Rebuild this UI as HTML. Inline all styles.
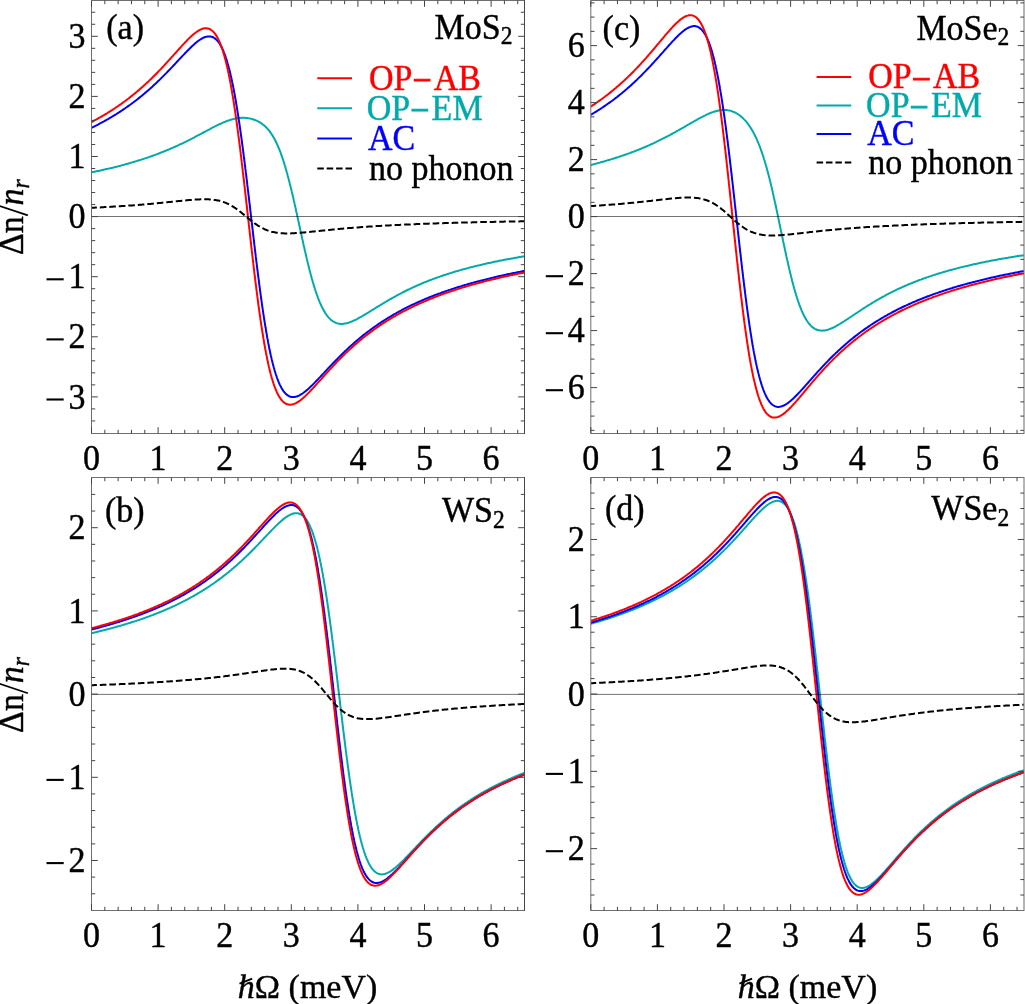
<!DOCTYPE html>
<html><head><meta charset="utf-8"><style>
html,body{margin:0;padding:0;background:#fff;overflow:hidden;}
svg{display:block;will-change:transform;}
text{stroke:#000;stroke-width:0.4px;}
</style></head><body>
<svg width="1025" height="1004" viewBox="0 0 1025 1004" font-family='"Liberation Serif", serif' font-size="34"><rect width="1025" height="1004" fill="#fff"/><clipPath id="clipa"><rect x="91.5" y="0.5" width="433.0" height="433.0"/></clipPath>
<g clip-path="url(#clipa)" fill="none" stroke-width="2.0" stroke-linejoin="round">
<path d="M91.5,172.3 92.5,172.1 93.5,171.9 94.5,171.7 95.5,171.5 96.5,171.3 97.5,171.1 98.5,170.9 99.5,170.7 100.5,170.4 101.5,170.2 102.5,170.0 103.5,169.8 104.5,169.6 105.5,169.3 106.5,169.1 107.5,168.9 108.5,168.6 109.5,168.4 110.5,168.2 111.5,167.9 112.5,167.7 113.5,167.4 114.5,167.2 115.5,166.9 116.5,166.7 117.5,166.4 118.5,166.2 119.5,165.9 120.5,165.7 121.5,165.4 122.5,165.1 123.5,164.9 124.5,164.6 125.5,164.3 126.5,164.0 127.5,163.8 128.5,163.5 129.5,163.2 130.5,162.9 131.5,162.6 132.5,162.3 133.5,162.0 134.5,161.7 135.5,161.4 136.5,161.1 137.5,160.8 138.5,160.5 139.5,160.2 140.5,159.9 141.5,159.6 142.5,159.2 143.5,158.9 144.5,158.6 145.5,158.2 146.5,157.9 147.5,157.6 148.5,157.2 149.5,156.9 150.5,156.5 151.5,156.2 152.5,155.8 153.5,155.5 154.5,155.1 155.5,154.7 156.5,154.4 157.5,154.0 158.5,153.6 159.5,153.2 160.5,152.8 161.5,152.4 162.5,152.0 163.5,151.6 164.5,151.2 165.5,150.8 166.5,150.4 167.5,150.0 168.5,149.6 169.5,149.2 170.5,148.7 171.5,148.3 172.5,147.9 173.5,147.4 174.5,147.0 175.5,146.5 176.5,146.1 177.5,145.6 178.5,145.2 179.5,144.7 180.5,144.2 181.5,143.8 182.5,143.3 183.5,142.8 184.5,142.3 185.5,141.8 186.5,141.3 187.5,140.8 188.5,140.3 189.5,139.8 190.5,139.3 191.5,138.8 192.5,138.3 193.5,137.8 194.5,137.3 195.5,136.7 196.5,136.2 197.5,135.7 198.5,135.2 199.5,134.6 200.5,134.1 201.5,133.6 202.5,133.0 203.5,132.5 204.5,132.0 205.5,131.4 206.5,130.9 207.5,130.3 208.5,129.8 209.5,129.3 210.5,128.8 211.5,128.2 212.5,127.7 213.5,127.2 214.5,126.7 215.5,126.2 216.5,125.7 217.5,125.2 218.5,124.7 219.5,124.2 220.5,123.8 221.5,123.3 222.5,122.9 223.5,122.4 224.5,122.0 225.5,121.6 226.5,121.2 227.5,120.8 228.5,120.5 229.5,120.2 230.5,119.8 231.5,119.5 232.5,119.3 233.5,119.0 234.5,118.8 235.5,118.6 236.5,118.4 237.5,118.2 238.5,118.1 239.5,118.0 240.5,117.9 241.5,117.8 242.5,117.8 243.5,117.8 244.5,117.8 245.5,117.9 246.5,118.0 247.5,118.1 248.5,118.3 249.5,118.4 250.5,118.6 251.5,118.9 252.5,119.2 253.5,119.5 254.5,119.8 255.5,120.2 256.5,120.6 257.5,121.1 258.5,121.6 259.5,122.2 260.5,122.8 261.5,123.4 262.5,124.2 263.5,124.9 264.5,125.8 265.5,126.7 266.5,127.7 267.5,128.8 268.5,129.9 269.5,131.2 270.5,132.6 271.5,134.0 272.0,134.8 272.5,135.6 273.0,136.4 273.5,137.2 274.0,138.1 274.5,139.0 275.0,140.0 275.5,141.0 276.0,142.0 276.5,143.0 277.0,144.1 277.5,145.2 278.0,146.3 278.5,147.5 279.0,148.7 279.5,149.9 280.0,151.2 280.5,152.5 281.0,153.9 281.5,155.3 282.0,156.7 282.5,158.2 282.8,159.2 283.2,160.2 283.5,161.2 283.8,162.2 284.2,163.3 284.5,164.4 284.8,165.5 285.2,166.6 285.5,167.7 285.8,168.8 286.2,170.0 286.5,171.2 286.8,172.3 287.2,173.5 287.5,174.8 287.8,176.0 288.2,177.2 288.5,178.5 288.8,179.8 289.2,181.1 289.5,182.4 289.8,183.7 290.2,185.0 290.5,186.4 290.8,187.7 291.2,189.1 291.5,190.5 291.8,191.9 292.2,193.3 292.5,194.7 292.8,196.1 293.2,197.5 293.5,199.0 293.8,200.4 294.2,201.9 294.5,203.4 294.8,204.8 295.2,206.3 295.5,207.8 295.8,208.9 296.0,210.1 296.2,211.2 296.5,212.3 296.8,213.5 297.0,214.6 297.2,215.7 297.5,216.9 297.8,218.0 298.0,219.2 298.2,220.3 298.5,221.5 298.8,222.6 299.0,223.8 299.2,224.9 299.5,226.1 299.8,227.2 300.0,228.4 300.2,229.5 300.5,230.7 300.8,231.8 301.0,233.0 301.2,234.1 301.5,235.2 301.8,236.4 302.0,237.5 302.2,238.7 302.5,239.8 302.8,240.9 303.0,242.1 303.2,243.2 303.5,244.3 303.8,245.8 304.2,247.3 304.5,248.8 304.8,250.2 305.2,251.7 305.5,253.1 305.8,254.6 306.2,256.0 306.5,257.4 306.8,258.9 307.2,260.3 307.5,261.6 307.8,263.0 308.2,264.4 308.5,265.7 308.8,267.1 309.2,268.4 309.5,269.7 309.8,271.0 310.2,272.3 310.5,273.6 310.8,274.8 311.2,276.0 311.5,277.3 311.8,278.5 312.2,279.7 312.5,280.8 312.8,282.0 313.2,283.1 313.5,284.3 313.8,285.4 314.2,286.5 314.5,287.5 314.8,288.6 315.2,289.6 315.5,290.7 316.0,292.2 316.5,293.6 317.0,295.1 317.5,296.4 318.0,297.8 318.5,299.1 319.0,300.4 319.5,301.6 320.0,302.8 320.5,303.9 321.0,305.0 321.5,306.1 322.0,307.1 322.5,308.1 323.0,309.1 323.5,310.0 324.0,310.9 324.5,311.7 325.0,312.6 325.5,313.3 326.5,314.8 327.5,316.1 328.5,317.3 329.5,318.4 330.5,319.4 331.5,320.3 332.5,321.0 333.5,321.7 334.5,322.2 335.5,322.7 336.5,323.1 337.5,323.4 338.5,323.6 339.5,323.8 340.5,323.9 341.5,323.9 342.5,323.9 343.5,323.8 344.5,323.6 345.5,323.5 346.5,323.2 347.5,323.0 348.5,322.7 349.5,322.4 350.5,322.0 351.5,321.6 352.5,321.2 353.5,320.7 354.5,320.3 355.5,319.8 356.5,319.3 357.5,318.8 358.5,318.2 359.5,317.7 360.5,317.1 361.5,316.6 362.5,316.0 363.5,315.4 364.5,314.8 365.5,314.2 366.5,313.6 367.5,313.0 368.5,312.4 369.5,311.8 370.5,311.1 371.5,310.5 372.5,309.9 373.5,309.3 374.5,308.7 375.5,308.0 376.5,307.4 377.5,306.8 378.5,306.2 379.5,305.6 380.5,305.0 381.5,304.4 382.5,303.8 383.5,303.1 384.5,302.6 385.5,302.0 386.5,301.4 387.5,300.8 388.5,300.2 389.5,299.6 390.5,299.0 391.5,298.5 392.5,297.9 393.5,297.4 394.5,296.8 395.5,296.3 396.5,295.7 397.5,295.2 398.5,294.6 399.5,294.1 400.5,293.6 401.5,293.1 402.5,292.5 403.5,292.0 404.5,291.5 405.5,291.0 406.5,290.5 407.5,290.0 408.5,289.5 409.5,289.1 410.5,288.6 411.5,288.1 412.5,287.7 413.5,287.2 414.5,286.7 415.5,286.3 416.5,285.8 417.5,285.4 418.5,285.0 419.5,284.5 420.5,284.1 421.5,283.7 422.5,283.2 423.5,282.8 424.5,282.4 425.5,282.0 426.5,281.6 427.5,281.2 428.5,280.8 429.5,280.4 430.5,280.0 431.5,279.6 432.5,279.3 433.5,278.9 434.5,278.5 435.5,278.2 436.5,277.8 437.5,277.4 438.5,277.1 439.5,276.7 440.5,276.4 441.5,276.0 442.5,275.7 443.5,275.3 444.5,275.0 445.5,274.7 446.5,274.4 447.5,274.0 448.5,273.7 449.5,273.4 450.5,273.1 451.5,272.8 452.5,272.5 453.5,272.1 454.5,271.8 455.5,271.5 456.5,271.2 457.5,271.0 458.5,270.7 459.5,270.4 460.5,270.1 461.5,269.8 462.5,269.5 463.5,269.2 464.5,269.0 465.5,268.7 466.5,268.4 467.5,268.2 468.5,267.9 469.5,267.6 470.5,267.4 471.5,267.1 472.5,266.9 473.5,266.6 474.5,266.4 475.5,266.1 476.5,265.9 477.5,265.6 478.5,265.4 479.5,265.2 480.5,264.9 481.5,264.7 482.5,264.5 483.5,264.2 484.5,264.0 485.5,263.8 486.5,263.5 487.5,263.3 488.5,263.1 489.5,262.9 490.5,262.7 491.5,262.5 492.5,262.2 493.5,262.0 494.5,261.8 495.5,261.6 496.5,261.4 497.5,261.2 498.5,261.0 499.5,260.8 500.5,260.6 501.5,260.4 502.5,260.2 503.5,260.0 504.5,259.8 505.5,259.6 506.5,259.5 507.5,259.3 508.5,259.1 509.5,258.9 510.5,258.7 511.5,258.5 512.5,258.4 513.5,258.2 514.5,258.0 515.5,257.8 516.5,257.7 517.5,257.5 518.5,257.3 519.5,257.1 520.5,257.0 521.5,256.8 522.5,256.6 523.5,256.5 524.5,256.3" stroke="#00aaaa"/>
<path d="M91.5,127.8 92.5,127.3 93.5,126.8 94.5,126.3 95.5,125.8 96.5,125.3 97.5,124.8 98.5,124.3 99.5,123.7 100.5,123.2 101.5,122.7 102.5,122.1 103.5,121.6 104.5,121.0 105.5,120.5 106.5,119.9 107.5,119.3 108.5,118.8 109.5,118.2 110.5,117.6 111.5,117.0 112.5,116.4 113.5,115.8 114.5,115.2 115.5,114.6 116.5,114.0 117.5,113.3 118.5,112.7 119.5,112.1 120.5,111.4 121.5,110.7 122.5,110.1 123.5,109.4 124.5,108.7 125.5,108.0 126.5,107.3 127.5,106.6 128.5,105.9 129.5,105.2 130.5,104.5 131.5,103.8 132.5,103.0 133.5,102.3 134.5,101.5 135.5,100.7 136.5,100.0 137.5,99.2 138.5,98.4 139.5,97.6 140.5,96.8 141.5,96.0 142.5,95.2 143.5,94.3 144.5,93.5 145.5,92.6 146.5,91.8 147.5,90.9 148.5,90.0 149.5,89.2 150.5,88.3 151.5,87.4 152.5,86.5 153.5,85.5 154.5,84.6 155.5,83.7 156.5,82.7 157.5,81.8 158.5,80.8 159.5,79.9 160.5,78.9 161.5,77.9 162.5,76.9 163.5,75.9 164.5,74.9 165.5,73.9 166.5,72.9 167.5,71.8 168.5,70.8 169.5,69.7 170.5,68.7 171.5,67.6 172.5,66.6 173.5,65.5 174.5,64.5 175.5,63.4 176.5,62.3 177.5,61.3 178.5,60.2 179.5,59.1 180.5,58.0 181.5,57.0 182.5,55.9 183.5,54.9 184.5,53.8 185.5,52.8 186.5,51.7 187.5,50.7 188.5,49.7 189.5,48.7 190.5,47.7 191.5,46.7 192.5,45.8 193.5,44.9 194.5,44.0 195.5,43.1 196.5,42.3 197.5,41.5 198.5,40.7 199.5,40.0 200.5,39.4 201.5,38.8 202.5,38.2 203.5,37.7 204.5,37.3 205.5,36.9 206.5,36.7 207.5,36.5 208.5,36.4 209.5,36.4 210.5,36.5 211.5,36.7 212.5,37.0 213.5,37.5 214.5,38.1 215.5,38.9 216.5,39.8 217.5,40.9 218.5,42.1 219.5,43.5 220.0,44.3 220.5,45.2 221.0,46.1 221.5,47.0 222.0,48.0 222.5,49.1 223.0,50.2 223.5,51.3 224.0,52.6 224.5,53.8 225.0,55.2 225.5,56.6 225.8,57.6 226.2,58.6 226.5,59.6 226.8,60.7 227.2,61.8 227.5,62.9 227.8,64.0 228.2,65.2 228.5,66.4 228.8,67.7 229.2,68.9 229.5,70.2 229.8,71.6 230.2,73.0 230.5,74.4 230.8,75.8 231.2,77.2 231.5,78.7 231.8,79.9 232.0,81.1 232.2,82.2 232.5,83.4 232.8,84.6 233.0,85.9 233.2,87.1 233.5,88.4 233.8,89.7 234.0,91.0 234.2,92.3 234.5,93.7 234.8,95.1 235.0,96.4 235.2,97.8 235.5,99.3 235.8,100.7 236.0,102.2 236.2,103.6 236.5,105.1 236.7,106.3 236.9,107.6 237.1,108.8 237.3,110.0 237.5,111.3 237.7,112.6 237.9,113.8 238.1,115.1 238.3,116.4 238.5,117.7 238.7,119.0 238.9,120.4 239.1,121.7 239.3,123.1 239.5,124.4 239.7,125.8 239.9,127.2 240.1,128.6 240.3,130.0 240.5,131.4 240.7,132.8 240.9,134.3 241.1,135.7 241.3,137.2 241.5,138.6 241.7,140.1 241.9,141.6 242.1,143.1 242.3,144.6 242.5,146.1 242.7,147.4 242.8,148.6 243.0,149.9 243.2,151.2 243.3,152.5 243.5,153.8 243.7,155.1 243.8,156.4 244.0,157.7 244.2,159.0 244.3,160.3 244.5,161.7 244.7,163.0 244.8,164.3 245.0,165.7 245.2,167.0 245.3,168.4 245.5,169.7 245.7,171.1 245.8,172.4 246.0,173.8 246.2,175.2 246.3,176.5 246.5,177.9 246.7,179.3 246.8,180.7 247.0,182.1 247.2,183.5 247.3,184.9 247.5,186.3 247.7,187.7 247.8,189.1 248.0,190.5 248.2,191.9 248.3,193.3 248.5,194.7 248.7,196.1 248.8,197.5 249.0,198.9 249.2,200.4 249.3,201.8 249.5,203.2 249.7,204.6 249.8,206.0 250.0,207.5 250.2,208.9 250.3,210.3 250.5,211.7 250.7,213.2 250.8,214.6 251.0,216.0 251.2,217.5 251.3,218.9 251.5,220.3 251.7,221.7 251.8,223.2 252.0,224.6 252.2,226.0 252.3,227.5 252.5,228.9 252.7,230.3 252.8,231.7 253.0,233.1 253.2,234.6 253.3,236.0 253.5,237.4 253.7,238.8 253.8,240.2 254.0,241.6 254.2,243.0 254.3,244.4 254.5,245.8 254.7,247.2 254.8,248.6 255.0,250.0 255.2,251.4 255.3,252.8 255.5,254.2 255.7,255.6 255.8,256.9 256.0,258.3 256.2,259.7 256.3,261.1 256.5,262.4 256.7,263.8 256.8,265.1 257.0,266.5 257.2,267.8 257.3,269.2 257.5,270.5 257.7,271.8 257.8,273.1 258.0,274.5 258.2,275.8 258.3,277.1 258.5,278.4 258.7,279.7 258.8,281.0 259.0,282.3 259.2,283.6 259.3,284.8 259.5,286.1 259.7,287.6 259.9,289.1 260.1,290.6 260.3,292.1 260.5,293.6 260.7,295.1 260.9,296.5 261.1,298.0 261.3,299.4 261.5,300.9 261.7,302.3 261.9,303.7 262.1,305.1 262.3,306.5 262.5,307.9 262.7,309.3 262.9,310.6 263.1,312.0 263.3,313.3 263.5,314.6 263.7,316.0 263.9,317.3 264.1,318.6 264.3,319.8 264.5,321.1 264.7,322.4 264.9,323.6 265.1,324.9 265.3,326.1 265.5,327.3 265.8,328.8 266.0,330.3 266.2,331.8 266.5,333.2 266.8,334.7 267.0,336.1 267.2,337.5 267.5,338.9 267.8,340.2 268.0,341.6 268.2,342.9 268.5,344.2 268.8,345.5 269.0,346.7 269.2,348.0 269.5,349.2 269.8,350.4 270.0,351.6 270.2,352.8 270.5,353.9 270.8,355.5 271.2,356.9 271.5,358.4 271.8,359.8 272.2,361.2 272.5,362.5 272.8,363.8 273.2,365.1 273.5,366.4 273.8,367.6 274.2,368.8 274.5,370.0 274.8,371.1 275.2,372.2 275.5,373.3 275.8,374.3 276.2,375.4 276.5,376.3 277.0,377.8 277.5,379.1 278.0,380.4 278.5,381.7 279.0,382.9 279.5,384.0 280.0,385.1 280.5,386.1 281.0,387.0 281.5,388.0 282.0,388.8 282.5,389.6 283.5,391.1 284.5,392.4 285.5,393.5 286.5,394.4 287.5,395.2 288.5,395.8 289.5,396.3 290.5,396.7 291.5,396.9 292.5,397.0 293.5,397.0 294.5,397.0 295.5,396.8 296.5,396.5 297.5,396.2 298.5,395.8 299.5,395.3 300.5,394.7 301.5,394.1 302.5,393.5 303.5,392.8 304.5,392.0 305.5,391.2 306.5,390.4 307.5,389.6 308.5,388.7 309.5,387.7 310.5,386.8 311.5,385.8 312.5,384.9 313.5,383.9 314.5,382.9 315.5,381.8 316.5,380.8 317.5,379.8 318.5,378.7 319.5,377.6 320.5,376.6 321.5,375.5 322.5,374.4 323.5,373.4 324.5,372.3 325.5,371.2 326.5,370.2 327.5,369.1 328.5,368.0 329.5,367.0 330.5,365.9 331.5,364.9 332.5,363.8 333.5,362.8 334.5,361.7 335.5,360.7 336.5,359.7 337.5,358.7 338.5,357.6 339.5,356.6 340.5,355.7 341.5,354.7 342.5,353.7 343.5,352.7 344.5,351.8 345.5,350.8 346.5,349.9 347.5,348.9 348.5,348.0 349.5,347.1 350.5,346.2 351.5,345.3 352.5,344.4 353.5,343.5 354.5,342.6 355.5,341.7 356.5,340.9 357.5,340.0 358.5,339.2 359.5,338.4 360.5,337.5 361.5,336.7 362.5,335.9 363.5,335.1 364.5,334.3 365.5,333.5 366.5,332.8 367.5,332.0 368.5,331.2 369.5,330.5 370.5,329.7 371.5,329.0 372.5,328.3 373.5,327.6 374.5,326.9 375.5,326.2 376.5,325.5 377.5,324.8 378.5,324.1 379.5,323.4 380.5,322.8 381.5,322.1 382.5,321.4 383.5,320.8 384.5,320.2 385.5,319.5 386.5,318.9 387.5,318.3 388.5,317.7 389.5,317.1 390.5,316.5 391.5,315.9 392.5,315.3 393.5,314.7 394.5,314.1 395.5,313.6 396.5,313.0 397.5,312.4 398.5,311.9 399.5,311.3 400.5,310.8 401.5,310.3 402.5,309.7 403.5,309.2 404.5,308.7 405.5,308.2 406.5,307.7 407.5,307.2 408.5,306.7 409.5,306.2 410.5,305.7 411.5,305.2 412.5,304.7 413.5,304.3 414.5,303.8 415.5,303.3 416.5,302.9 417.5,302.4 418.5,302.0 419.5,301.5 420.5,301.1 421.5,300.6 422.5,300.2 423.5,299.8 424.5,299.3 425.5,298.9 426.5,298.5 427.5,298.1 428.5,297.7 429.5,297.3 430.5,296.9 431.5,296.5 432.5,296.1 433.5,295.7 434.5,295.3 435.5,294.9 436.5,294.5 437.5,294.2 438.5,293.8 439.5,293.4 440.5,293.1 441.5,292.7 442.5,292.3 443.5,292.0 444.5,291.6 445.5,291.3 446.5,290.9 447.5,290.6 448.5,290.2 449.5,289.9 450.5,289.6 451.5,289.2 452.5,288.9 453.5,288.6 454.5,288.2 455.5,287.9 456.5,287.6 457.5,287.3 458.5,287.0 459.5,286.7 460.5,286.4 461.5,286.1 462.5,285.7 463.5,285.4 464.5,285.1 465.5,284.9 466.5,284.6 467.5,284.3 468.5,284.0 469.5,283.7 470.5,283.4 471.5,283.1 472.5,282.9 473.5,282.6 474.5,282.3 475.5,282.0 476.5,281.8 477.5,281.5 478.5,281.2 479.5,281.0 480.5,280.7 481.5,280.4 482.5,280.2 483.5,279.9 484.5,279.7 485.5,279.4 486.5,279.2 487.5,278.9 488.5,278.7 489.5,278.4 490.5,278.2 491.5,277.9 492.5,277.7 493.5,277.5 494.5,277.2 495.5,277.0 496.5,276.8 497.5,276.5 498.5,276.3 499.5,276.1 500.5,275.9 501.5,275.6 502.5,275.4 503.5,275.2 504.5,275.0 505.5,274.8 506.5,274.5 507.5,274.3 508.5,274.1 509.5,273.9 510.5,273.7 511.5,273.5 512.5,273.3 513.5,273.1 514.5,272.9 515.5,272.7 516.5,272.5 517.5,272.3 518.5,272.1 519.5,271.9 520.5,271.7 521.5,271.5 522.5,271.3 523.5,271.1 524.5,270.9" stroke="#0000ff"/>
<path d="M91.5,122.0 92.5,121.5 93.5,121.0 94.5,120.4 95.5,119.9 96.5,119.4 97.5,118.8 98.5,118.2 99.5,117.7 100.5,117.1 101.5,116.5 102.5,116.0 103.5,115.4 104.5,114.8 105.5,114.2 106.5,113.6 107.5,113.0 108.5,112.3 109.5,111.7 110.5,111.1 111.5,110.4 112.5,109.8 113.5,109.1 114.5,108.5 115.5,107.8 116.5,107.1 117.5,106.5 118.5,105.8 119.5,105.1 120.5,104.4 121.5,103.7 122.5,102.9 123.5,102.2 124.5,101.5 125.5,100.7 126.5,100.0 127.5,99.2 128.5,98.5 129.5,97.7 130.5,96.9 131.5,96.1 132.5,95.3 133.5,94.5 134.5,93.7 135.5,92.9 136.5,92.0 137.5,91.2 138.5,90.4 139.5,89.5 140.5,88.6 141.5,87.7 142.5,86.9 143.5,86.0 144.5,85.1 145.5,84.1 146.5,83.2 147.5,82.3 148.5,81.4 149.5,80.4 150.5,79.4 151.5,78.5 152.5,77.5 153.5,76.5 154.5,75.5 155.5,74.5 156.5,73.5 157.5,72.5 158.5,71.4 159.5,70.4 160.5,69.4 161.5,68.3 162.5,67.2 163.5,66.2 164.5,65.1 165.5,64.0 166.5,62.9 167.5,61.8 168.5,60.7 169.5,59.6 170.5,58.5 171.5,57.4 172.5,56.3 173.5,55.2 174.5,54.1 175.5,53.0 176.5,51.8 177.5,50.7 178.5,49.6 179.5,48.5 180.5,47.4 181.5,46.3 182.5,45.2 183.5,44.1 184.5,43.1 185.5,42.0 186.5,41.0 187.5,39.9 188.5,38.9 189.5,37.9 190.5,37.0 191.5,36.1 192.5,35.2 193.5,34.3 194.5,33.5 195.5,32.7 196.5,32.0 197.5,31.3 198.5,30.7 199.5,30.1 200.5,29.6 201.5,29.1 202.5,28.8 203.5,28.5 204.5,28.3 205.5,28.2 206.5,28.3 207.5,28.4 208.5,28.6 209.5,29.0 210.5,29.5 211.5,30.2 212.5,31.0 213.5,31.9 214.5,33.1 215.5,34.4 216.0,35.2 216.5,35.9 217.0,36.8 217.5,37.7 218.0,38.6 218.5,39.6 219.0,40.7 219.5,41.8 220.0,43.0 220.5,44.2 221.0,45.5 221.5,46.9 222.0,48.3 222.5,49.8 222.8,50.8 223.2,51.9 223.5,52.9 223.8,54.1 224.2,55.2 224.5,56.4 224.8,57.6 225.2,58.9 225.5,60.1 225.8,61.4 226.2,62.8 226.5,64.2 226.8,65.6 227.2,67.0 227.5,68.5 227.8,69.6 228.0,70.8 228.2,71.9 228.5,73.1 228.8,74.3 229.0,75.5 229.2,76.8 229.5,78.0 229.8,79.3 230.0,80.6 230.2,81.9 230.5,83.3 230.8,84.6 231.0,86.0 231.2,87.4 231.5,88.8 231.8,90.3 232.0,91.7 232.2,93.2 232.5,94.7 232.7,95.9 232.9,97.1 233.1,98.3 233.3,99.6 233.5,100.8 233.7,102.1 233.9,103.4 234.1,104.7 234.3,106.0 234.5,107.3 234.7,108.6 234.9,110.0 235.1,111.3 235.3,112.7 235.5,114.1 235.7,115.5 235.9,116.9 236.1,118.3 236.3,119.7 236.5,121.1 236.7,122.6 236.9,124.0 237.1,125.5 237.3,126.9 237.5,128.4 237.7,129.7 237.8,130.9 238.0,132.2 238.2,133.4 238.3,134.7 238.5,136.0 238.7,137.3 238.8,138.6 239.0,139.9 239.2,141.2 239.3,142.5 239.5,143.8 239.7,145.1 239.8,146.5 240.0,147.8 240.2,149.2 240.3,150.5 240.5,151.9 240.7,153.2 240.8,154.6 241.0,156.0 241.2,157.3 241.3,158.7 241.5,160.1 241.7,161.5 241.8,162.9 242.0,164.3 242.2,165.7 242.3,167.1 242.5,168.5 242.7,170.0 242.8,171.4 243.0,172.8 243.2,174.2 243.3,175.7 243.5,177.1 243.7,178.6 243.8,180.0 244.0,181.5 244.2,182.9 244.3,184.4 244.5,185.8 244.7,187.3 244.8,188.8 245.0,190.2 245.2,191.7 245.3,193.2 245.5,194.6 245.7,196.1 245.8,197.6 246.0,199.1 246.2,200.6 246.3,202.0 246.5,203.5 246.7,205.0 246.8,206.5 247.0,208.0 247.2,209.5 247.3,211.0 247.5,212.5 247.7,213.9 247.8,215.4 248.0,216.9 248.2,218.4 248.3,219.9 248.5,221.4 248.7,222.9 248.8,224.4 249.0,225.9 249.2,227.4 249.3,228.8 249.5,230.3 249.7,231.8 249.8,233.3 250.0,234.8 250.2,236.3 250.3,237.7 250.5,239.2 250.7,240.7 250.8,242.2 251.0,243.6 251.2,245.1 251.3,246.6 251.5,248.0 251.7,249.5 251.8,250.9 252.0,252.4 252.2,253.8 252.3,255.3 252.5,256.7 252.7,258.1 252.8,259.6 253.0,261.0 253.2,262.4 253.3,263.9 253.5,265.3 253.7,266.7 253.8,268.1 254.0,269.5 254.2,270.9 254.3,272.3 254.5,273.7 254.7,275.1 254.8,276.5 255.0,277.8 255.2,279.2 255.3,280.6 255.5,281.9 255.7,283.3 255.8,284.6 256.0,285.9 256.2,287.3 256.3,288.6 256.5,289.9 256.7,291.2 256.8,292.6 257.0,293.9 257.2,295.2 257.3,296.4 257.5,297.7 257.7,299.0 257.8,300.3 258.0,301.5 258.2,302.8 258.3,304.0 258.5,305.3 258.7,306.8 258.9,308.2 259.1,309.7 259.3,311.1 259.5,312.6 259.7,314.0 259.9,315.4 260.1,316.8 260.3,318.2 260.5,319.6 260.7,320.9 260.9,322.3 261.1,323.6 261.3,325.0 261.5,326.3 261.7,327.6 261.9,328.9 262.1,330.2 262.3,331.5 262.5,332.7 262.7,334.0 262.9,335.2 263.1,336.5 263.3,337.7 263.5,338.9 263.8,340.4 264.0,341.8 264.2,343.3 264.5,344.7 264.8,346.1 265.0,347.5 265.2,348.9 265.5,350.2 265.8,351.5 266.0,352.9 266.2,354.1 266.5,355.4 266.8,356.7 267.0,357.9 267.2,359.1 267.5,360.3 267.8,361.5 268.0,362.7 268.2,363.8 268.5,364.9 268.8,366.4 269.2,367.8 269.5,369.2 269.8,370.6 270.2,371.9 270.5,373.2 270.8,374.5 271.2,375.7 271.5,376.9 271.8,378.1 272.2,379.2 272.5,380.3 272.8,381.4 273.2,382.5 273.5,383.5 274.0,385.0 274.5,386.4 275.0,387.7 275.5,389.0 276.0,390.2 276.5,391.4 277.0,392.5 277.5,393.5 278.0,394.5 278.5,395.4 279.0,396.3 279.5,397.2 280.0,397.9 280.5,398.7 281.5,400.0 282.5,401.1 283.5,402.1 284.5,402.9 285.5,403.5 286.5,404.0 287.5,404.3 288.5,404.6 289.5,404.7 290.5,404.7 291.5,404.6 292.5,404.4 293.5,404.1 294.5,403.8 295.5,403.3 296.5,402.8 297.5,402.2 298.5,401.6 299.5,400.9 300.5,400.2 301.5,399.4 302.5,398.5 303.5,397.7 304.5,396.8 305.5,395.9 306.5,394.9 307.5,393.9 308.5,392.9 309.5,391.9 310.5,390.8 311.5,389.8 312.5,388.7 313.5,387.6 314.5,386.5 315.5,385.4 316.5,384.3 317.5,383.2 318.5,382.1 319.5,381.0 320.5,379.9 321.5,378.8 322.5,377.6 323.5,376.5 324.5,375.4 325.5,374.3 326.5,373.2 327.5,372.1 328.5,371.0 329.5,369.9 330.5,368.8 331.5,367.7 332.5,366.7 333.5,365.6 334.5,364.5 335.5,363.5 336.5,362.4 337.5,361.4 338.5,360.4 339.5,359.3 340.5,358.3 341.5,357.3 342.5,356.3 343.5,355.3 344.5,354.4 345.5,353.4 346.5,352.4 347.5,351.5 348.5,350.6 349.5,349.6 350.5,348.7 351.5,347.8 352.5,346.9 353.5,346.0 354.5,345.1 355.5,344.2 356.5,343.4 357.5,342.5 358.5,341.6 359.5,340.8 360.5,340.0 361.5,339.2 362.5,338.3 363.5,337.5 364.5,336.7 365.5,335.9 366.5,335.2 367.5,334.4 368.5,333.6 369.5,332.9 370.5,332.1 371.5,331.4 372.5,330.6 373.5,329.9 374.5,329.2 375.5,328.5 376.5,327.8 377.5,327.1 378.5,326.4 379.5,325.7 380.5,325.1 381.5,324.4 382.5,323.7 383.5,323.1 384.5,322.4 385.5,321.8 386.5,321.2 387.5,320.5 388.5,319.9 389.5,319.3 390.5,318.7 391.5,318.1 392.5,317.5 393.5,316.9 394.5,316.3 395.5,315.8 396.5,315.2 397.5,314.6 398.5,314.1 399.5,313.5 400.5,313.0 401.5,312.4 402.5,311.9 403.5,311.4 404.5,310.9 405.5,310.3 406.5,309.8 407.5,309.3 408.5,308.8 409.5,308.3 410.5,307.8 411.5,307.3 412.5,306.8 413.5,306.4 414.5,305.9 415.5,305.4 416.5,305.0 417.5,304.5 418.5,304.0 419.5,303.6 420.5,303.1 421.5,302.7 422.5,302.3 423.5,301.8 424.5,301.4 425.5,301.0 426.5,300.5 427.5,300.1 428.5,299.7 429.5,299.3 430.5,298.9 431.5,298.5 432.5,298.1 433.5,297.7 434.5,297.3 435.5,296.9 436.5,296.5 437.5,296.1 438.5,295.8 439.5,295.4 440.5,295.0 441.5,294.6 442.5,294.3 443.5,293.9 444.5,293.5 445.5,293.2 446.5,292.8 447.5,292.5 448.5,292.1 449.5,291.8 450.5,291.5 451.5,291.1 452.5,290.8 453.5,290.5 454.5,290.1 455.5,289.8 456.5,289.5 457.5,289.1 458.5,288.8 459.5,288.5 460.5,288.2 461.5,287.9 462.5,287.6 463.5,287.3 464.5,287.0 465.5,286.7 466.5,286.4 467.5,286.1 468.5,285.8 469.5,285.5 470.5,285.2 471.5,284.9 472.5,284.6 473.5,284.4 474.5,284.1 475.5,283.8 476.5,283.5 477.5,283.2 478.5,283.0 479.5,282.7 480.5,282.4 481.5,282.2 482.5,281.9 483.5,281.7 484.5,281.4 485.5,281.1 486.5,280.9 487.5,280.6 488.5,280.4 489.5,280.1 490.5,279.9 491.5,279.6 492.5,279.4 493.5,279.2 494.5,278.9 495.5,278.7 496.5,278.4 497.5,278.2 498.5,278.0 499.5,277.7 500.5,277.5 501.5,277.3 502.5,277.1 503.5,276.8 504.5,276.6 505.5,276.4 506.5,276.2 507.5,276.0 508.5,275.7 509.5,275.5 510.5,275.3 511.5,275.1 512.5,274.9 513.5,274.7 514.5,274.5 515.5,274.3 516.5,274.1 517.5,273.9 518.5,273.6 519.5,273.4 520.5,273.2 521.5,273.1 522.5,272.9 523.5,272.7 524.5,272.5" stroke="#ff0000"/>
<path d="M91.5,207.8 92.5,207.8 93.5,207.7 94.5,207.7 95.5,207.6 96.5,207.6 97.5,207.5 98.5,207.5 99.5,207.4 100.5,207.4 101.5,207.3 102.5,207.3 103.5,207.2 104.5,207.1 105.5,207.1 106.5,207.0 107.5,207.0 108.5,206.9 109.5,206.9 110.5,206.8 111.5,206.7 112.5,206.7 113.5,206.6 114.5,206.6 115.5,206.5 116.5,206.4 117.5,206.4 118.5,206.3 119.5,206.3 120.5,206.2 121.5,206.1 122.5,206.1 123.5,206.0 124.5,205.9 125.5,205.9 126.5,205.8 127.5,205.7 128.5,205.6 129.5,205.6 130.5,205.5 131.5,205.4 132.5,205.4 133.5,205.3 134.5,205.2 135.5,205.1 136.5,205.0 137.5,205.0 138.5,204.9 139.5,204.8 140.5,204.7 141.5,204.7 142.5,204.6 143.5,204.5 144.5,204.4 145.5,204.3 146.5,204.2 147.5,204.1 148.5,204.1 149.5,204.0 150.5,203.9 151.5,203.8 152.5,203.7 153.5,203.6 154.5,203.5 155.5,203.4 156.5,203.3 157.5,203.2 158.5,203.1 159.5,203.0 160.5,202.9 161.5,202.8 162.5,202.7 163.5,202.6 164.5,202.5 165.5,202.4 166.5,202.3 167.5,202.2 168.5,202.1 169.5,202.0 170.5,201.9 171.5,201.8 172.5,201.7 173.5,201.6 174.5,201.5 175.5,201.4 176.5,201.3 177.5,201.2 178.5,201.1 179.5,201.0 180.5,200.9 181.5,200.8 182.5,200.7 183.5,200.6 184.5,200.5 185.5,200.4 186.5,200.3 187.5,200.2 188.5,200.1 189.5,200.0 190.5,200.0 191.5,199.9 192.5,199.8 193.5,199.7 194.5,199.6 195.5,199.6 196.5,199.5 197.5,199.5 198.5,199.4 199.5,199.4 200.5,199.3 201.5,199.3 202.5,199.3 203.5,199.2 204.5,199.2 205.5,199.2 206.5,199.3 207.5,199.3 208.5,199.3 209.5,199.4 210.5,199.4 211.5,199.5 212.5,199.6 213.5,199.7 214.5,199.9 215.5,200.0 216.5,200.2 217.5,200.4 218.5,200.6 219.5,200.8 220.5,201.1 221.5,201.4 222.5,201.7 223.5,202.0 224.5,202.4 225.5,202.7 226.5,203.2 227.5,203.6 228.5,204.1 229.5,204.6 230.5,205.1 231.5,205.7 232.5,206.3 233.5,206.9 234.5,207.6 235.5,208.2 236.5,208.9 237.5,209.7 238.5,210.4 239.5,211.2 240.5,211.9 241.5,212.7 242.5,213.6 243.5,214.4 244.5,215.2 245.5,216.0 246.5,216.8 247.5,217.7 248.5,218.5 249.5,219.3 250.5,220.1 251.5,220.9 252.5,221.7 253.5,222.4 254.5,223.2 255.5,223.9 256.5,224.6 257.5,225.3 258.5,225.9 259.5,226.5 260.5,227.1 261.5,227.7 262.5,228.2 263.5,228.7 264.5,229.2 265.5,229.6 266.5,230.0 267.5,230.4 268.5,230.7 269.5,231.1 270.5,231.4 271.5,231.7 272.5,231.9 273.5,232.1 274.5,232.3 275.5,232.5 276.5,232.7 277.5,232.8 278.5,233.0 279.5,233.1 280.5,233.2 281.5,233.2 282.5,233.3 283.5,233.3 284.5,233.4 285.5,233.4 286.5,233.4 287.5,233.4 288.5,233.4 289.5,233.4 290.5,233.4 291.5,233.3 292.5,233.3 293.5,233.2 294.5,233.2 295.5,233.1 296.5,233.1 297.5,233.0 298.5,232.9 299.5,232.8 300.5,232.8 301.5,232.7 302.5,232.6 303.5,232.5 304.5,232.4 305.5,232.3 306.5,232.2 307.5,232.1 308.5,232.0 309.5,231.9 310.5,231.8 311.5,231.7 312.5,231.6 313.5,231.5 314.5,231.4 315.5,231.3 316.5,231.2 317.5,231.1 318.5,231.0 319.5,230.9 320.5,230.8 321.5,230.7 322.5,230.6 323.5,230.5 324.5,230.4 325.5,230.3 326.5,230.2 327.5,230.1 328.5,230.0 329.5,229.9 330.5,229.8 331.5,229.7 332.5,229.6 333.5,229.5 334.5,229.4 335.5,229.3 336.5,229.2 337.5,229.1 338.5,229.0 339.5,228.9 340.5,228.8 341.5,228.7 342.5,228.7 343.5,228.6 344.5,228.5 345.5,228.4 346.5,228.3 347.5,228.2 348.5,228.1 349.5,228.1 350.5,228.0 351.5,227.9 352.5,227.8 353.5,227.7 354.5,227.7 355.5,227.6 356.5,227.5 357.5,227.4 358.5,227.4 359.5,227.3 360.5,227.2 361.5,227.1 362.5,227.1 363.5,227.0 364.5,226.9 365.5,226.8 366.5,226.8 367.5,226.7 368.5,226.6 369.5,226.6 370.5,226.5 371.5,226.4 372.5,226.4 373.5,226.3 374.5,226.3 375.5,226.2 376.5,226.1 377.5,226.1 378.5,226.0 379.5,225.9 380.5,225.9 381.5,225.8 382.5,225.8 383.5,225.7 384.5,225.7 385.5,225.6 386.5,225.5 387.5,225.5 388.5,225.4 389.5,225.4 390.5,225.3 391.5,225.3 392.5,225.2 393.5,225.2 394.5,225.1 395.5,225.1 396.5,225.0 397.5,225.0 398.5,224.9 399.5,224.9 400.5,224.8 401.5,224.8 402.5,224.7 403.5,224.7 404.5,224.6 405.5,224.6 406.5,224.5 407.5,224.5 408.5,224.5 409.5,224.4 410.5,224.4 411.5,224.3 412.5,224.3 413.5,224.2 414.5,224.2 415.5,224.2 416.5,224.1 417.5,224.1 418.5,224.0 419.5,224.0 420.5,224.0 421.5,223.9 422.5,223.9 423.5,223.8 424.5,223.8 425.5,223.8 426.5,223.7 427.5,223.7 428.5,223.7 429.5,223.6 430.5,223.6 431.5,223.6 432.5,223.5 433.5,223.5 434.5,223.4 435.5,223.4 436.5,223.4 437.5,223.3 438.5,223.3 439.5,223.3 440.5,223.2 441.5,223.2 442.5,223.2 443.5,223.2 444.5,223.1 445.5,223.1 446.5,223.1 447.5,223.0 448.5,223.0 449.5,223.0 450.5,222.9 451.5,222.9 452.5,222.9 453.5,222.8 454.5,222.8 455.5,222.8 456.5,222.8 457.5,222.7 458.5,222.7 459.5,222.7 460.5,222.7 461.5,222.6 462.5,222.6 463.5,222.6 464.5,222.5 465.5,222.5 466.5,222.5 467.5,222.5 468.5,222.4 469.5,222.4 470.5,222.4 471.5,222.4 472.5,222.3 473.5,222.3 474.5,222.3 475.5,222.3 476.5,222.2 477.5,222.2 478.5,222.2 479.5,222.2 480.5,222.1 481.5,222.1 482.5,222.1 483.5,222.1 484.5,222.1 485.5,222.0 486.5,222.0 487.5,222.0 488.5,222.0 489.5,221.9 490.5,221.9 491.5,221.9 492.5,221.9 493.5,221.9 494.5,221.8 495.5,221.8 496.5,221.8 497.5,221.8 498.5,221.8 499.5,221.7 500.5,221.7 501.5,221.7 502.5,221.7 503.5,221.7 504.5,221.6 505.5,221.6 506.5,221.6 507.5,221.6 508.5,221.6 509.5,221.5 510.5,221.5 511.5,221.5 512.5,221.5 513.5,221.5 514.5,221.4 515.5,221.4 516.5,221.4 517.5,221.4 518.5,221.4 519.5,221.4 520.5,221.3 521.5,221.3 522.5,221.3 523.5,221.3 524.5,221.3" stroke="#000000" stroke-dasharray="6.6,2.93" stroke-dashoffset="1.2"/>
</g>
<path d="M91.5,216.5H524.5" stroke="#000" stroke-opacity="0.55" stroke-width="1"/>
<path d="M91.5,433.5V0.5H524.5M524.5,433.5H91.5" fill="none" stroke="#6e6e6e" stroke-width="1"/>
<path d="M524.5,0.0V434.0" fill="none" stroke="#474747" stroke-width="1"/>
<path d="M91.50,433.5v-6.3M91.50,0.5v6.3M104.82,433.5v-3.7M104.82,0.5v3.7M118.14,433.5v-3.7M118.14,0.5v3.7M131.46,433.5v-3.7M131.46,0.5v3.7M144.78,433.5v-3.7M144.78,0.5v3.7M158.10,433.5v-6.3M158.10,0.5v6.3M171.42,433.5v-3.7M171.42,0.5v3.7M184.74,433.5v-3.7M184.74,0.5v3.7M198.06,433.5v-3.7M198.06,0.5v3.7M211.38,433.5v-3.7M211.38,0.5v3.7M224.70,433.5v-6.3M224.70,0.5v6.3M238.02,433.5v-3.7M238.02,0.5v3.7M251.34,433.5v-3.7M251.34,0.5v3.7M264.66,433.5v-3.7M264.66,0.5v3.7M277.98,433.5v-3.7M277.98,0.5v3.7M291.30,433.5v-6.3M291.30,0.5v6.3M304.62,433.5v-3.7M304.62,0.5v3.7M317.94,433.5v-3.7M317.94,0.5v3.7M331.26,433.5v-3.7M331.26,0.5v3.7M344.58,433.5v-3.7M344.58,0.5v3.7M357.90,433.5v-6.3M357.90,0.5v6.3M371.22,433.5v-3.7M371.22,0.5v3.7M384.54,433.5v-3.7M384.54,0.5v3.7M397.86,433.5v-3.7M397.86,0.5v3.7M411.18,433.5v-3.7M411.18,0.5v3.7M424.50,433.5v-6.3M424.50,0.5v6.3M437.82,433.5v-3.7M437.82,0.5v3.7M451.14,433.5v-3.7M451.14,0.5v3.7M464.46,433.5v-3.7M464.46,0.5v3.7M477.78,433.5v-3.7M477.78,0.5v3.7M491.10,433.5v-6.3M491.10,0.5v6.3M504.42,433.5v-3.7M504.42,0.5v3.7M517.74,433.5v-3.7M517.74,0.5v3.7M91.5,420.94h3.7M524.5,420.94h-3.7M91.5,408.92h3.7M524.5,408.92h-3.7M91.5,396.90h6.3M524.5,396.90h-6.3M91.5,384.88h3.7M524.5,384.88h-3.7M91.5,372.86h3.7M524.5,372.86h-3.7M91.5,360.84h3.7M524.5,360.84h-3.7M91.5,348.82h3.7M524.5,348.82h-3.7M91.5,336.80h6.3M524.5,336.80h-6.3M91.5,324.78h3.7M524.5,324.78h-3.7M91.5,312.76h3.7M524.5,312.76h-3.7M91.5,300.74h3.7M524.5,300.74h-3.7M91.5,288.72h3.7M524.5,288.72h-3.7M91.5,276.70h6.3M524.5,276.70h-6.3M91.5,264.68h3.7M524.5,264.68h-3.7M91.5,252.66h3.7M524.5,252.66h-3.7M91.5,240.64h3.7M524.5,240.64h-3.7M91.5,228.62h3.7M524.5,228.62h-3.7M91.5,216.60h6.3M524.5,216.60h-6.3M91.5,204.58h3.7M524.5,204.58h-3.7M91.5,192.56h3.7M524.5,192.56h-3.7M91.5,180.54h3.7M524.5,180.54h-3.7M91.5,168.52h3.7M524.5,168.52h-3.7M91.5,156.50h6.3M524.5,156.50h-6.3M91.5,144.48h3.7M524.5,144.48h-3.7M91.5,132.46h3.7M524.5,132.46h-3.7M91.5,120.44h3.7M524.5,120.44h-3.7M91.5,108.42h3.7M524.5,108.42h-3.7M91.5,96.40h6.3M524.5,96.40h-6.3M91.5,84.38h3.7M524.5,84.38h-3.7M91.5,72.36h3.7M524.5,72.36h-3.7M91.5,60.34h3.7M524.5,60.34h-3.7M91.5,48.32h3.7M524.5,48.32h-3.7M91.5,36.30h6.3M524.5,36.30h-6.3M91.5,24.28h3.7M524.5,24.28h-3.7M91.5,12.26h3.7M524.5,12.26h-3.7" stroke="#444" stroke-width="1" fill="none"/>
<text transform="translate(91.50,469.5) scale(1,1.03)" text-anchor="middle">0</text><text transform="translate(158.10,469.5) scale(1,1.03)" text-anchor="middle">1</text><text transform="translate(224.70,469.5) scale(1,1.03)" text-anchor="middle">2</text><text transform="translate(291.30,469.5) scale(1,1.03)" text-anchor="middle">3</text><text transform="translate(357.90,469.5) scale(1,1.03)" text-anchor="middle">4</text><text transform="translate(424.50,469.5) scale(1,1.03)" text-anchor="middle">5</text><text transform="translate(491.10,469.5) scale(1,1.03)" text-anchor="middle">6</text><text transform="translate(85.50,408.5) scale(1,1.03)" text-anchor="end">3</text><path d="M46.5,399.5H63.7" stroke="#000" stroke-width="2.1"/><text transform="translate(85.50,348.4) scale(1,1.03)" text-anchor="end">2</text><path d="M46.5,339.4H63.7" stroke="#000" stroke-width="2.1"/><text transform="translate(85.50,288.3) scale(1,1.03)" text-anchor="end">1</text><path d="M46.5,279.3H63.7" stroke="#000" stroke-width="2.1"/><text transform="translate(85.50,228.2) scale(1,1.03)" text-anchor="end">0</text><text transform="translate(85.50,168.1) scale(1,1.03)" text-anchor="end">1</text><text transform="translate(85.50,108.0) scale(1,1.03)" text-anchor="end">2</text><text transform="translate(85.50,47.9) scale(1,1.03)" text-anchor="end">3</text><clipPath id="clipc"><rect x="590.8" y="0.5" width="433.20000000000005" height="433.0"/></clipPath>
<g clip-path="url(#clipc)" fill="none" stroke-width="2.0" stroke-linejoin="round">
<path d="M590.8,164.9 591.8,164.7 592.8,164.4 593.8,164.2 594.8,163.9 595.8,163.7 596.8,163.4 597.8,163.1 598.8,162.9 599.8,162.6 600.8,162.3 601.8,162.0 602.8,161.7 603.8,161.5 604.8,161.2 605.8,160.9 606.8,160.6 607.8,160.3 608.8,160.0 609.8,159.7 610.8,159.4 611.8,159.1 612.8,158.8 613.8,158.5 614.8,158.2 615.8,157.8 616.8,157.5 617.8,157.2 618.8,156.9 619.8,156.5 620.8,156.2 621.8,155.9 622.8,155.5 623.8,155.2 624.8,154.8 625.8,154.5 626.8,154.1 627.8,153.8 628.8,153.4 629.8,153.1 630.8,152.7 631.8,152.3 632.8,151.9 633.8,151.6 634.8,151.2 635.8,150.8 636.8,150.4 637.8,150.0 638.8,149.6 639.8,149.2 640.8,148.8 641.8,148.4 642.8,148.0 643.8,147.5 644.8,147.1 645.8,146.7 646.8,146.3 647.8,145.8 648.8,145.4 649.8,144.9 650.8,144.5 651.8,144.0 652.8,143.6 653.8,143.1 654.8,142.6 655.8,142.2 656.8,141.7 657.8,141.2 658.8,140.7 659.8,140.2 660.8,139.7 661.8,139.2 662.8,138.7 663.8,138.2 664.8,137.7 665.8,137.2 666.8,136.7 667.8,136.1 668.8,135.6 669.8,135.1 670.8,134.5 671.8,134.0 672.8,133.5 673.8,132.9 674.8,132.4 675.8,131.8 676.8,131.2 677.8,130.7 678.8,130.1 679.8,129.5 680.8,129.0 681.8,128.4 682.8,127.8 683.8,127.3 684.8,126.7 685.8,126.1 686.8,125.5 687.8,124.9 688.8,124.4 689.8,123.8 690.8,123.2 691.8,122.6 692.8,122.1 693.8,121.5 694.8,120.9 695.8,120.3 696.8,119.8 697.8,119.2 698.8,118.7 699.8,118.1 700.8,117.6 701.8,117.1 702.8,116.6 703.8,116.0 704.8,115.6 705.8,115.1 706.8,114.6 707.8,114.1 708.8,113.7 709.8,113.3 710.8,112.9 711.8,112.5 712.8,112.1 713.8,111.8 714.8,111.5 715.8,111.2 716.8,110.9 717.8,110.7 718.8,110.5 719.8,110.3 720.8,110.2 721.8,110.1 722.8,110.0 723.8,110.0 724.8,110.0 725.8,110.0 726.8,110.1 727.8,110.3 728.8,110.4 729.8,110.6 730.8,110.9 731.8,111.2 732.8,111.6 733.8,112.0 734.8,112.4 735.8,112.9 736.8,113.5 737.8,114.1 738.8,114.8 739.8,115.5 740.8,116.3 741.8,117.2 742.8,118.1 743.8,119.1 744.8,120.1 745.8,121.2 746.8,122.4 747.8,123.7 748.8,125.1 749.8,126.5 750.3,127.3 750.8,128.1 751.3,128.9 751.8,129.7 752.3,130.6 752.8,131.4 753.3,132.3 753.8,133.3 754.3,134.2 754.8,135.2 755.3,136.2 755.8,137.3 756.3,138.3 756.8,139.4 757.3,140.6 757.8,141.7 758.3,142.9 758.8,144.2 759.3,145.4 759.8,146.7 760.3,148.0 760.8,149.4 761.3,150.8 761.8,152.2 762.3,153.7 762.8,155.2 763.1,156.2 763.5,157.2 763.8,158.3 764.1,159.3 764.5,160.4 764.8,161.5 765.1,162.6 765.5,163.8 765.8,164.9 766.1,166.1 766.5,167.2 766.8,168.4 767.1,169.6 767.5,170.9 767.8,172.1 768.1,173.4 768.5,174.6 768.8,175.9 769.1,177.2 769.5,178.5 769.8,179.9 770.1,181.2 770.5,182.6 770.8,183.9 771.1,185.3 771.5,186.7 771.8,188.1 772.1,189.5 772.5,191.0 772.8,192.4 773.1,193.9 773.5,195.4 773.8,196.8 774.0,198.0 774.3,199.1 774.5,200.2 774.8,201.3 775.0,202.5 775.3,203.6 775.5,204.8 775.8,205.9 776.0,207.1 776.3,208.3 776.5,209.4 776.8,210.6 777.0,211.8 777.3,213.0 777.5,214.1 777.8,215.3 778.0,216.5 778.3,217.7 778.5,218.9 778.8,220.1 779.0,221.3 779.3,222.5 779.5,223.7 779.8,224.9 780.0,226.1 780.3,227.3 780.5,228.5 780.8,229.7 781.0,230.9 781.3,232.1 781.5,233.3 781.8,234.5 782.0,235.7 782.3,236.9 782.5,238.1 782.8,239.3 783.0,240.5 783.3,241.7 783.5,242.9 783.8,244.1 784.0,245.3 784.3,246.4 784.5,247.6 784.8,248.8 785.0,250.0 785.3,251.1 785.5,252.3 785.8,253.5 786.0,254.6 786.3,255.8 786.5,256.9 786.8,258.0 787.1,259.5 787.5,261.0 787.8,262.5 788.1,264.0 788.5,265.5 788.8,266.9 789.1,268.4 789.5,269.8 789.8,271.2 790.1,272.6 790.5,274.0 790.8,275.4 791.1,276.7 791.5,278.0 791.8,279.4 792.1,280.7 792.5,282.0 792.8,283.2 793.1,284.5 793.5,285.7 793.8,287.0 794.1,288.2 794.5,289.4 794.8,290.5 795.1,291.7 795.5,292.8 795.8,293.9 796.1,295.0 796.5,296.1 796.8,297.2 797.1,298.2 797.5,299.3 797.8,300.3 798.3,301.7 798.8,303.2 799.3,304.6 799.8,305.9 800.3,307.2 800.8,308.5 801.3,309.7 801.8,310.9 802.3,312.0 802.8,313.1 803.3,314.2 803.8,315.2 804.3,316.2 804.8,317.1 805.3,318.0 805.8,318.9 806.3,319.7 806.8,320.5 807.8,322.0 808.8,323.3 809.8,324.5 810.8,325.6 811.8,326.6 812.8,327.4 813.8,328.1 814.8,328.8 815.8,329.3 816.8,329.7 817.8,330.1 818.8,330.3 819.8,330.5 820.8,330.6 821.8,330.7 822.8,330.6 823.8,330.6 824.8,330.4 825.8,330.2 826.8,330.0 827.8,329.7 828.8,329.4 829.8,329.0 830.8,328.6 831.8,328.2 832.8,327.8 833.8,327.3 834.8,326.8 835.8,326.3 836.8,325.7 837.8,325.1 838.8,324.6 839.8,324.0 840.8,323.4 841.8,322.7 842.8,322.1 843.8,321.5 844.8,320.8 845.8,320.2 846.8,319.5 847.8,318.9 848.8,318.2 849.8,317.5 850.8,316.9 851.8,316.2 852.8,315.5 853.8,314.9 854.8,314.2 855.8,313.5 856.8,312.9 857.8,312.2 858.8,311.5 859.8,310.9 860.8,310.2 861.8,309.5 862.8,308.9 863.8,308.2 864.8,307.6 865.8,307.0 866.8,306.3 867.8,305.7 868.8,305.1 869.8,304.5 870.8,303.8 871.8,303.2 872.8,302.6 873.8,302.0 874.8,301.4 875.8,300.8 876.8,300.2 877.8,299.7 878.8,299.1 879.8,298.5 880.8,298.0 881.8,297.4 882.8,296.8 883.8,296.3 884.8,295.8 885.8,295.2 886.8,294.7 887.8,294.2 888.8,293.6 889.8,293.1 890.8,292.6 891.8,292.1 892.8,291.6 893.8,291.1 894.8,290.6 895.8,290.2 896.8,289.7 897.8,289.2 898.8,288.7 899.8,288.3 900.8,287.8 901.8,287.4 902.8,286.9 903.8,286.5 904.8,286.0 905.8,285.6 906.8,285.2 907.8,284.7 908.8,284.3 909.8,283.9 910.8,283.5 911.8,283.1 912.8,282.7 913.8,282.3 914.8,281.9 915.8,281.5 916.8,281.1 917.8,280.7 918.8,280.3 919.8,279.9 920.8,279.6 921.8,279.2 922.8,278.8 923.8,278.5 924.8,278.1 925.8,277.8 926.8,277.4 927.8,277.1 928.8,276.7 929.8,276.4 930.8,276.1 931.8,275.7 932.8,275.4 933.8,275.1 934.8,274.8 935.8,274.4 936.8,274.1 937.8,273.8 938.8,273.5 939.8,273.2 940.8,272.9 941.8,272.6 942.8,272.3 943.8,272.0 944.8,271.7 945.8,271.4 946.8,271.1 947.8,270.8 948.8,270.6 949.8,270.3 950.8,270.0 951.8,269.7 952.8,269.5 953.8,269.2 954.8,268.9 955.8,268.7 956.8,268.4 957.8,268.1 958.8,267.9 959.8,267.6 960.8,267.4 961.8,267.1 962.8,266.9 963.8,266.6 964.8,266.4 965.8,266.2 966.8,265.9 967.8,265.7 968.8,265.5 969.8,265.2 970.8,265.0 971.8,264.8 972.8,264.5 973.8,264.3 974.8,264.1 975.8,263.9 976.8,263.7 977.8,263.4 978.8,263.2 979.8,263.0 980.8,262.8 981.8,262.6 982.8,262.4 983.8,262.2 984.8,262.0 985.8,261.8 986.8,261.6 987.8,261.4 988.8,261.2 989.8,261.0 990.8,260.8 991.8,260.6 992.8,260.4 993.8,260.2 994.8,260.0 995.8,259.9 996.8,259.7 997.8,259.5 998.8,259.3 999.8,259.1 1000.8,259.0 1001.8,258.8 1002.8,258.6 1003.8,258.4 1004.8,258.3 1005.8,258.1 1006.8,257.9 1007.8,257.8 1008.8,257.6 1009.8,257.4 1010.8,257.3 1011.8,257.1 1012.8,256.9 1013.8,256.8 1014.8,256.6 1015.8,256.5 1016.8,256.3 1017.8,256.1 1018.8,256.0 1019.8,255.8 1020.8,255.7 1021.8,255.5 1022.8,255.4 1023.8,255.2" stroke="#00aaaa"/>
<path d="M590.8,114.8 591.8,114.2 592.8,113.6 593.8,113.0 594.8,112.4 595.8,111.8 596.8,111.2 597.8,110.5 598.8,109.9 599.8,109.3 600.8,108.6 601.8,108.0 602.8,107.3 603.8,106.6 604.8,105.9 605.8,105.2 606.8,104.5 607.8,103.8 608.8,103.1 609.8,102.4 610.8,101.7 611.8,101.0 612.8,100.2 613.8,99.5 614.8,98.7 615.8,97.9 616.8,97.2 617.8,96.4 618.8,95.6 619.8,94.8 620.8,94.0 621.8,93.2 622.8,92.3 623.8,91.5 624.8,90.7 625.8,89.8 626.8,89.0 627.8,88.1 628.8,87.2 629.8,86.3 630.8,85.4 631.8,84.5 632.8,83.6 633.8,82.7 634.8,81.7 635.8,80.8 636.8,79.9 637.8,78.9 638.8,77.9 639.8,76.9 640.8,76.0 641.8,75.0 642.8,73.9 643.8,72.9 644.8,71.9 645.8,70.9 646.8,69.8 647.8,68.8 648.8,67.7 649.8,66.7 650.8,65.6 651.8,64.5 652.8,63.4 653.8,62.3 654.8,61.2 655.8,60.1 656.8,59.0 657.8,57.9 658.8,56.8 659.8,55.7 660.8,54.5 661.8,53.4 662.8,52.3 663.8,51.1 664.8,50.0 665.8,48.9 666.8,47.8 667.8,46.6 668.8,45.5 669.8,44.4 670.8,43.3 671.8,42.2 672.8,41.1 673.8,40.1 674.8,39.0 675.8,38.0 676.8,37.0 677.8,36.0 678.8,35.0 679.8,34.1 680.8,33.2 681.8,32.3 682.8,31.5 683.8,30.7 684.8,29.9 685.8,29.2 686.8,28.6 687.8,28.0 688.8,27.5 689.8,27.1 690.8,26.7 691.8,26.4 692.8,26.2 693.8,26.1 694.8,26.1 695.8,26.3 696.8,26.5 697.8,26.9 698.8,27.4 699.8,28.1 700.8,28.9 701.8,29.9 702.8,31.0 703.8,32.4 704.3,33.1 704.8,33.9 705.3,34.7 705.8,35.6 706.3,36.6 706.8,37.6 707.3,38.7 707.8,39.8 708.3,41.0 708.8,42.2 709.3,43.5 709.8,44.9 710.3,46.3 710.8,47.8 711.1,48.9 711.5,49.9 711.8,51.0 712.1,52.2 712.5,53.3 712.8,54.5 713.1,55.7 713.5,57.0 713.8,58.3 714.1,59.6 714.5,61.0 714.8,62.3 715.1,63.8 715.5,65.2 715.8,66.7 716.0,67.8 716.3,69.0 716.5,70.2 716.8,71.4 717.0,72.6 717.3,73.8 717.5,75.1 717.8,76.4 718.0,77.6 718.3,79.0 718.5,80.3 718.8,81.6 719.0,83.0 719.3,84.4 719.5,85.8 719.8,87.2 720.0,88.7 720.3,90.2 720.5,91.7 720.8,93.2 721.0,94.4 721.2,95.6 721.4,96.9 721.6,98.1 721.8,99.4 722.0,100.7 722.2,102.0 722.4,103.3 722.6,104.6 722.8,105.9 723.0,107.3 723.2,108.6 723.4,110.0 723.6,111.3 723.8,112.7 724.0,114.1 724.2,115.5 724.4,117.0 724.6,118.4 724.8,119.8 725.0,121.3 725.2,122.8 725.4,124.2 725.6,125.7 725.8,127.2 726.0,128.5 726.1,129.8 726.3,131.0 726.5,132.3 726.6,133.6 726.8,134.9 727.0,136.2 727.1,137.5 727.3,138.8 727.5,140.1 727.6,141.5 727.8,142.8 728.0,144.1 728.1,145.5 728.3,146.8 728.5,148.2 728.6,149.5 728.8,150.9 729.0,152.3 729.1,153.7 729.3,155.0 729.5,156.4 729.6,157.8 729.8,159.2 730.0,160.6 730.1,162.1 730.3,163.5 730.5,164.9 730.6,166.3 730.8,167.8 731.0,169.2 731.1,170.6 731.3,172.1 731.5,173.5 731.6,175.0 731.8,176.4 732.0,177.9 732.1,179.3 732.3,180.8 732.5,182.3 732.6,183.8 732.8,185.2 733.0,186.7 733.1,188.2 733.3,189.7 733.5,191.2 733.6,192.6 733.8,194.1 734.0,195.6 734.1,197.1 734.3,198.6 734.5,200.1 734.6,201.6 734.8,203.1 734.9,204.4 735.1,205.7 735.2,207.0 735.4,208.3 735.5,209.6 735.7,210.9 735.8,212.2 735.9,213.4 736.1,214.7 736.2,216.0 736.4,217.3 736.5,218.6 736.7,219.9 736.8,221.2 736.9,222.5 737.1,223.8 737.2,225.1 737.4,226.4 737.5,227.6 737.7,228.9 737.8,230.2 738.0,231.7 738.1,233.2 738.3,234.7 738.5,236.2 738.6,237.7 738.8,239.2 739.0,240.7 739.1,242.2 739.3,243.7 739.5,245.2 739.6,246.6 739.8,248.1 740.0,249.6 740.1,251.1 740.3,252.5 740.5,254.0 740.6,255.5 740.8,256.9 741.0,258.4 741.1,259.8 741.3,261.3 741.5,262.7 741.6,264.1 741.8,265.6 742.0,267.0 742.1,268.4 742.3,269.9 742.5,271.3 742.6,272.7 742.8,274.1 743.0,275.5 743.1,276.9 743.3,278.3 743.5,279.7 743.6,281.0 743.8,282.4 744.0,283.8 744.1,285.1 744.3,286.5 744.5,287.8 744.6,289.2 744.8,290.5 745.0,291.9 745.1,293.2 745.3,294.5 745.5,295.8 745.6,297.1 745.8,298.4 746.0,299.7 746.1,301.0 746.3,302.3 746.5,303.5 746.6,304.8 746.8,306.1 747.0,307.6 747.2,309.0 747.4,310.5 747.6,312.0 747.8,313.4 748.0,314.9 748.2,316.3 748.4,317.7 748.6,319.1 748.8,320.5 749.0,321.9 749.2,323.3 749.4,324.7 749.6,326.0 749.8,327.3 750.0,328.7 750.2,330.0 750.4,331.3 750.6,332.6 750.8,333.9 751.0,335.1 751.2,336.4 751.4,337.6 751.6,338.9 751.8,340.1 752.0,341.6 752.3,343.1 752.5,344.5 752.8,346.0 753.0,347.4 753.3,348.8 753.5,350.2 753.8,351.6 754.0,352.9 754.3,354.2 754.5,355.6 754.8,356.8 755.0,358.1 755.3,359.4 755.5,360.6 755.8,361.8 756.0,363.0 756.3,364.2 756.5,365.3 756.8,366.5 757.1,368.0 757.5,369.4 757.8,370.8 758.1,372.2 758.5,373.6 758.8,374.9 759.1,376.2 759.5,377.4 759.8,378.6 760.1,379.8 760.5,381.0 760.8,382.1 761.1,383.2 761.5,384.3 761.8,385.3 762.3,386.8 762.8,388.2 763.3,389.6 763.8,390.9 764.3,392.1 764.8,393.3 765.3,394.4 765.8,395.5 766.3,396.5 766.8,397.5 767.3,398.3 767.8,399.2 768.3,400.0 768.8,400.7 769.8,402.1 770.8,403.2 771.8,404.2 772.8,405.0 773.8,405.6 774.8,406.1 775.8,406.5 776.8,406.8 777.8,406.9 778.8,406.9 779.8,406.8 780.8,406.6 781.8,406.3 782.8,405.9 783.8,405.5 784.8,405.0 785.8,404.4 786.8,403.8 787.8,403.1 788.8,402.3 789.8,401.5 790.8,400.7 791.8,399.8 792.8,398.9 793.8,398.0 794.8,397.0 795.8,396.0 796.8,395.0 797.8,394.0 798.8,392.9 799.8,391.9 800.8,390.8 801.8,389.7 802.8,388.6 803.8,387.5 804.8,386.3 805.8,385.2 806.8,384.1 807.8,383.0 808.8,381.8 809.8,380.7 810.8,379.6 811.8,378.4 812.8,377.3 813.8,376.2 814.8,375.1 815.8,374.0 816.8,372.9 817.8,371.7 818.8,370.6 819.8,369.6 820.8,368.5 821.8,367.4 822.8,366.3 823.8,365.3 824.8,364.2 825.8,363.1 826.8,362.1 827.8,361.1 828.8,360.0 829.8,359.0 830.8,358.0 831.8,357.0 832.8,356.0 833.8,355.1 834.8,354.1 835.8,353.1 836.8,352.2 837.8,351.2 838.8,350.3 839.8,349.4 840.8,348.5 841.8,347.6 842.8,346.7 843.8,345.8 844.8,344.9 845.8,344.0 846.8,343.2 847.8,342.3 848.8,341.5 849.8,340.6 850.8,339.8 851.8,339.0 852.8,338.2 853.8,337.4 854.8,336.6 855.8,335.8 856.8,335.1 857.8,334.3 858.8,333.5 859.8,332.8 860.8,332.0 861.8,331.3 862.8,330.6 863.8,329.9 864.8,329.1 865.8,328.4 866.8,327.8 867.8,327.1 868.8,326.4 869.8,325.7 870.8,325.0 871.8,324.4 872.8,323.7 873.8,323.1 874.8,322.4 875.8,321.8 876.8,321.2 877.8,320.6 878.8,320.0 879.8,319.4 880.8,318.8 881.8,318.2 882.8,317.6 883.8,317.0 884.8,316.4 885.8,315.8 886.8,315.3 887.8,314.7 888.8,314.2 889.8,313.6 890.8,313.1 891.8,312.5 892.8,312.0 893.8,311.5 894.8,311.0 895.8,310.5 896.8,309.9 897.8,309.4 898.8,308.9 899.8,308.4 900.8,308.0 901.8,307.5 902.8,307.0 903.8,306.5 904.8,306.0 905.8,305.6 906.8,305.1 907.8,304.7 908.8,304.2 909.8,303.8 910.8,303.3 911.8,302.9 912.8,302.4 913.8,302.0 914.8,301.6 915.8,301.1 916.8,300.7 917.8,300.3 918.8,299.9 919.8,299.5 920.8,299.1 921.8,298.7 922.8,298.3 923.8,297.9 924.8,297.5 925.8,297.1 926.8,296.7 927.8,296.3 928.8,296.0 929.8,295.6 930.8,295.2 931.8,294.9 932.8,294.5 933.8,294.1 934.8,293.8 935.8,293.4 936.8,293.1 937.8,292.7 938.8,292.4 939.8,292.0 940.8,291.7 941.8,291.4 942.8,291.0 943.8,290.7 944.8,290.4 945.8,290.0 946.8,289.7 947.8,289.4 948.8,289.1 949.8,288.8 950.8,288.5 951.8,288.2 952.8,287.8 953.8,287.5 954.8,287.2 955.8,286.9 956.8,286.6 957.8,286.3 958.8,286.1 959.8,285.8 960.8,285.5 961.8,285.2 962.8,284.9 963.8,284.6 964.8,284.4 965.8,284.1 966.8,283.8 967.8,283.5 968.8,283.3 969.8,283.0 970.8,282.7 971.8,282.5 972.8,282.2 973.8,281.9 974.8,281.7 975.8,281.4 976.8,281.2 977.8,280.9 978.8,280.7 979.8,280.4 980.8,280.2 981.8,279.9 982.8,279.7 983.8,279.4 984.8,279.2 985.8,279.0 986.8,278.7 987.8,278.5 988.8,278.3 989.8,278.0 990.8,277.8 991.8,277.6 992.8,277.4 993.8,277.1 994.8,276.9 995.8,276.7 996.8,276.5 997.8,276.3 998.8,276.0 999.8,275.8 1000.8,275.6 1001.8,275.4 1002.8,275.2 1003.8,275.0 1004.8,274.8 1005.8,274.6 1006.8,274.4 1007.8,274.2 1008.8,274.0 1009.8,273.8 1010.8,273.6 1011.8,273.4 1012.8,273.2 1013.8,273.0 1014.8,272.8 1015.8,272.6 1016.8,272.4 1017.8,272.2 1018.8,272.0 1019.8,271.8 1020.8,271.6 1021.8,271.5 1022.8,271.3 1023.8,271.1" stroke="#0000ff"/>
<path d="M590.8,106.6 591.8,105.9 592.8,105.2 593.8,104.6 594.8,103.9 595.8,103.2 596.8,102.5 597.8,101.8 598.8,101.1 599.8,100.4 600.8,99.7 601.8,99.0 602.8,98.2 603.8,97.5 604.8,96.8 605.8,96.0 606.8,95.2 607.8,94.5 608.8,93.7 609.8,92.9 610.8,92.1 611.8,91.3 612.8,90.5 613.8,89.6 614.8,88.8 615.8,88.0 616.8,87.1 617.8,86.2 618.8,85.4 619.8,84.5 620.8,83.6 621.8,82.7 622.8,81.8 623.8,80.9 624.8,79.9 625.8,79.0 626.8,78.1 627.8,77.1 628.8,76.1 629.8,75.2 630.8,74.2 631.8,73.2 632.8,72.2 633.8,71.2 634.8,70.1 635.8,69.1 636.8,68.1 637.8,67.0 638.8,66.0 639.8,64.9 640.8,63.8 641.8,62.7 642.8,61.6 643.8,60.5 644.8,59.4 645.8,58.3 646.8,57.1 647.8,56.0 648.8,54.8 649.8,53.7 650.8,52.5 651.8,51.4 652.8,50.2 653.8,49.0 654.8,47.8 655.8,46.6 656.8,45.4 657.8,44.2 658.8,43.1 659.8,41.9 660.8,40.7 661.8,39.5 662.8,38.3 663.8,37.1 664.8,35.9 665.8,34.7 666.8,33.6 667.8,32.4 668.8,31.3 669.8,30.1 670.8,29.0 671.8,27.9 672.8,26.8 673.8,25.8 674.8,24.8 675.8,23.8 676.8,22.8 677.8,21.9 678.8,21.0 679.8,20.1 680.8,19.3 681.8,18.6 682.8,17.9 683.8,17.3 684.8,16.7 685.8,16.3 686.8,15.9 687.8,15.6 688.8,15.3 689.8,15.2 690.8,15.2 691.8,15.3 692.8,15.6 693.8,15.9 694.8,16.5 695.8,17.1 696.8,18.0 697.8,19.0 698.8,20.2 699.8,21.6 700.3,22.3 700.8,23.1 701.3,24.0 701.8,25.0 702.3,25.9 702.8,27.0 703.3,28.1 703.8,29.3 704.3,30.5 704.8,31.8 705.3,33.2 705.8,34.6 706.1,35.6 706.5,36.6 706.8,37.7 707.1,38.7 707.5,39.9 707.8,41.0 708.1,42.2 708.5,43.4 708.8,44.6 709.1,45.9 709.5,47.2 709.8,48.6 710.1,50.0 710.5,51.4 710.8,52.8 711.0,53.9 711.3,55.1 711.5,56.2 711.8,57.4 712.0,58.6 712.3,59.8 712.5,61.0 712.8,62.3 713.0,63.6 713.3,64.9 713.5,66.2 713.8,67.5 714.0,68.9 714.3,70.2 714.5,71.6 714.8,73.1 715.0,74.5 715.3,76.0 715.5,77.4 715.8,78.9 716.0,80.1 716.2,81.4 716.4,82.6 716.6,83.9 716.8,85.1 717.0,86.4 717.2,87.7 717.4,89.0 717.6,90.3 717.8,91.7 718.0,93.0 718.2,94.4 718.4,95.7 718.6,97.1 718.8,98.5 719.0,99.9 719.2,101.4 719.4,102.8 719.6,104.2 719.8,105.7 720.0,107.2 720.2,108.7 720.4,110.2 720.6,111.7 720.8,113.2 721.0,114.5 721.1,115.7 721.3,117.0 721.5,118.3 721.6,119.6 721.8,121.0 722.0,122.3 722.1,123.6 722.3,124.9 722.5,126.3 722.6,127.6 722.8,129.0 723.0,130.4 723.1,131.8 723.3,133.1 723.5,134.5 723.6,135.9 723.8,137.3 724.0,138.7 724.1,140.2 724.3,141.6 724.5,143.0 724.6,144.4 724.8,145.9 725.0,147.3 725.1,148.8 725.3,150.2 725.5,151.7 725.6,153.2 725.8,154.7 726.0,156.1 726.1,157.6 726.3,159.1 726.5,160.6 726.6,162.1 726.8,163.6 726.9,164.9 727.1,166.2 727.2,167.5 727.4,168.9 727.5,170.2 727.7,171.5 727.8,172.8 727.9,174.1 728.1,175.4 728.2,176.8 728.4,178.1 728.5,179.4 728.7,180.8 728.8,182.1 728.9,183.4 729.1,184.8 729.2,186.1 729.4,187.5 729.5,188.8 729.7,190.1 729.8,191.5 729.9,192.8 730.1,194.2 730.2,195.6 730.4,196.9 730.5,198.3 730.7,199.6 730.8,201.0 730.9,202.3 731.1,203.7 731.2,205.1 731.4,206.4 731.5,207.8 731.7,209.2 731.8,210.5 731.9,211.9 732.1,213.3 732.2,214.6 732.4,216.0 732.5,217.4 732.7,218.7 732.8,220.1 732.9,221.5 733.1,222.8 733.2,224.2 733.4,225.6 733.5,226.9 733.7,228.3 733.8,229.6 733.9,231.0 734.1,232.4 734.2,233.7 734.4,235.1 734.5,236.4 734.7,237.8 734.8,239.2 734.9,240.5 735.1,241.9 735.2,243.2 735.4,244.6 735.5,245.9 735.7,247.2 735.8,248.6 735.9,249.9 736.1,251.3 736.2,252.6 736.4,253.9 736.5,255.3 736.7,256.6 736.8,257.9 736.9,259.2 737.1,260.5 737.2,261.9 737.4,263.2 737.5,264.5 737.7,265.8 737.8,267.1 737.9,268.4 738.1,269.7 738.2,271.0 738.4,272.3 738.5,273.5 738.7,274.8 738.8,276.1 739.0,277.6 739.1,279.1 739.3,280.5 739.5,282.0 739.6,283.5 739.8,284.9 740.0,286.4 740.1,287.8 740.3,289.3 740.5,290.7 740.6,292.1 740.8,293.5 741.0,295.0 741.1,296.4 741.3,297.8 741.5,299.2 741.6,300.5 741.8,301.9 742.0,303.3 742.1,304.7 742.3,306.0 742.5,307.4 742.6,308.7 742.8,310.0 743.0,311.4 743.1,312.7 743.3,314.0 743.5,315.3 743.6,316.6 743.8,317.9 744.0,319.2 744.1,320.4 744.3,321.7 744.5,322.9 744.6,324.2 744.8,325.4 745.0,326.9 745.2,328.4 745.4,329.8 745.6,331.2 745.8,332.7 746.0,334.1 746.2,335.5 746.4,336.9 746.6,338.2 746.8,339.6 747.0,340.9 747.2,342.3 747.4,343.6 747.6,344.9 747.8,346.2 748.0,347.5 748.2,348.8 748.4,350.0 748.6,351.3 748.8,352.5 749.0,354.0 749.3,355.5 749.5,357.0 749.8,358.4 750.0,359.9 750.3,361.3 750.5,362.7 750.8,364.1 751.0,365.4 751.3,366.7 751.5,368.1 751.8,369.4 752.0,370.6 752.3,371.9 752.5,373.1 752.8,374.3 753.0,375.5 753.3,376.7 753.5,377.8 753.8,379.0 754.1,380.4 754.5,381.9 754.8,383.3 755.1,384.6 755.5,386.0 755.8,387.3 756.1,388.6 756.5,389.8 756.8,391.0 757.1,392.2 757.5,393.3 757.8,394.4 758.1,395.5 758.5,396.5 758.8,397.5 759.3,399.0 759.8,400.4 760.3,401.7 760.8,403.0 761.3,404.2 761.8,405.3 762.3,406.4 762.8,407.4 763.3,408.4 763.8,409.3 764.3,410.1 764.8,410.9 765.8,412.3 766.8,413.6 767.8,414.6 768.8,415.5 769.8,416.2 770.8,416.8 771.8,417.2 772.8,417.4 773.8,417.6 774.8,417.6 775.8,417.5 776.8,417.3 777.8,417.0 778.8,416.6 779.8,416.2 780.8,415.6 781.8,415.0 782.8,414.4 783.8,413.6 784.8,412.9 785.8,412.0 786.8,411.1 787.8,410.2 788.8,409.3 789.8,408.3 790.8,407.3 791.8,406.2 792.8,405.1 793.8,404.0 794.8,402.9 795.8,401.8 796.8,400.7 797.8,399.5 798.8,398.3 799.8,397.2 800.8,396.0 801.8,394.8 802.8,393.6 803.8,392.4 804.8,391.2 805.8,390.0 806.8,388.8 807.8,387.6 808.8,386.4 809.8,385.3 810.8,384.1 811.8,382.9 812.8,381.7 813.8,380.5 814.8,379.4 815.8,378.2 816.8,377.1 817.8,375.9 818.8,374.8 819.8,373.7 820.8,372.6 821.8,371.4 822.8,370.3 823.8,369.3 824.8,368.2 825.8,367.1 826.8,366.0 827.8,365.0 828.8,363.9 829.8,362.9 830.8,361.9 831.8,360.9 832.8,359.8 833.8,358.8 834.8,357.9 835.8,356.9 836.8,355.9 837.8,355.0 838.8,354.0 839.8,353.1 840.8,352.1 841.8,351.2 842.8,350.3 843.8,349.4 844.8,348.5 845.8,347.6 846.8,346.8 847.8,345.9 848.8,345.0 849.8,344.2 850.8,343.4 851.8,342.5 852.8,341.7 853.8,340.9 854.8,340.1 855.8,339.3 856.8,338.5 857.8,337.8 858.8,337.0 859.8,336.2 860.8,335.5 861.8,334.7 862.8,334.0 863.8,333.3 864.8,332.5 865.8,331.8 866.8,331.1 867.8,330.4 868.8,329.7 869.8,329.1 870.8,328.4 871.8,327.7 872.8,327.1 873.8,326.4 874.8,325.7 875.8,325.1 876.8,324.5 877.8,323.8 878.8,323.2 879.8,322.6 880.8,322.0 881.8,321.4 882.8,320.8 883.8,320.2 884.8,319.6 885.8,319.0 886.8,318.5 887.8,317.9 888.8,317.3 889.8,316.8 890.8,316.2 891.8,315.7 892.8,315.2 893.8,314.6 894.8,314.1 895.8,313.6 896.8,313.1 897.8,312.5 898.8,312.0 899.8,311.5 900.8,311.0 901.8,310.5 902.8,310.0 903.8,309.6 904.8,309.1 905.8,308.6 906.8,308.1 907.8,307.7 908.8,307.2 909.8,306.8 910.8,306.3 911.8,305.9 912.8,305.4 913.8,305.0 914.8,304.5 915.8,304.1 916.8,303.7 917.8,303.2 918.8,302.8 919.8,302.4 920.8,302.0 921.8,301.6 922.8,301.2 923.8,300.8 924.8,300.4 925.8,300.0 926.8,299.6 927.8,299.2 928.8,298.8 929.8,298.4 930.8,298.1 931.8,297.7 932.8,297.3 933.8,296.9 934.8,296.6 935.8,296.2 936.8,295.9 937.8,295.5 938.8,295.2 939.8,294.8 940.8,294.5 941.8,294.1 942.8,293.8 943.8,293.4 944.8,293.1 945.8,292.8 946.8,292.4 947.8,292.1 948.8,291.8 949.8,291.5 950.8,291.1 951.8,290.8 952.8,290.5 953.8,290.2 954.8,289.9 955.8,289.6 956.8,289.3 957.8,289.0 958.8,288.7 959.8,288.4 960.8,288.1 961.8,287.8 962.8,287.5 963.8,287.2 964.8,286.9 965.8,286.7 966.8,286.4 967.8,286.1 968.8,285.8 969.8,285.5 970.8,285.3 971.8,285.0 972.8,284.7 973.8,284.5 974.8,284.2 975.8,283.9 976.8,283.7 977.8,283.4 978.8,283.2 979.8,282.9 980.8,282.7 981.8,282.4 982.8,282.2 983.8,281.9 984.8,281.7 985.8,281.4 986.8,281.2 987.8,280.9 988.8,280.7 989.8,280.5 990.8,280.2 991.8,280.0 992.8,279.8 993.8,279.5 994.8,279.3 995.8,279.1 996.8,278.9 997.8,278.6 998.8,278.4 999.8,278.2 1000.8,278.0 1001.8,277.7 1002.8,277.5 1003.8,277.3 1004.8,277.1 1005.8,276.9 1006.8,276.7 1007.8,276.5 1008.8,276.3 1009.8,276.1 1010.8,275.9 1011.8,275.7 1012.8,275.4 1013.8,275.2 1014.8,275.0 1015.8,274.9 1016.8,274.7 1017.8,274.5 1018.8,274.3 1019.8,274.1 1020.8,273.9 1021.8,273.7 1022.8,273.5 1023.8,273.3" stroke="#ff0000"/>
<path d="M590.8,206.1 591.8,206.0 592.8,205.9 593.8,205.9 594.8,205.8 595.8,205.7 596.8,205.7 597.8,205.6 598.8,205.5 599.8,205.5 600.8,205.4 601.8,205.3 602.8,205.3 603.8,205.2 604.8,205.1 605.8,205.0 606.8,205.0 607.8,204.9 608.8,204.8 609.8,204.7 610.8,204.7 611.8,204.6 612.8,204.5 613.8,204.4 614.8,204.4 615.8,204.3 616.8,204.2 617.8,204.1 618.8,204.0 619.8,203.9 620.8,203.9 621.8,203.8 622.8,203.7 623.8,203.6 624.8,203.5 625.8,203.4 626.8,203.3 627.8,203.2 628.8,203.1 629.8,203.0 630.8,202.9 631.8,202.8 632.8,202.7 633.8,202.7 634.8,202.6 635.8,202.5 636.8,202.4 637.8,202.3 638.8,202.1 639.8,202.0 640.8,201.9 641.8,201.8 642.8,201.7 643.8,201.6 644.8,201.5 645.8,201.4 646.8,201.3 647.8,201.2 648.8,201.1 649.8,201.0 650.8,200.9 651.8,200.7 652.8,200.6 653.8,200.5 654.8,200.4 655.8,200.3 656.8,200.2 657.8,200.1 658.8,200.0 659.8,199.8 660.8,199.7 661.8,199.6 662.8,199.5 663.8,199.4 664.8,199.3 665.8,199.2 666.8,199.1 667.8,198.9 668.8,198.8 669.8,198.7 670.8,198.6 671.8,198.5 672.8,198.4 673.8,198.3 674.8,198.2 675.8,198.2 676.8,198.1 677.8,198.0 678.8,197.9 679.8,197.8 680.8,197.8 681.8,197.7 682.8,197.7 683.8,197.6 684.8,197.6 685.8,197.6 686.8,197.5 687.8,197.5 688.8,197.5 689.8,197.5 690.8,197.5 691.8,197.6 692.8,197.6 693.8,197.7 694.8,197.8 695.8,197.9 696.8,198.0 697.8,198.1 698.8,198.3 699.8,198.4 700.8,198.6 701.8,198.9 702.8,199.1 703.8,199.4 704.8,199.7 705.8,200.0 706.8,200.3 707.8,200.7 708.8,201.1 709.8,201.5 710.8,202.0 711.8,202.5 712.8,203.0 713.8,203.6 714.8,204.2 715.8,204.8 716.8,205.5 717.8,206.2 718.8,206.9 719.8,207.6 720.8,208.4 721.8,209.2 722.8,210.0 723.8,210.8 724.8,211.7 725.8,212.6 726.8,213.5 727.8,214.4 728.8,215.3 729.8,216.2 730.8,217.1 731.8,218.0 732.8,218.9 733.8,219.8 734.8,220.7 735.8,221.5 736.8,222.4 737.8,223.2 738.8,224.0 739.8,224.8 740.8,225.6 741.8,226.3 742.8,227.0 743.8,227.7 744.8,228.4 745.8,229.0 746.8,229.6 747.8,230.1 748.8,230.6 749.8,231.1 750.8,231.6 751.8,232.0 752.8,232.4 753.8,232.8 754.8,233.1 755.8,233.4 756.8,233.7 757.8,234.0 758.8,234.2 759.8,234.4 760.8,234.6 761.8,234.8 762.8,234.9 763.8,235.1 764.8,235.2 765.8,235.3 766.8,235.3 767.8,235.4 768.8,235.5 769.8,235.5 770.8,235.5 771.8,235.5 772.8,235.5 773.8,235.5 774.8,235.5 775.8,235.4 776.8,235.4 777.8,235.3 778.8,235.3 779.8,235.2 780.8,235.2 781.8,235.1 782.8,235.0 783.8,234.9 784.8,234.8 785.8,234.8 786.8,234.7 787.8,234.6 788.8,234.5 789.8,234.4 790.8,234.3 791.8,234.2 792.8,234.0 793.8,233.9 794.8,233.8 795.8,233.7 796.8,233.6 797.8,233.5 798.8,233.4 799.8,233.3 800.8,233.2 801.8,233.0 802.8,232.9 803.8,232.8 804.8,232.7 805.8,232.6 806.8,232.5 807.8,232.4 808.8,232.3 809.8,232.1 810.8,232.0 811.8,231.9 812.8,231.8 813.8,231.7 814.8,231.6 815.8,231.5 816.8,231.4 817.8,231.3 818.8,231.2 819.8,231.1 820.8,231.0 821.8,230.8 822.8,230.7 823.8,230.6 824.8,230.5 825.8,230.4 826.8,230.3 827.8,230.2 828.8,230.2 829.8,230.1 830.8,230.0 831.8,229.9 832.8,229.8 833.8,229.7 834.8,229.6 835.8,229.5 836.8,229.4 837.8,229.3 838.8,229.2 839.8,229.2 840.8,229.1 841.8,229.0 842.8,228.9 843.8,228.8 844.8,228.7 845.8,228.7 846.8,228.6 847.8,228.5 848.8,228.4 849.8,228.3 850.8,228.3 851.8,228.2 852.8,228.1 853.8,228.0 854.8,228.0 855.8,227.9 856.8,227.8 857.8,227.7 858.8,227.7 859.8,227.6 860.8,227.5 861.8,227.5 862.8,227.4 863.8,227.3 864.8,227.3 865.8,227.2 866.8,227.1 867.8,227.1 868.8,227.0 869.8,226.9 870.8,226.9 871.8,226.8 872.8,226.8 873.8,226.7 874.8,226.6 875.8,226.6 876.8,226.5 877.8,226.5 878.8,226.4 879.8,226.3 880.8,226.3 881.8,226.2 882.8,226.2 883.8,226.1 884.8,226.1 885.8,226.0 886.8,226.0 887.8,225.9 888.8,225.9 889.8,225.8 890.8,225.8 891.8,225.7 892.8,225.7 893.8,225.6 894.8,225.6 895.8,225.5 896.8,225.5 897.8,225.4 898.8,225.4 899.8,225.3 900.8,225.3 901.8,225.2 902.8,225.2 903.8,225.2 904.8,225.1 905.8,225.1 906.8,225.0 907.8,225.0 908.8,224.9 909.8,224.9 910.8,224.9 911.8,224.8 912.8,224.8 913.8,224.7 914.8,224.7 915.8,224.6 916.8,224.6 917.8,224.6 918.8,224.5 919.8,224.5 920.8,224.5 921.8,224.4 922.8,224.4 923.8,224.3 924.8,224.3 925.8,224.3 926.8,224.2 927.8,224.2 928.8,224.2 929.8,224.1 930.8,224.1 931.8,224.1 932.8,224.0 933.8,224.0 934.8,224.0 935.8,223.9 936.8,223.9 937.8,223.9 938.8,223.8 939.8,223.8 940.8,223.8 941.8,223.7 942.8,223.7 943.8,223.7 944.8,223.6 945.8,223.6 946.8,223.6 947.8,223.5 948.8,223.5 949.8,223.5 950.8,223.5 951.8,223.4 952.8,223.4 953.8,223.4 954.8,223.3 955.8,223.3 956.8,223.3 957.8,223.3 958.8,223.2 959.8,223.2 960.8,223.2 961.8,223.1 962.8,223.1 963.8,223.1 964.8,223.1 965.8,223.0 966.8,223.0 967.8,223.0 968.8,223.0 969.8,222.9 970.8,222.9 971.8,222.9 972.8,222.9 973.8,222.8 974.8,222.8 975.8,222.8 976.8,222.8 977.8,222.7 978.8,222.7 979.8,222.7 980.8,222.7 981.8,222.6 982.8,222.6 983.8,222.6 984.8,222.6 985.8,222.6 986.8,222.5 987.8,222.5 988.8,222.5 989.8,222.5 990.8,222.4 991.8,222.4 992.8,222.4 993.8,222.4 994.8,222.4 995.8,222.3 996.8,222.3 997.8,222.3 998.8,222.3 999.8,222.3 1000.8,222.2 1001.8,222.2 1002.8,222.2 1003.8,222.2 1004.8,222.2 1005.8,222.1 1006.8,222.1 1007.8,222.1 1008.8,222.1 1009.8,222.1 1010.8,222.0 1011.8,222.0 1012.8,222.0 1013.8,222.0 1014.8,222.0 1015.8,222.0 1016.8,221.9 1017.8,221.9 1018.8,221.9 1019.8,221.9 1020.8,221.9 1021.8,221.8 1022.8,221.8 1023.8,221.8" stroke="#000000" stroke-dasharray="6.6,2.93" stroke-dashoffset="1.2"/>
</g>
<path d="M590.8,216.5H1024.0" stroke="#000" stroke-opacity="0.55" stroke-width="1"/>
<path d="M590.8,433.5V0.5H1024.0M1024.0,433.5H590.8" fill="none" stroke="#6e6e6e" stroke-width="1"/>
<path d="M1024.0,0.0V434.0" fill="none" stroke="#6a6a6a" stroke-width="1"/>
<path d="M590.80,433.5v-6.3M590.80,0.5v6.3M604.12,433.5v-3.7M604.12,0.5v3.7M617.44,433.5v-3.7M617.44,0.5v3.7M630.76,433.5v-3.7M630.76,0.5v3.7M644.08,433.5v-3.7M644.08,0.5v3.7M657.40,433.5v-6.3M657.40,0.5v6.3M670.72,433.5v-3.7M670.72,0.5v3.7M684.04,433.5v-3.7M684.04,0.5v3.7M697.36,433.5v-3.7M697.36,0.5v3.7M710.68,433.5v-3.7M710.68,0.5v3.7M724.00,433.5v-6.3M724.00,0.5v6.3M737.32,433.5v-3.7M737.32,0.5v3.7M750.64,433.5v-3.7M750.64,0.5v3.7M763.96,433.5v-3.7M763.96,0.5v3.7M777.28,433.5v-3.7M777.28,0.5v3.7M790.60,433.5v-6.3M790.60,0.5v6.3M803.92,433.5v-3.7M803.92,0.5v3.7M817.24,433.5v-3.7M817.24,0.5v3.7M830.56,433.5v-3.7M830.56,0.5v3.7M843.88,433.5v-3.7M843.88,0.5v3.7M857.20,433.5v-6.3M857.20,0.5v6.3M870.52,433.5v-3.7M870.52,0.5v3.7M883.84,433.5v-3.7M883.84,0.5v3.7M897.16,433.5v-3.7M897.16,0.5v3.7M910.48,433.5v-3.7M910.48,0.5v3.7M923.80,433.5v-6.3M923.80,0.5v6.3M937.12,433.5v-3.7M937.12,0.5v3.7M950.44,433.5v-3.7M950.44,0.5v3.7M963.76,433.5v-3.7M963.76,0.5v3.7M977.08,433.5v-3.7M977.08,0.5v3.7M990.40,433.5v-6.3M990.40,0.5v6.3M1003.72,433.5v-3.7M1003.72,0.5v3.7M1017.04,433.5v-3.7M1017.04,0.5v3.7M590.8,430.35h3.7M1024.0,430.35h-3.7M590.8,416.10h3.7M1024.0,416.10h-3.7M590.8,401.85h3.7M1024.0,401.85h-3.7M590.8,387.60h6.3M1024.0,387.60h-6.3M590.8,373.35h3.7M1024.0,373.35h-3.7M590.8,359.10h3.7M1024.0,359.10h-3.7M590.8,344.85h3.7M1024.0,344.85h-3.7M590.8,330.60h6.3M1024.0,330.60h-6.3M590.8,316.35h3.7M1024.0,316.35h-3.7M590.8,302.10h3.7M1024.0,302.10h-3.7M590.8,287.85h3.7M1024.0,287.85h-3.7M590.8,273.60h6.3M1024.0,273.60h-6.3M590.8,259.35h3.7M1024.0,259.35h-3.7M590.8,245.10h3.7M1024.0,245.10h-3.7M590.8,230.85h3.7M1024.0,230.85h-3.7M590.8,216.60h6.3M1024.0,216.60h-6.3M590.8,202.35h3.7M1024.0,202.35h-3.7M590.8,188.10h3.7M1024.0,188.10h-3.7M590.8,173.85h3.7M1024.0,173.85h-3.7M590.8,159.60h6.3M1024.0,159.60h-6.3M590.8,145.35h3.7M1024.0,145.35h-3.7M590.8,131.10h3.7M1024.0,131.10h-3.7M590.8,116.85h3.7M1024.0,116.85h-3.7M590.8,102.60h6.3M1024.0,102.60h-6.3M590.8,88.35h3.7M1024.0,88.35h-3.7M590.8,74.10h3.7M1024.0,74.10h-3.7M590.8,59.85h3.7M1024.0,59.85h-3.7M590.8,45.60h6.3M1024.0,45.60h-6.3M590.8,31.35h3.7M1024.0,31.35h-3.7M590.8,17.10h3.7M1024.0,17.10h-3.7M590.8,2.85h3.7M1024.0,2.85h-3.7" stroke="#444" stroke-width="1" fill="none"/>
<text transform="translate(590.80,469.5) scale(1,1.03)" text-anchor="middle">0</text><text transform="translate(657.40,469.5) scale(1,1.03)" text-anchor="middle">1</text><text transform="translate(724.00,469.5) scale(1,1.03)" text-anchor="middle">2</text><text transform="translate(790.60,469.5) scale(1,1.03)" text-anchor="middle">3</text><text transform="translate(857.20,469.5) scale(1,1.03)" text-anchor="middle">4</text><text transform="translate(923.80,469.5) scale(1,1.03)" text-anchor="middle">5</text><text transform="translate(990.40,469.5) scale(1,1.03)" text-anchor="middle">6</text><text transform="translate(584.80,399.2) scale(1,1.03)" text-anchor="end">6</text><path d="M545.8,390.2H563.0" stroke="#000" stroke-width="2.1"/><text transform="translate(584.80,342.2) scale(1,1.03)" text-anchor="end">4</text><path d="M545.8,333.2H563.0" stroke="#000" stroke-width="2.1"/><text transform="translate(584.80,285.2) scale(1,1.03)" text-anchor="end">2</text><path d="M545.8,276.2H563.0" stroke="#000" stroke-width="2.1"/><text transform="translate(584.80,228.2) scale(1,1.03)" text-anchor="end">0</text><text transform="translate(584.80,171.2) scale(1,1.03)" text-anchor="end">2</text><text transform="translate(584.80,114.2) scale(1,1.03)" text-anchor="end">4</text><text transform="translate(584.80,57.2) scale(1,1.03)" text-anchor="end">6</text><clipPath id="clipb"><rect x="91.5" y="477.5" width="433.0" height="433.0"/></clipPath>
<g clip-path="url(#clipb)" fill="none" stroke-width="2.0" stroke-linejoin="round">
<path d="M91.5,633.2 92.5,632.9 93.5,632.7 94.5,632.5 95.5,632.2 96.5,632.0 97.5,631.7 98.5,631.5 99.5,631.3 100.5,631.0 101.5,630.8 102.5,630.5 103.5,630.3 104.5,630.0 105.5,629.8 106.5,629.5 107.5,629.2 108.5,629.0 109.5,628.7 110.5,628.4 111.5,628.2 112.5,627.9 113.5,627.6 114.5,627.4 115.5,627.1 116.5,626.8 117.5,626.5 118.5,626.2 119.5,626.0 120.5,625.7 121.5,625.4 122.5,625.1 123.5,624.8 124.5,624.5 125.5,624.2 126.5,623.9 127.5,623.6 128.5,623.3 129.5,623.0 130.5,622.7 131.5,622.3 132.5,622.0 133.5,621.7 134.5,621.4 135.5,621.1 136.5,620.7 137.5,620.4 138.5,620.1 139.5,619.7 140.5,619.4 141.5,619.0 142.5,618.7 143.5,618.4 144.5,618.0 145.5,617.6 146.5,617.3 147.5,616.9 148.5,616.6 149.5,616.2 150.5,615.8 151.5,615.4 152.5,615.1 153.5,614.7 154.5,614.3 155.5,613.9 156.5,613.5 157.5,613.1 158.5,612.7 159.5,612.3 160.5,611.9 161.5,611.5 162.5,611.1 163.5,610.7 164.5,610.2 165.5,609.8 166.5,609.4 167.5,609.0 168.5,608.5 169.5,608.1 170.5,607.6 171.5,607.2 172.5,606.7 173.5,606.3 174.5,605.8 175.5,605.3 176.5,604.8 177.5,604.4 178.5,603.9 179.5,603.4 180.5,602.9 181.5,602.4 182.5,601.9 183.5,601.4 184.5,600.9 185.5,600.4 186.5,599.8 187.5,599.3 188.5,598.8 189.5,598.2 190.5,597.7 191.5,597.1 192.5,596.6 193.5,596.0 194.5,595.5 195.5,594.9 196.5,594.3 197.5,593.7 198.5,593.1 199.5,592.5 200.5,591.9 201.5,591.3 202.5,590.7 203.5,590.1 204.5,589.4 205.5,588.8 206.5,588.2 207.5,587.5 208.5,586.9 209.5,586.2 210.5,585.5 211.5,584.8 212.5,584.2 213.5,583.5 214.5,582.8 215.5,582.1 216.5,581.3 217.5,580.6 218.5,579.9 219.5,579.1 220.5,578.4 221.5,577.7 222.5,576.9 223.5,576.1 224.5,575.3 225.5,574.6 226.5,573.8 227.5,573.0 228.5,572.2 229.5,571.3 230.5,570.5 231.5,569.7 232.5,568.8 233.5,568.0 234.5,567.1 235.5,566.3 236.5,565.4 237.5,564.5 238.5,563.6 239.5,562.7 240.5,561.8 241.5,560.9 242.5,559.9 243.5,559.0 244.5,558.1 245.5,557.1 246.5,556.1 247.5,555.2 248.5,554.2 249.5,553.2 250.5,552.2 251.5,551.2 252.5,550.2 253.5,549.2 254.5,548.2 255.5,547.2 256.5,546.1 257.5,545.1 258.5,544.1 259.5,543.0 260.5,542.0 261.5,540.9 262.5,539.9 263.5,538.8 264.5,537.8 265.5,536.7 266.5,535.7 267.5,534.6 268.5,533.6 269.5,532.5 270.5,531.5 271.5,530.4 272.5,529.4 273.5,528.4 274.5,527.4 275.5,526.4 276.5,525.4 277.5,524.4 278.5,523.5 279.5,522.6 280.5,521.7 281.5,520.8 282.5,519.9 283.5,519.1 284.5,518.3 285.5,517.6 286.5,516.9 287.5,516.2 288.5,515.6 289.5,515.1 290.5,514.6 291.5,514.2 292.5,513.8 293.5,513.5 294.5,513.3 295.5,513.2 296.5,513.2 297.5,513.3 298.5,513.5 299.5,513.8 300.5,514.2 301.5,514.8 302.5,515.5 303.5,516.3 304.5,517.4 305.5,518.5 306.5,519.9 307.0,520.6 307.5,521.4 308.0,522.3 308.5,523.2 309.0,524.1 309.5,525.1 310.0,526.1 310.5,527.3 311.0,528.4 311.5,529.6 312.0,530.9 312.5,532.2 313.0,533.6 313.5,535.1 313.8,536.1 314.2,537.1 314.5,538.2 314.8,539.3 315.2,540.4 315.5,541.6 315.8,542.7 316.2,543.9 316.5,545.2 316.8,546.4 317.2,547.7 317.5,549.1 317.8,550.4 318.2,551.8 318.5,553.3 318.8,554.7 319.2,556.2 319.5,557.7 319.8,558.9 320.0,560.0 320.2,561.2 320.5,562.5 320.8,563.7 321.0,564.9 321.2,566.2 321.5,567.5 321.8,568.8 322.0,570.1 322.2,571.4 322.5,572.8 322.8,574.2 323.0,575.6 323.2,577.0 323.5,578.4 323.8,579.8 324.0,581.3 324.2,582.8 324.5,584.3 324.7,585.5 324.9,586.7 325.1,588.0 325.3,589.2 325.5,590.5 325.7,591.7 325.9,593.0 326.1,594.3 326.3,595.6 326.5,596.9 326.7,598.2 326.9,599.5 327.1,600.9 327.3,602.2 327.5,603.6 327.7,605.0 327.9,606.3 328.1,607.7 328.3,609.1 328.5,610.5 328.7,612.0 328.9,613.4 329.1,614.8 329.3,616.3 329.5,617.7 329.7,619.2 329.9,620.7 330.1,622.1 330.3,623.6 330.5,625.1 330.7,626.4 330.8,627.6 331.0,628.9 331.2,630.2 331.3,631.5 331.5,632.7 331.7,634.0 331.8,635.3 332.0,636.6 332.2,637.9 332.3,639.2 332.5,640.5 332.7,641.9 332.8,643.2 333.0,644.5 333.2,645.8 333.3,647.2 333.5,648.5 333.7,649.9 333.8,651.2 334.0,652.6 334.2,653.9 334.3,655.3 334.5,656.6 334.7,658.0 334.8,659.4 335.0,660.7 335.2,662.1 335.3,663.5 335.5,664.9 335.7,666.2 335.8,667.6 336.0,669.0 336.2,670.4 336.3,671.8 336.5,673.2 336.7,674.6 336.8,676.0 337.0,677.4 337.2,678.8 337.3,680.2 337.5,681.6 337.7,683.0 337.8,684.4 338.0,685.8 338.2,687.2 338.3,688.6 338.5,690.0 338.7,691.4 338.8,692.8 339.0,694.2 339.2,695.6 339.3,697.0 339.5,698.4 339.7,699.8 339.8,701.2 340.0,702.7 340.2,704.1 340.3,705.5 340.5,706.9 340.7,708.3 340.8,709.7 341.0,711.1 341.2,712.5 341.3,713.9 341.5,715.2 341.7,716.6 341.8,718.0 342.0,719.4 342.2,720.8 342.3,722.2 342.5,723.6 342.7,724.9 342.8,726.3 343.0,727.7 343.2,729.0 343.3,730.4 343.5,731.8 343.7,733.1 343.8,734.5 344.0,735.8 344.2,737.2 344.3,738.5 344.5,739.9 344.7,741.2 344.8,742.5 345.0,743.9 345.2,745.2 345.3,746.5 345.5,747.8 345.7,749.1 345.8,750.4 346.0,751.7 346.2,753.0 346.3,754.3 346.5,755.6 346.7,756.9 346.8,758.2 347.0,759.4 347.2,760.7 347.3,762.0 347.5,763.2 347.7,764.7 347.9,766.2 348.1,767.7 348.3,769.1 348.5,770.6 348.7,772.0 348.9,773.5 349.1,774.9 349.3,776.3 349.5,777.8 349.7,779.2 349.9,780.6 350.1,781.9 350.3,783.3 350.5,784.7 350.7,786.0 350.9,787.4 351.1,788.7 351.3,790.0 351.5,791.3 351.7,792.7 351.9,793.9 352.1,795.2 352.3,796.5 352.5,797.8 352.7,799.0 352.9,800.2 353.1,801.5 353.3,802.7 353.5,803.9 353.8,805.4 354.0,806.9 354.2,808.3 354.5,809.7 354.8,811.2 355.0,812.6 355.2,814.0 355.5,815.3 355.8,816.7 356.0,818.0 356.2,819.3 356.5,820.6 356.8,821.9 357.0,823.1 357.2,824.4 357.5,825.6 357.8,826.8 358.0,828.0 358.2,829.2 358.5,830.3 358.8,831.8 359.2,833.3 359.5,834.7 359.8,836.2 360.2,837.5 360.5,838.9 360.8,840.2 361.2,841.5 361.5,842.8 361.8,844.0 362.2,845.2 362.5,846.4 362.8,847.5 363.2,848.6 363.5,849.7 363.8,850.8 364.2,851.8 364.5,852.8 365.0,854.2 365.5,855.6 366.0,856.9 366.5,858.2 367.0,859.4 367.5,860.5 368.0,861.6 368.5,862.7 369.0,863.7 369.5,864.6 370.0,865.5 370.5,866.3 371.0,867.1 371.5,867.8 372.5,869.2 373.5,870.3 374.5,871.3 375.5,872.1 376.5,872.8 377.5,873.4 378.5,873.8 379.5,874.1 380.5,874.3 381.5,874.4 382.5,874.3 383.5,874.2 384.5,874.0 385.5,873.7 386.5,873.3 387.5,872.9 388.5,872.4 389.5,871.9 390.5,871.3 391.5,870.6 392.5,869.9 393.5,869.1 394.5,868.4 395.5,867.5 396.5,866.7 397.5,865.8 398.5,864.9 399.5,864.0 400.5,863.0 401.5,862.1 402.5,861.1 403.5,860.1 404.5,859.1 405.5,858.0 406.5,857.0 407.5,856.0 408.5,854.9 409.5,853.9 410.5,852.8 411.5,851.8 412.5,850.7 413.5,849.7 414.5,848.6 415.5,847.6 416.5,846.5 417.5,845.5 418.5,844.4 419.5,843.4 420.5,842.3 421.5,841.3 422.5,840.3 423.5,839.3 424.5,838.2 425.5,837.2 426.5,836.2 427.5,835.2 428.5,834.2 429.5,833.3 430.5,832.3 431.5,831.3 432.5,830.4 433.5,829.4 434.5,828.5 435.5,827.5 436.5,826.6 437.5,825.7 438.5,824.8 439.5,823.9 440.5,823.0 441.5,822.1 442.5,821.2 443.5,820.4 444.5,819.5 445.5,818.6 446.5,817.8 447.5,817.0 448.5,816.1 449.5,815.3 450.5,814.5 451.5,813.7 452.5,812.9 453.5,812.1 454.5,811.4 455.5,810.6 456.5,809.8 457.5,809.1 458.5,808.3 459.5,807.6 460.5,806.9 461.5,806.1 462.5,805.4 463.5,804.7 464.5,804.0 465.5,803.3 466.5,802.7 467.5,802.0 468.5,801.3 469.5,800.6 470.5,800.0 471.5,799.3 472.5,798.7 473.5,798.1 474.5,797.4 475.5,796.8 476.5,796.2 477.5,795.6 478.5,795.0 479.5,794.4 480.5,793.8 481.5,793.2 482.5,792.6 483.5,792.0 484.5,791.5 485.5,790.9 486.5,790.4 487.5,789.8 488.5,789.3 489.5,788.7 490.5,788.2 491.5,787.7 492.5,787.1 493.5,786.6 494.5,786.1 495.5,785.6 496.5,785.1 497.5,784.6 498.5,784.1 499.5,783.6 500.5,783.1 501.5,782.7 502.5,782.2 503.5,781.7 504.5,781.3 505.5,780.8 506.5,780.3 507.5,779.9 508.5,779.4 509.5,779.0 510.5,778.6 511.5,778.1 512.5,777.7 513.5,777.3 514.5,776.8 515.5,776.4 516.5,776.0 517.5,775.6 518.5,775.2 519.5,774.8 520.5,774.4 521.5,774.0 522.5,773.6 523.5,773.2 524.5,772.8" stroke="#00aaaa"/>
<path d="M91.5,629.5 92.5,629.3 93.5,629.0 94.5,628.8 95.5,628.5 96.5,628.2 97.5,628.0 98.5,627.7 99.5,627.4 100.5,627.2 101.5,626.9 102.5,626.6 103.5,626.4 104.5,626.1 105.5,625.8 106.5,625.5 107.5,625.3 108.5,625.0 109.5,624.7 110.5,624.4 111.5,624.1 112.5,623.8 113.5,623.5 114.5,623.2 115.5,622.9 116.5,622.6 117.5,622.3 118.5,622.0 119.5,621.7 120.5,621.4 121.5,621.1 122.5,620.7 123.5,620.4 124.5,620.1 125.5,619.8 126.5,619.4 127.5,619.1 128.5,618.8 129.5,618.4 130.5,618.1 131.5,617.8 132.5,617.4 133.5,617.1 134.5,616.7 135.5,616.4 136.5,616.0 137.5,615.6 138.5,615.3 139.5,614.9 140.5,614.5 141.5,614.2 142.5,613.8 143.5,613.4 144.5,613.0 145.5,612.6 146.5,612.2 147.5,611.8 148.5,611.4 149.5,611.0 150.5,610.6 151.5,610.2 152.5,609.8 153.5,609.4 154.5,609.0 155.5,608.5 156.5,608.1 157.5,607.7 158.5,607.2 159.5,606.8 160.5,606.4 161.5,605.9 162.5,605.5 163.5,605.0 164.5,604.5 165.5,604.1 166.5,603.6 167.5,603.1 168.5,602.6 169.5,602.2 170.5,601.7 171.5,601.2 172.5,600.7 173.5,600.2 174.5,599.6 175.5,599.1 176.5,598.6 177.5,598.1 178.5,597.6 179.5,597.0 180.5,596.5 181.5,595.9 182.5,595.4 183.5,594.8 184.5,594.3 185.5,593.7 186.5,593.1 187.5,592.5 188.5,591.9 189.5,591.3 190.5,590.7 191.5,590.1 192.5,589.5 193.5,588.9 194.5,588.3 195.5,587.7 196.5,587.0 197.5,586.4 198.5,585.7 199.5,585.1 200.5,584.4 201.5,583.7 202.5,583.0 203.5,582.4 204.5,581.7 205.5,581.0 206.5,580.2 207.5,579.5 208.5,578.8 209.5,578.1 210.5,577.3 211.5,576.6 212.5,575.8 213.5,575.1 214.5,574.3 215.5,573.5 216.5,572.7 217.5,571.9 218.5,571.1 219.5,570.3 220.5,569.5 221.5,568.7 222.5,567.8 223.5,567.0 224.5,566.1 225.5,565.3 226.5,564.4 227.5,563.5 228.5,562.6 229.5,561.7 230.5,560.8 231.5,559.9 232.5,559.0 233.5,558.0 234.5,557.1 235.5,556.1 236.5,555.2 237.5,554.2 238.5,553.2 239.5,552.2 240.5,551.2 241.5,550.2 242.5,549.2 243.5,548.2 244.5,547.2 245.5,546.1 246.5,545.1 247.5,544.0 248.5,543.0 249.5,541.9 250.5,540.8 251.5,539.7 252.5,538.7 253.5,537.6 254.5,536.5 255.5,535.4 256.5,534.3 257.5,533.2 258.5,532.1 259.5,531.0 260.5,529.9 261.5,528.8 262.5,527.6 263.5,526.5 264.5,525.4 265.5,524.3 266.5,523.3 267.5,522.2 268.5,521.1 269.5,520.0 270.5,519.0 271.5,518.0 272.5,516.9 273.5,516.0 274.5,515.0 275.5,514.0 276.5,513.1 277.5,512.2 278.5,511.3 279.5,510.5 280.5,509.7 281.5,509.0 282.5,508.3 283.5,507.7 284.5,507.1 285.5,506.6 286.5,506.1 287.5,505.7 288.5,505.4 289.5,505.2 290.5,505.1 291.5,505.0 292.5,505.1 293.5,505.3 294.5,505.6 295.5,506.1 296.5,506.6 297.5,507.4 298.5,508.2 299.5,509.3 300.5,510.5 301.5,511.9 302.0,512.7 302.5,513.5 303.0,514.4 303.5,515.3 304.0,516.3 304.5,517.3 305.0,518.4 305.5,519.6 306.0,520.8 306.5,522.1 307.0,523.4 307.5,524.8 308.0,526.2 308.5,527.8 308.8,528.8 309.2,529.9 309.5,531.0 309.8,532.1 310.2,533.3 310.5,534.5 310.8,535.7 311.2,537.0 311.5,538.3 311.8,539.6 312.2,541.0 312.5,542.4 312.8,543.8 313.2,545.3 313.5,546.7 313.8,547.9 314.0,549.0 314.2,550.2 314.5,551.4 314.8,552.6 315.0,553.8 315.2,555.1 315.5,556.4 315.8,557.7 316.0,559.0 316.2,560.3 316.5,561.6 316.8,563.0 317.0,564.4 317.2,565.8 317.5,567.2 317.8,568.6 318.0,570.1 318.2,571.6 318.5,573.1 318.7,574.3 318.9,575.5 319.1,576.7 319.3,578.0 319.5,579.2 319.7,580.5 319.9,581.8 320.1,583.1 320.3,584.4 320.5,585.7 320.7,587.0 320.9,588.4 321.1,589.7 321.3,591.1 321.5,592.5 321.7,593.8 321.9,595.2 322.1,596.6 322.3,598.0 322.5,599.5 322.7,600.9 322.9,602.4 323.1,603.8 323.3,605.3 323.5,606.8 323.7,608.0 323.8,609.2 324.0,610.5 324.2,611.8 324.3,613.0 324.5,614.3 324.7,615.6 324.8,616.9 325.0,618.2 325.2,619.5 325.3,620.8 325.5,622.1 325.7,623.4 325.8,624.7 326.0,626.0 326.2,627.4 326.3,628.7 326.5,630.1 326.7,631.4 326.8,632.8 327.0,634.1 327.2,635.5 327.3,636.9 327.5,638.2 327.7,639.6 327.8,641.0 328.0,642.4 328.2,643.8 328.3,645.2 328.5,646.6 328.7,648.0 328.8,649.4 329.0,650.8 329.2,652.3 329.3,653.7 329.5,655.1 329.7,656.6 329.8,658.0 330.0,659.4 330.2,660.9 330.3,662.3 330.5,663.8 330.7,665.2 330.8,666.7 331.0,668.1 331.2,669.6 331.3,671.0 331.5,672.5 331.7,674.0 331.8,675.4 332.0,676.9 332.2,678.4 332.3,679.8 332.5,681.3 332.7,682.8 332.8,684.2 333.0,685.7 333.2,687.2 333.3,688.7 333.5,690.1 333.7,691.6 333.8,693.1 334.0,694.6 334.2,696.0 334.3,697.5 334.5,699.0 334.7,700.5 334.8,702.0 335.0,703.4 335.2,704.9 335.3,706.4 335.5,707.8 335.7,709.3 335.8,710.8 336.0,712.3 336.2,713.7 336.3,715.2 336.5,716.6 336.7,718.1 336.8,719.6 337.0,721.0 337.2,722.5 337.3,723.9 337.5,725.4 337.7,726.8 337.8,728.3 338.0,729.7 338.2,731.1 338.3,732.6 338.5,734.0 338.7,735.4 338.8,736.8 339.0,738.3 339.2,739.7 339.3,741.1 339.5,742.5 339.7,743.9 339.8,745.3 340.0,746.7 340.2,748.1 340.3,749.4 340.5,750.8 340.7,752.2 340.8,753.6 341.0,754.9 341.2,756.3 341.3,757.6 341.5,759.0 341.7,760.3 341.8,761.7 342.0,763.0 342.2,764.3 342.3,765.6 342.5,766.9 342.7,768.3 342.8,769.6 343.0,770.8 343.2,772.1 343.3,773.4 343.5,774.7 343.7,776.0 343.8,777.2 344.0,778.5 344.2,779.7 344.3,781.0 344.5,782.2 344.7,783.7 344.9,785.1 345.1,786.6 345.3,788.0 345.5,789.5 345.7,790.9 345.9,792.3 346.1,793.7 346.3,795.1 346.5,796.4 346.7,797.8 346.9,799.2 347.1,800.5 347.3,801.8 347.5,803.2 347.7,804.5 347.9,805.8 348.1,807.0 348.3,808.3 348.5,809.6 348.7,810.8 348.9,812.1 349.1,813.3 349.3,814.5 349.5,815.7 349.8,817.2 350.0,818.7 350.2,820.1 350.5,821.5 350.8,823.0 351.0,824.4 351.2,825.7 351.5,827.1 351.8,828.4 352.0,829.7 352.2,831.0 352.5,832.3 352.8,833.6 353.0,834.8 353.2,836.0 353.5,837.2 353.8,838.4 354.0,839.6 354.2,840.7 354.5,841.9 354.8,843.3 355.2,844.8 355.5,846.2 355.8,847.6 356.2,848.9 356.5,850.2 356.8,851.5 357.2,852.8 357.5,854.0 357.8,855.2 358.2,856.3 358.5,857.5 358.8,858.6 359.2,859.6 359.5,860.7 360.0,862.2 360.5,863.6 361.0,865.0 361.5,866.3 362.0,867.6 362.5,868.8 363.0,869.9 363.5,871.0 364.0,872.0 364.5,873.0 365.0,873.9 365.5,874.7 366.0,875.6 366.5,876.3 367.5,877.7 368.5,878.9 369.5,879.9 370.5,880.8 371.5,881.5 372.5,882.0 373.5,882.5 374.5,882.8 375.5,882.9 376.5,883.0 377.5,883.0 378.5,882.8 379.5,882.6 380.5,882.3 381.5,881.9 382.5,881.4 383.5,880.9 384.5,880.3 385.5,879.7 386.5,879.0 387.5,878.2 388.5,877.4 389.5,876.6 390.5,875.7 391.5,874.8 392.5,873.9 393.5,872.9 394.5,872.0 395.5,871.0 396.5,870.0 397.5,868.9 398.5,867.9 399.5,866.8 400.5,865.7 401.5,864.6 402.5,863.6 403.5,862.5 404.5,861.4 405.5,860.3 406.5,859.2 407.5,858.0 408.5,856.9 409.5,855.8 410.5,854.7 411.5,853.6 412.5,852.5 413.5,851.4 414.5,850.3 415.5,849.2 416.5,848.2 417.5,847.1 418.5,846.0 419.5,845.0 420.5,843.9 421.5,842.8 422.5,841.8 423.5,840.8 424.5,839.7 425.5,838.7 426.5,837.7 427.5,836.7 428.5,835.7 429.5,834.7 430.5,833.7 431.5,832.8 432.5,831.8 433.5,830.8 434.5,829.9 435.5,829.0 436.5,828.0 437.5,827.1 438.5,826.2 439.5,825.3 440.5,824.4 441.5,823.6 442.5,822.7 443.5,821.8 444.5,821.0 445.5,820.1 446.5,819.3 447.5,818.4 448.5,817.6 449.5,816.8 450.5,816.0 451.5,815.2 452.5,814.4 453.5,813.7 454.5,812.9 455.5,812.1 456.5,811.4 457.5,810.6 458.5,809.9 459.5,809.1 460.5,808.4 461.5,807.7 462.5,807.0 463.5,806.3 464.5,805.6 465.5,804.9 466.5,804.2 467.5,803.6 468.5,802.9 469.5,802.2 470.5,801.6 471.5,800.9 472.5,800.3 473.5,799.7 474.5,799.1 475.5,798.4 476.5,797.8 477.5,797.2 478.5,796.6 479.5,796.0 480.5,795.4 481.5,794.9 482.5,794.3 483.5,793.7 484.5,793.2 485.5,792.6 486.5,792.0 487.5,791.5 488.5,791.0 489.5,790.4 490.5,789.9 491.5,789.4 492.5,788.8 493.5,788.3 494.5,787.8 495.5,787.3 496.5,786.8 497.5,786.3 498.5,785.8 499.5,785.3 500.5,784.9 501.5,784.4 502.5,783.9 503.5,783.5 504.5,783.0 505.5,782.5 506.5,782.1 507.5,781.6 508.5,781.2 509.5,780.7 510.5,780.3 511.5,779.9 512.5,779.4 513.5,779.0 514.5,778.6 515.5,778.2 516.5,777.8 517.5,777.4 518.5,777.0 519.5,776.6 520.5,776.2 521.5,775.8 522.5,775.4 523.5,775.0 524.5,774.6" stroke="#0000ff"/>
<path d="M91.5,628.2 92.5,627.9 93.5,627.7 94.5,627.4 95.5,627.2 96.5,626.9 97.5,626.6 98.5,626.4 99.5,626.1 100.5,625.8 101.5,625.5 102.5,625.3 103.5,625.0 104.5,624.7 105.5,624.4 106.5,624.1 107.5,623.9 108.5,623.6 109.5,623.3 110.5,623.0 111.5,622.7 112.5,622.4 113.5,622.1 114.5,621.8 115.5,621.5 116.5,621.2 117.5,620.9 118.5,620.5 119.5,620.2 120.5,619.9 121.5,619.6 122.5,619.3 123.5,618.9 124.5,618.6 125.5,618.3 126.5,617.9 127.5,617.6 128.5,617.3 129.5,616.9 130.5,616.6 131.5,616.2 132.5,615.9 133.5,615.5 134.5,615.1 135.5,614.8 136.5,614.4 137.5,614.1 138.5,613.7 139.5,613.3 140.5,612.9 141.5,612.5 142.5,612.2 143.5,611.8 144.5,611.4 145.5,611.0 146.5,610.6 147.5,610.2 148.5,609.8 149.5,609.4 150.5,608.9 151.5,608.5 152.5,608.1 153.5,607.7 154.5,607.2 155.5,606.8 156.5,606.4 157.5,605.9 158.5,605.5 159.5,605.0 160.5,604.6 161.5,604.1 162.5,603.7 163.5,603.2 164.5,602.7 165.5,602.2 166.5,601.8 167.5,601.3 168.5,600.8 169.5,600.3 170.5,599.8 171.5,599.3 172.5,598.8 173.5,598.2 174.5,597.7 175.5,597.2 176.5,596.7 177.5,596.1 178.5,595.6 179.5,595.0 180.5,594.5 181.5,593.9 182.5,593.4 183.5,592.8 184.5,592.2 185.5,591.6 186.5,591.0 187.5,590.4 188.5,589.8 189.5,589.2 190.5,588.6 191.5,588.0 192.5,587.4 193.5,586.7 194.5,586.1 195.5,585.5 196.5,584.8 197.5,584.1 198.5,583.5 199.5,582.8 200.5,582.1 201.5,581.4 202.5,580.7 203.5,580.0 204.5,579.3 205.5,578.6 206.5,577.9 207.5,577.1 208.5,576.4 209.5,575.7 210.5,574.9 211.5,574.1 212.5,573.4 213.5,572.6 214.5,571.8 215.5,571.0 216.5,570.2 217.5,569.4 218.5,568.5 219.5,567.7 220.5,566.9 221.5,566.0 222.5,565.2 223.5,564.3 224.5,563.4 225.5,562.5 226.5,561.6 227.5,560.7 228.5,559.8 229.5,558.9 230.5,558.0 231.5,557.0 232.5,556.1 233.5,555.1 234.5,554.2 235.5,553.2 236.5,552.2 237.5,551.2 238.5,550.2 239.5,549.2 240.5,548.2 241.5,547.2 242.5,546.1 243.5,545.1 244.5,544.0 245.5,543.0 246.5,541.9 247.5,540.8 248.5,539.7 249.5,538.7 250.5,537.6 251.5,536.5 252.5,535.4 253.5,534.3 254.5,533.1 255.5,532.0 256.5,530.9 257.5,529.8 258.5,528.7 259.5,527.5 260.5,526.4 261.5,525.3 262.5,524.2 263.5,523.1 264.5,522.0 265.5,520.9 266.5,519.8 267.5,518.7 268.5,517.6 269.5,516.5 270.5,515.5 271.5,514.5 272.5,513.5 273.5,512.5 274.5,511.5 275.5,510.6 276.5,509.7 277.5,508.8 278.5,508.0 279.5,507.2 280.5,506.4 281.5,505.7 282.5,505.1 283.5,504.5 284.5,504.0 285.5,503.5 286.5,503.1 287.5,502.8 288.5,502.6 289.5,502.5 290.5,502.5 291.5,502.6 292.5,502.8 293.5,503.1 294.5,503.6 295.5,504.2 296.5,505.0 297.5,505.9 298.5,507.0 299.5,508.2 300.5,509.7 301.0,510.5 301.5,511.4 302.0,512.3 302.5,513.2 303.0,514.2 303.5,515.3 304.0,516.4 304.5,517.6 305.0,518.9 305.5,520.2 306.0,521.6 306.5,523.0 306.8,524.0 307.2,525.0 307.5,526.1 307.8,527.2 308.2,528.3 308.5,529.4 308.8,530.6 309.2,531.8 309.5,533.0 309.8,534.3 310.2,535.6 310.5,536.9 310.8,538.3 311.2,539.7 311.5,541.1 311.8,542.6 312.2,544.1 312.5,545.6 312.8,546.8 313.0,548.0 313.2,549.2 313.5,550.4 313.8,551.7 314.0,552.9 314.2,554.2 314.5,555.5 314.8,556.9 315.0,558.2 315.2,559.6 315.5,561.0 315.8,562.4 316.0,563.8 316.2,565.2 316.5,566.7 316.7,567.9 316.9,569.1 317.1,570.3 317.3,571.5 317.5,572.7 317.7,574.0 317.9,575.2 318.1,576.5 318.3,577.8 318.5,579.1 318.7,580.4 318.9,581.7 319.1,583.0 319.3,584.3 319.5,585.7 319.7,587.0 319.9,588.4 320.1,589.8 320.3,591.2 320.5,592.6 320.7,594.0 320.9,595.5 321.1,596.9 321.3,598.4 321.5,599.8 321.7,601.3 321.9,602.8 322.1,604.3 322.3,605.8 322.5,607.3 322.7,608.6 322.8,609.8 323.0,611.1 323.2,612.4 323.3,613.7 323.5,615.0 323.7,616.3 323.8,617.6 324.0,619.0 324.2,620.3 324.3,621.6 324.5,623.0 324.7,624.3 324.8,625.7 325.0,627.0 325.2,628.4 325.3,629.8 325.5,631.2 325.7,632.5 325.8,633.9 326.0,635.3 326.2,636.7 326.3,638.1 326.5,639.5 326.7,640.9 326.8,642.4 327.0,643.8 327.2,645.2 327.3,646.6 327.5,648.1 327.7,649.5 327.8,651.0 328.0,652.4 328.2,653.9 328.3,655.3 328.5,656.8 328.7,658.2 328.8,659.7 329.0,661.2 329.2,662.6 329.3,664.1 329.5,665.6 329.7,667.1 329.8,668.6 330.0,670.0 330.2,671.5 330.3,673.0 330.5,674.5 330.7,676.0 330.8,677.5 331.0,679.0 331.2,680.5 331.3,682.0 331.5,683.5 331.6,684.8 331.8,686.1 331.9,687.4 332.1,688.6 332.2,689.9 332.4,691.2 332.5,692.5 332.6,693.8 332.8,695.1 332.9,696.4 333.1,697.7 333.2,699.0 333.4,700.2 333.5,701.5 333.7,703.0 333.8,704.5 334.0,706.0 334.2,707.5 334.3,709.0 334.5,710.5 334.7,712.0 334.8,713.5 335.0,715.0 335.2,716.5 335.3,718.0 335.5,719.5 335.7,721.0 335.8,722.4 336.0,723.9 336.2,725.4 336.3,726.9 336.5,728.3 336.7,729.8 336.8,731.3 337.0,732.7 337.2,734.2 337.3,735.6 337.5,737.1 337.7,738.5 337.8,740.0 338.0,741.4 338.2,742.8 338.3,744.3 338.5,745.7 338.7,747.1 338.8,748.5 339.0,749.9 339.2,751.3 339.3,752.7 339.5,754.1 339.7,755.5 339.8,756.9 340.0,758.3 340.2,759.7 340.3,761.0 340.5,762.4 340.7,763.7 340.8,765.1 341.0,766.4 341.2,767.8 341.3,769.1 341.5,770.4 341.7,771.8 341.8,773.1 342.0,774.4 342.2,775.7 342.3,777.0 342.5,778.3 342.7,779.5 342.8,780.8 343.0,782.1 343.2,783.3 343.3,784.6 343.5,785.8 343.7,787.3 343.9,788.8 344.1,790.3 344.3,791.7 344.5,793.1 344.7,794.6 344.9,796.0 345.1,797.4 345.3,798.8 345.5,800.2 345.7,801.6 345.9,802.9 346.1,804.3 346.3,805.6 346.5,806.9 346.7,808.2 346.9,809.5 347.1,810.8 347.3,812.1 347.5,813.4 347.7,814.6 347.9,815.9 348.1,817.1 348.3,818.3 348.5,819.5 348.8,821.0 349.0,822.5 349.2,823.9 349.5,825.4 349.8,826.8 350.0,828.2 350.2,829.5 350.5,830.9 350.8,832.2 351.0,833.5 351.2,834.8 351.5,836.1 351.8,837.4 352.0,838.6 352.2,839.8 352.5,841.0 352.8,842.2 353.0,843.4 353.2,844.5 353.5,845.6 353.8,847.1 354.2,848.5 354.5,850.0 354.8,851.3 355.2,852.7 355.5,854.0 355.8,855.2 356.2,856.5 356.5,857.7 356.8,858.9 357.2,860.0 357.5,861.1 357.8,862.2 358.2,863.3 358.5,864.3 359.0,865.8 359.5,867.2 360.0,868.5 360.5,869.8 361.0,871.1 361.5,872.2 362.0,873.3 362.5,874.4 363.0,875.4 363.5,876.3 364.0,877.2 364.5,878.1 365.0,878.8 365.5,879.6 366.5,880.9 367.5,882.0 368.5,883.0 369.5,883.8 370.5,884.5 371.5,885.0 372.5,885.3 373.5,885.6 374.5,885.7 375.5,885.7 376.5,885.6 377.5,885.4 378.5,885.2 379.5,884.8 380.5,884.4 381.5,883.8 382.5,883.3 383.5,882.6 384.5,881.9 385.5,881.2 386.5,880.4 387.5,879.6 388.5,878.7 389.5,877.8 390.5,876.9 391.5,875.9 392.5,874.9 393.5,873.9 394.5,872.9 395.5,871.8 396.5,870.7 397.5,869.6 398.5,868.6 399.5,867.5 400.5,866.3 401.5,865.2 402.5,864.1 403.5,863.0 404.5,861.8 405.5,860.7 406.5,859.6 407.5,858.4 408.5,857.3 409.5,856.2 410.5,855.1 411.5,853.9 412.5,852.8 413.5,851.7 414.5,850.6 415.5,849.5 416.5,848.4 417.5,847.3 418.5,846.2 419.5,845.1 420.5,844.1 421.5,843.0 422.5,841.9 423.5,840.9 424.5,839.9 425.5,838.8 426.5,837.8 427.5,836.8 428.5,835.8 429.5,834.8 430.5,833.8 431.5,832.8 432.5,831.9 433.5,830.9 434.5,830.0 435.5,829.0 436.5,828.1 437.5,827.2 438.5,826.3 439.5,825.4 440.5,824.5 441.5,823.6 442.5,822.7 443.5,821.8 444.5,821.0 445.5,820.1 446.5,819.3 447.5,818.5 448.5,817.6 449.5,816.8 450.5,816.0 451.5,815.2 452.5,814.4 453.5,813.7 454.5,812.9 455.5,812.1 456.5,811.4 457.5,810.6 458.5,809.9 459.5,809.2 460.5,808.4 461.5,807.7 462.5,807.0 463.5,806.3 464.5,805.6 465.5,804.9 466.5,804.2 467.5,803.6 468.5,802.9 469.5,802.2 470.5,801.6 471.5,800.9 472.5,800.3 473.5,799.7 474.5,799.0 475.5,798.4 476.5,797.8 477.5,797.2 478.5,796.6 479.5,796.0 480.5,795.4 481.5,794.8 482.5,794.3 483.5,793.7 484.5,793.1 485.5,792.6 486.5,792.0 487.5,791.5 488.5,790.9 489.5,790.4 490.5,789.9 491.5,789.3 492.5,788.8 493.5,788.3 494.5,787.8 495.5,787.3 496.5,786.8 497.5,786.3 498.5,785.8 499.5,785.3 500.5,784.8 501.5,784.4 502.5,783.9 503.5,783.4 504.5,783.0 505.5,782.5 506.5,782.1 507.5,781.6 508.5,781.2 509.5,780.7 510.5,780.3 511.5,779.8 512.5,779.4 513.5,779.0 514.5,778.6 515.5,778.2 516.5,777.7 517.5,777.3 518.5,776.9 519.5,776.5 520.5,776.1 521.5,775.7 522.5,775.3 523.5,774.9 524.5,774.6" stroke="#ff0000"/>
<path d="M91.5,685.2 92.5,685.2 93.5,685.2 94.5,685.1 95.5,685.1 96.5,685.1 97.5,685.0 98.5,685.0 99.5,685.0 100.5,684.9 101.5,684.9 102.5,684.8 103.5,684.8 104.5,684.8 105.5,684.7 106.5,684.7 107.5,684.7 108.5,684.6 109.5,684.6 110.5,684.5 111.5,684.5 112.5,684.5 113.5,684.4 114.5,684.4 115.5,684.3 116.5,684.3 117.5,684.2 118.5,684.2 119.5,684.2 120.5,684.1 121.5,684.1 122.5,684.0 123.5,684.0 124.5,683.9 125.5,683.9 126.5,683.8 127.5,683.8 128.5,683.8 129.5,683.7 130.5,683.7 131.5,683.6 132.5,683.6 133.5,683.5 134.5,683.5 135.5,683.4 136.5,683.4 137.5,683.3 138.5,683.3 139.5,683.2 140.5,683.2 141.5,683.1 142.5,683.1 143.5,683.0 144.5,682.9 145.5,682.9 146.5,682.8 147.5,682.8 148.5,682.7 149.5,682.7 150.5,682.6 151.5,682.6 152.5,682.5 153.5,682.4 154.5,682.4 155.5,682.3 156.5,682.3 157.5,682.2 158.5,682.1 159.5,682.1 160.5,682.0 161.5,681.9 162.5,681.9 163.5,681.8 164.5,681.8 165.5,681.7 166.5,681.6 167.5,681.6 168.5,681.5 169.5,681.4 170.5,681.3 171.5,681.3 172.5,681.2 173.5,681.1 174.5,681.1 175.5,681.0 176.5,680.9 177.5,680.8 178.5,680.8 179.5,680.7 180.5,680.6 181.5,680.5 182.5,680.5 183.5,680.4 184.5,680.3 185.5,680.2 186.5,680.1 187.5,680.0 188.5,680.0 189.5,679.9 190.5,679.8 191.5,679.7 192.5,679.6 193.5,679.5 194.5,679.4 195.5,679.3 196.5,679.3 197.5,679.2 198.5,679.1 199.5,679.0 200.5,678.9 201.5,678.8 202.5,678.7 203.5,678.6 204.5,678.5 205.5,678.4 206.5,678.3 207.5,678.2 208.5,678.1 209.5,678.0 210.5,677.9 211.5,677.8 212.5,677.7 213.5,677.5 214.5,677.4 215.5,677.3 216.5,677.2 217.5,677.1 218.5,677.0 219.5,676.9 220.5,676.7 221.5,676.6 222.5,676.5 223.5,676.4 224.5,676.3 225.5,676.1 226.5,676.0 227.5,675.9 228.5,675.7 229.5,675.6 230.5,675.5 231.5,675.4 232.5,675.2 233.5,675.1 234.5,674.9 235.5,674.8 236.5,674.7 237.5,674.5 238.5,674.4 239.5,674.3 240.5,674.1 241.5,674.0 242.5,673.8 243.5,673.7 244.5,673.5 245.5,673.4 246.5,673.2 247.5,673.1 248.5,672.9 249.5,672.8 250.5,672.6 251.5,672.5 252.5,672.3 253.5,672.2 254.5,672.0 255.5,671.9 256.5,671.7 257.5,671.6 258.5,671.4 259.5,671.3 260.5,671.1 261.5,671.0 262.5,670.8 263.5,670.7 264.5,670.5 265.5,670.4 266.5,670.2 267.5,670.1 268.5,670.0 269.5,669.8 270.5,669.7 271.5,669.6 272.5,669.5 273.5,669.4 274.5,669.3 275.5,669.2 276.5,669.1 277.5,669.0 278.5,668.9 279.5,668.8 280.5,668.8 281.5,668.7 282.5,668.7 283.5,668.7 284.5,668.7 285.5,668.7 286.5,668.7 287.5,668.7 288.5,668.8 289.5,668.8 290.5,668.9 291.5,669.0 292.5,669.2 293.5,669.3 294.5,669.5 295.5,669.7 296.5,670.0 297.5,670.3 298.5,670.6 299.5,670.9 300.5,671.3 301.5,671.7 302.5,672.1 303.5,672.6 304.5,673.1 305.5,673.7 306.5,674.3 307.5,675.0 308.5,675.7 309.5,676.4 310.5,677.2 311.5,678.0 312.5,678.8 313.5,679.7 314.5,680.7 315.5,681.7 316.5,682.7 317.5,683.7 318.5,684.8 319.5,685.9 320.5,687.1 321.5,688.2 322.5,689.4 323.5,690.6 324.5,691.8 325.5,693.0 326.5,694.3 327.5,695.5 328.5,696.7 329.5,697.9 330.5,699.1 331.5,700.2 332.5,701.4 333.5,702.5 334.5,703.6 335.5,704.7 336.5,705.7 337.5,706.7 338.5,707.7 339.5,708.6 340.5,709.5 341.5,710.3 342.5,711.1 343.5,711.8 344.5,712.5 345.5,713.2 346.5,713.8 347.5,714.4 348.5,715.0 349.5,715.5 350.5,715.9 351.5,716.3 352.5,716.7 353.5,717.1 354.5,717.4 355.5,717.7 356.5,717.9 357.5,718.2 358.5,718.4 359.5,718.5 360.5,718.7 361.5,718.8 362.5,718.9 363.5,719.0 364.5,719.0 365.5,719.1 366.5,719.1 367.5,719.1 368.5,719.1 369.5,719.1 370.5,719.1 371.5,719.0 372.5,719.0 373.5,718.9 374.5,718.8 375.5,718.7 376.5,718.7 377.5,718.6 378.5,718.5 379.5,718.3 380.5,718.2 381.5,718.1 382.5,718.0 383.5,717.9 384.5,717.7 385.5,717.6 386.5,717.4 387.5,717.3 388.5,717.2 389.5,717.0 390.5,716.9 391.5,716.7 392.5,716.6 393.5,716.4 394.5,716.3 395.5,716.1 396.5,716.0 397.5,715.8 398.5,715.7 399.5,715.5 400.5,715.4 401.5,715.2 402.5,715.1 403.5,714.9 404.5,714.8 405.5,714.6 406.5,714.5 407.5,714.3 408.5,714.2 409.5,714.0 410.5,713.9 411.5,713.7 412.5,713.6 413.5,713.4 414.5,713.3 415.5,713.2 416.5,713.0 417.5,712.9 418.5,712.7 419.5,712.6 420.5,712.5 421.5,712.3 422.5,712.2 423.5,712.1 424.5,712.0 425.5,711.8 426.5,711.7 427.5,711.6 428.5,711.5 429.5,711.3 430.5,711.2 431.5,711.1 432.5,711.0 433.5,710.8 434.5,710.7 435.5,710.6 436.5,710.5 437.5,710.4 438.5,710.3 439.5,710.2 440.5,710.1 441.5,710.0 442.5,709.8 443.5,709.7 444.5,709.6 445.5,709.5 446.5,709.4 447.5,709.3 448.5,709.2 449.5,709.1 450.5,709.0 451.5,708.9 452.5,708.8 453.5,708.7 454.5,708.6 455.5,708.6 456.5,708.5 457.5,708.4 458.5,708.3 459.5,708.2 460.5,708.1 461.5,708.0 462.5,707.9 463.5,707.8 464.5,707.8 465.5,707.7 466.5,707.6 467.5,707.5 468.5,707.4 469.5,707.4 470.5,707.3 471.5,707.2 472.5,707.1 473.5,707.0 474.5,707.0 475.5,706.9 476.5,706.8 477.5,706.7 478.5,706.7 479.5,706.6 480.5,706.5 481.5,706.5 482.5,706.4 483.5,706.3 484.5,706.3 485.5,706.2 486.5,706.1 487.5,706.1 488.5,706.0 489.5,705.9 490.5,705.9 491.5,705.8 492.5,705.7 493.5,705.7 494.5,705.6 495.5,705.5 496.5,705.5 497.5,705.4 498.5,705.4 499.5,705.3 500.5,705.2 501.5,705.2 502.5,705.1 503.5,705.1 504.5,705.0 505.5,705.0 506.5,704.9 507.5,704.9 508.5,704.8 509.5,704.7 510.5,704.7 511.5,704.6 512.5,704.6 513.5,704.5 514.5,704.5 515.5,704.4 516.5,704.4 517.5,704.3 518.5,704.3 519.5,704.2 520.5,704.2 521.5,704.1 522.5,704.1 523.5,704.0 524.5,704.0" stroke="#000000" stroke-dasharray="6.6,2.93" stroke-dashoffset="1.2"/>
</g>
<path d="M91.5,694.4H524.5" stroke="#000" stroke-opacity="0.55" stroke-width="1"/>
<path d="M91.5,910.5V477.5H524.5M524.5,910.5H91.5" fill="none" stroke="#6e6e6e" stroke-width="1"/>
<path d="M524.5,477.0V911.0" fill="none" stroke="#474747" stroke-width="1"/>
<path d="M91.50,910.5v-6.3M91.50,477.5v6.3M104.82,910.5v-3.7M104.82,477.5v3.7M118.14,910.5v-3.7M118.14,477.5v3.7M131.46,910.5v-3.7M131.46,477.5v3.7M144.78,910.5v-3.7M144.78,477.5v3.7M158.10,910.5v-6.3M158.10,477.5v6.3M171.42,910.5v-3.7M171.42,477.5v3.7M184.74,910.5v-3.7M184.74,477.5v3.7M198.06,910.5v-3.7M198.06,477.5v3.7M211.38,910.5v-3.7M211.38,477.5v3.7M224.70,910.5v-6.3M224.70,477.5v6.3M238.02,910.5v-3.7M238.02,477.5v3.7M251.34,910.5v-3.7M251.34,477.5v3.7M264.66,910.5v-3.7M264.66,477.5v3.7M277.98,910.5v-3.7M277.98,477.5v3.7M291.30,910.5v-6.3M291.30,477.5v6.3M304.62,910.5v-3.7M304.62,477.5v3.7M317.94,910.5v-3.7M317.94,477.5v3.7M331.26,910.5v-3.7M331.26,477.5v3.7M344.58,910.5v-3.7M344.58,477.5v3.7M357.90,910.5v-6.3M357.90,477.5v6.3M371.22,910.5v-3.7M371.22,477.5v3.7M384.54,910.5v-3.7M384.54,477.5v3.7M397.86,910.5v-3.7M397.86,477.5v3.7M411.18,910.5v-3.7M411.18,477.5v3.7M424.50,910.5v-6.3M424.50,477.5v6.3M437.82,910.5v-3.7M437.82,477.5v3.7M451.14,910.5v-3.7M451.14,477.5v3.7M464.46,910.5v-3.7M464.46,477.5v3.7M477.78,910.5v-3.7M477.78,477.5v3.7M491.10,910.5v-6.3M491.10,477.5v6.3M504.42,910.5v-3.7M504.42,477.5v3.7M517.74,910.5v-3.7M517.74,477.5v3.7M91.5,893.78h3.7M524.5,893.78h-3.7M91.5,877.14h3.7M524.5,877.14h-3.7M91.5,860.50h6.3M524.5,860.50h-6.3M91.5,843.86h3.7M524.5,843.86h-3.7M91.5,827.22h3.7M524.5,827.22h-3.7M91.5,810.58h3.7M524.5,810.58h-3.7M91.5,793.94h3.7M524.5,793.94h-3.7M91.5,777.30h6.3M524.5,777.30h-6.3M91.5,760.66h3.7M524.5,760.66h-3.7M91.5,744.02h3.7M524.5,744.02h-3.7M91.5,727.38h3.7M524.5,727.38h-3.7M91.5,710.74h3.7M524.5,710.74h-3.7M91.5,694.10h6.3M524.5,694.10h-6.3M91.5,677.46h3.7M524.5,677.46h-3.7M91.5,660.82h3.7M524.5,660.82h-3.7M91.5,644.18h3.7M524.5,644.18h-3.7M91.5,627.54h3.7M524.5,627.54h-3.7M91.5,610.90h6.3M524.5,610.90h-6.3M91.5,594.26h3.7M524.5,594.26h-3.7M91.5,577.62h3.7M524.5,577.62h-3.7M91.5,560.98h3.7M524.5,560.98h-3.7M91.5,544.34h3.7M524.5,544.34h-3.7M91.5,527.70h6.3M524.5,527.70h-6.3M91.5,511.06h3.7M524.5,511.06h-3.7M91.5,494.42h3.7M524.5,494.42h-3.7" stroke="#444" stroke-width="1" fill="none"/>
<text transform="translate(91.50,946.5) scale(1,1.03)" text-anchor="middle">0</text><text transform="translate(158.10,946.5) scale(1,1.03)" text-anchor="middle">1</text><text transform="translate(224.70,946.5) scale(1,1.03)" text-anchor="middle">2</text><text transform="translate(291.30,946.5) scale(1,1.03)" text-anchor="middle">3</text><text transform="translate(357.90,946.5) scale(1,1.03)" text-anchor="middle">4</text><text transform="translate(424.50,946.5) scale(1,1.03)" text-anchor="middle">5</text><text transform="translate(491.10,946.5) scale(1,1.03)" text-anchor="middle">6</text><text transform="translate(85.50,872.1) scale(1,1.03)" text-anchor="end">2</text><path d="M46.5,863.1H63.7" stroke="#000" stroke-width="2.1"/><text transform="translate(85.50,788.9) scale(1,1.03)" text-anchor="end">1</text><path d="M46.5,779.9H63.7" stroke="#000" stroke-width="2.1"/><text transform="translate(85.50,705.7) scale(1,1.03)" text-anchor="end">0</text><text transform="translate(85.50,622.5) scale(1,1.03)" text-anchor="end">1</text><text transform="translate(85.50,539.3) scale(1,1.03)" text-anchor="end">2</text><clipPath id="clipd"><rect x="590.8" y="477.5" width="433.20000000000005" height="433.0"/></clipPath>
<g clip-path="url(#clipd)" fill="none" stroke-width="2.0" stroke-linejoin="round">
<path d="M590.8,623.8 591.8,623.5 592.8,623.2 593.8,622.9 594.8,622.6 595.8,622.3 596.8,622.0 597.8,621.8 598.8,621.5 599.8,621.2 600.8,620.9 601.8,620.5 602.8,620.2 603.8,619.9 604.8,619.6 605.8,619.3 606.8,619.0 607.8,618.7 608.8,618.3 609.8,618.0 610.8,617.7 611.8,617.3 612.8,617.0 613.8,616.7 614.8,616.3 615.8,616.0 616.8,615.6 617.8,615.3 618.8,614.9 619.8,614.6 620.8,614.2 621.8,613.9 622.8,613.5 623.8,613.1 624.8,612.8 625.8,612.4 626.8,612.0 627.8,611.6 628.8,611.2 629.8,610.9 630.8,610.5 631.8,610.1 632.8,609.7 633.8,609.3 634.8,608.9 635.8,608.5 636.8,608.0 637.8,607.6 638.8,607.2 639.8,606.8 640.8,606.4 641.8,605.9 642.8,605.5 643.8,605.0 644.8,604.6 645.8,604.1 646.8,603.7 647.8,603.2 648.8,602.8 649.8,602.3 650.8,601.8 651.8,601.4 652.8,600.9 653.8,600.4 654.8,599.9 655.8,599.4 656.8,598.9 657.8,598.4 658.8,597.9 659.8,597.4 660.8,596.9 661.8,596.3 662.8,595.8 663.8,595.3 664.8,594.7 665.8,594.2 666.8,593.6 667.8,593.1 668.8,592.5 669.8,591.9 670.8,591.4 671.8,590.8 672.8,590.2 673.8,589.6 674.8,589.0 675.8,588.4 676.8,587.8 677.8,587.2 678.8,586.6 679.8,585.9 680.8,585.3 681.8,584.7 682.8,584.0 683.8,583.3 684.8,582.7 685.8,582.0 686.8,581.3 687.8,580.7 688.8,580.0 689.8,579.3 690.8,578.6 691.8,577.8 692.8,577.1 693.8,576.4 694.8,575.6 695.8,574.9 696.8,574.2 697.8,573.4 698.8,572.6 699.8,571.8 700.8,571.1 701.8,570.3 702.8,569.5 703.8,568.7 704.8,567.8 705.8,567.0 706.8,566.2 707.8,565.3 708.8,564.5 709.8,563.6 710.8,562.7 711.8,561.9 712.8,561.0 713.8,560.1 714.8,559.2 715.8,558.2 716.8,557.3 717.8,556.4 718.8,555.4 719.8,554.5 720.8,553.5 721.8,552.6 722.8,551.6 723.8,550.6 724.8,549.6 725.8,548.6 726.8,547.6 727.8,546.6 728.8,545.5 729.8,544.5 730.8,543.4 731.8,542.4 732.8,541.3 733.8,540.2 734.8,539.2 735.8,538.1 736.8,537.0 737.8,535.9 738.8,534.8 739.8,533.7 740.8,532.6 741.8,531.5 742.8,530.3 743.8,529.2 744.8,528.1 745.8,527.0 746.8,525.8 747.8,524.7 748.8,523.6 749.8,522.5 750.8,521.4 751.8,520.2 752.8,519.1 753.8,518.0 754.8,516.9 755.8,515.9 756.8,514.8 757.8,513.8 758.8,512.7 759.8,511.7 760.8,510.7 761.8,509.8 762.8,508.8 763.8,507.9 764.8,507.1 765.8,506.2 766.8,505.4 767.8,504.7 768.8,504.0 769.8,503.4 770.8,502.8 771.8,502.3 772.8,501.8 773.8,501.4 774.8,501.2 775.8,501.0 776.8,500.8 777.8,500.8 778.8,500.9 779.8,501.2 780.8,501.5 781.8,502.0 782.8,502.6 783.8,503.4 784.8,504.3 785.8,505.4 786.8,506.7 787.8,508.2 788.3,509.0 788.8,509.9 789.3,510.8 789.8,511.8 790.3,512.8 790.8,513.9 791.3,515.1 791.8,516.3 792.3,517.5 792.8,518.9 793.3,520.3 793.8,521.7 794.1,522.7 794.5,523.8 794.8,524.8 795.1,525.9 795.5,527.1 795.8,528.2 796.1,529.4 796.5,530.6 796.8,531.9 797.1,533.2 797.5,534.5 797.8,535.8 798.1,537.2 798.5,538.6 798.8,540.1 799.0,541.2 799.3,542.3 799.5,543.5 799.8,544.6 800.0,545.8 800.3,547.0 800.5,548.3 800.8,549.5 801.0,550.8 801.3,552.1 801.5,553.4 801.8,554.7 802.0,556.0 802.3,557.4 802.5,558.8 802.8,560.2 803.0,561.6 803.3,563.0 803.5,564.5 803.8,566.0 804.0,567.2 804.2,568.4 804.4,569.6 804.6,570.8 804.8,572.1 805.0,573.3 805.2,574.6 805.4,575.9 805.6,577.2 805.8,578.5 806.0,579.8 806.2,581.1 806.4,582.5 806.6,583.8 806.8,585.2 807.0,586.6 807.2,588.0 807.4,589.4 807.6,590.8 807.8,592.2 808.0,593.6 808.2,595.1 808.4,596.5 808.6,598.0 808.8,599.5 809.0,600.7 809.1,602.0 809.3,603.2 809.5,604.5 809.6,605.8 809.8,607.1 810.0,608.3 810.1,609.6 810.3,610.9 810.5,612.2 810.6,613.6 810.8,614.9 811.0,616.2 811.1,617.5 811.3,618.9 811.5,620.2 811.6,621.6 811.8,622.9 812.0,624.3 812.1,625.7 812.3,627.0 812.5,628.4 812.6,629.8 812.8,631.2 813.0,632.6 813.1,634.0 813.3,635.4 813.5,636.8 813.6,638.3 813.8,639.7 814.0,641.1 814.1,642.6 814.3,644.0 814.5,645.4 814.6,646.9 814.8,648.3 815.0,649.8 815.1,651.3 815.3,652.7 815.5,654.2 815.6,655.7 815.8,657.1 816.0,658.6 816.1,660.1 816.3,661.6 816.5,663.1 816.6,664.6 816.8,666.1 816.9,667.3 817.1,668.6 817.2,669.9 817.4,671.2 817.5,672.5 817.7,673.8 817.8,675.1 817.9,676.4 818.1,677.7 818.2,679.0 818.4,680.3 818.5,681.6 818.7,682.9 818.8,684.2 818.9,685.5 819.1,686.8 819.2,688.1 819.4,689.4 819.5,690.7 819.7,692.0 819.8,693.3 819.9,694.6 820.1,695.9 820.2,697.2 820.4,698.5 820.5,699.8 820.7,701.1 820.8,702.4 820.9,703.7 821.1,705.0 821.2,706.3 821.4,707.6 821.5,708.9 821.7,710.2 821.8,711.5 821.9,712.8 822.1,714.1 822.2,715.4 822.4,716.7 822.5,718.0 822.7,719.3 822.8,720.6 823.0,722.1 823.1,723.6 823.3,725.1 823.5,726.5 823.6,728.0 823.8,729.5 824.0,731.0 824.1,732.5 824.3,734.0 824.5,735.4 824.6,736.9 824.8,738.4 825.0,739.8 825.1,741.3 825.3,742.7 825.5,744.2 825.6,745.6 825.8,747.1 826.0,748.5 826.1,749.9 826.3,751.4 826.5,752.8 826.6,754.2 826.8,755.6 827.0,757.0 827.1,758.4 827.3,759.8 827.5,761.2 827.6,762.6 827.8,764.0 828.0,765.3 828.1,766.7 828.3,768.1 828.5,769.4 828.6,770.8 828.8,772.1 829.0,773.4 829.1,774.8 829.3,776.1 829.5,777.4 829.6,778.7 829.8,780.0 830.0,781.3 830.1,782.6 830.3,783.9 830.5,785.1 830.6,786.4 830.8,787.6 831.0,789.1 831.2,790.6 831.4,792.1 831.6,793.6 831.8,795.0 832.0,796.5 832.2,797.9 832.4,799.3 832.6,800.7 832.8,802.1 833.0,803.5 833.2,804.9 833.4,806.3 833.6,807.6 833.8,808.9 834.0,810.3 834.2,811.6 834.4,812.9 834.6,814.2 834.8,815.5 835.0,816.7 835.2,818.0 835.4,819.2 835.6,820.4 835.8,821.7 836.0,823.2 836.3,824.6 836.5,826.1 836.8,827.5 837.0,829.0 837.3,830.4 837.5,831.8 837.8,833.1 838.0,834.5 838.3,835.8 838.5,837.1 838.8,838.4 839.0,839.7 839.3,840.9 839.5,842.1 839.8,843.3 840.0,844.5 840.3,845.7 840.5,846.8 840.8,848.0 841.1,849.5 841.5,850.9 841.8,852.3 842.1,853.7 842.5,855.0 842.8,856.3 843.1,857.6 843.5,858.9 843.8,860.1 844.1,861.3 844.5,862.4 844.8,863.5 845.1,864.6 845.5,865.7 845.8,866.7 846.3,868.2 846.8,869.6 847.3,871.0 847.8,872.3 848.3,873.5 848.8,874.7 849.3,875.8 849.8,876.8 850.3,877.8 850.8,878.8 851.3,879.6 851.8,880.5 852.3,881.3 852.8,882.0 853.8,883.3 854.8,884.4 855.8,885.4 856.8,886.2 857.8,886.8 858.8,887.3 859.8,887.6 860.8,887.9 861.8,887.9 862.8,887.9 863.8,887.8 864.8,887.6 865.8,887.3 866.8,886.9 867.8,886.4 868.8,885.9 869.8,885.3 870.8,884.6 871.8,883.9 872.8,883.1 873.8,882.3 874.8,881.5 875.8,880.6 876.8,879.6 877.8,878.7 878.8,877.7 879.8,876.7 880.8,875.6 881.8,874.6 882.8,873.5 883.8,872.4 884.8,871.3 885.8,870.2 886.8,869.0 887.8,867.9 888.8,866.7 889.8,865.6 890.8,864.4 891.8,863.3 892.8,862.1 893.8,861.0 894.8,859.8 895.8,858.7 896.8,857.5 897.8,856.4 898.8,855.2 899.8,854.1 900.8,852.9 901.8,851.8 902.8,850.7 903.8,849.6 904.8,848.5 905.8,847.4 906.8,846.3 907.8,845.2 908.8,844.1 909.8,843.0 910.8,842.0 911.8,840.9 912.8,839.9 913.8,838.8 914.8,837.8 915.8,836.8 916.8,835.8 917.8,834.8 918.8,833.8 919.8,832.8 920.8,831.8 921.8,830.8 922.8,829.9 923.8,828.9 924.8,828.0 925.8,827.1 926.8,826.2 927.8,825.3 928.8,824.4 929.8,823.5 930.8,822.6 931.8,821.7 932.8,820.9 933.8,820.0 934.8,819.2 935.8,818.3 936.8,817.5 937.8,816.7 938.8,815.9 939.8,815.1 940.8,814.3 941.8,813.5 942.8,812.7 943.8,812.0 944.8,811.2 945.8,810.5 946.8,809.7 947.8,809.0 948.8,808.3 949.8,807.5 950.8,806.8 951.8,806.1 952.8,805.4 953.8,804.7 954.8,804.1 955.8,803.4 956.8,802.7 957.8,802.1 958.8,801.4 959.8,800.8 960.8,800.1 961.8,799.5 962.8,798.9 963.8,798.2 964.8,797.6 965.8,797.0 966.8,796.4 967.8,795.8 968.8,795.2 969.8,794.6 970.8,794.1 971.8,793.5 972.8,792.9 973.8,792.4 974.8,791.8 975.8,791.3 976.8,790.7 977.8,790.2 978.8,789.7 979.8,789.1 980.8,788.6 981.8,788.1 982.8,787.6 983.8,787.1 984.8,786.6 985.8,786.1 986.8,785.6 987.8,785.1 988.8,784.6 989.8,784.1 990.8,783.7 991.8,783.2 992.8,782.7 993.8,782.3 994.8,781.8 995.8,781.4 996.8,780.9 997.8,780.5 998.8,780.0 999.8,779.6 1000.8,779.2 1001.8,778.7 1002.8,778.3 1003.8,777.9 1004.8,777.5 1005.8,777.1 1006.8,776.7 1007.8,776.3 1008.8,775.9 1009.8,775.5 1010.8,775.1 1011.8,774.7 1012.8,774.3 1013.8,773.9 1014.8,773.5 1015.8,773.2 1016.8,772.8 1017.8,772.4 1018.8,772.1 1019.8,771.7 1020.8,771.3 1021.8,771.0 1022.8,770.6 1023.8,770.3" stroke="#00aaaa"/>
<path d="M590.8,622.7 591.8,622.4 592.8,622.1 593.8,621.8 594.8,621.5 595.8,621.2 596.8,620.9 597.8,620.6 598.8,620.2 599.8,619.9 600.8,619.6 601.8,619.3 602.8,619.0 603.8,618.7 604.8,618.3 605.8,618.0 606.8,617.7 607.8,617.3 608.8,617.0 609.8,616.7 610.8,616.3 611.8,616.0 612.8,615.6 613.8,615.3 614.8,614.9 615.8,614.6 616.8,614.2 617.8,613.8 618.8,613.5 619.8,613.1 620.8,612.7 621.8,612.3 622.8,612.0 623.8,611.6 624.8,611.2 625.8,610.8 626.8,610.4 627.8,610.0 628.8,609.6 629.8,609.2 630.8,608.8 631.8,608.4 632.8,608.0 633.8,607.5 634.8,607.1 635.8,606.7 636.8,606.3 637.8,605.8 638.8,605.4 639.8,604.9 640.8,604.5 641.8,604.0 642.8,603.6 643.8,603.1 644.8,602.7 645.8,602.2 646.8,601.7 647.8,601.2 648.8,600.8 649.8,600.3 650.8,599.8 651.8,599.3 652.8,598.8 653.8,598.3 654.8,597.8 655.8,597.3 656.8,596.7 657.8,596.2 658.8,595.7 659.8,595.1 660.8,594.6 661.8,594.0 662.8,593.5 663.8,592.9 664.8,592.4 665.8,591.8 666.8,591.2 667.8,590.6 668.8,590.0 669.8,589.4 670.8,588.8 671.8,588.2 672.8,587.6 673.8,587.0 674.8,586.4 675.8,585.8 676.8,585.1 677.8,584.5 678.8,583.8 679.8,583.2 680.8,582.5 681.8,581.8 682.8,581.1 683.8,580.4 684.8,579.8 685.8,579.1 686.8,578.3 687.8,577.6 688.8,576.9 689.8,576.2 690.8,575.4 691.8,574.7 692.8,573.9 693.8,573.2 694.8,572.4 695.8,571.6 696.8,570.8 697.8,570.0 698.8,569.2 699.8,568.4 700.8,567.6 701.8,566.8 702.8,565.9 703.8,565.1 704.8,564.2 705.8,563.3 706.8,562.5 707.8,561.6 708.8,560.7 709.8,559.8 710.8,558.9 711.8,558.0 712.8,557.0 713.8,556.1 714.8,555.1 715.8,554.2 716.8,553.2 717.8,552.2 718.8,551.2 719.8,550.2 720.8,549.2 721.8,548.2 722.8,547.2 723.8,546.2 724.8,545.1 725.8,544.1 726.8,543.0 727.8,542.0 728.8,540.9 729.8,539.8 730.8,538.7 731.8,537.6 732.8,536.5 733.8,535.4 734.8,534.3 735.8,533.1 736.8,532.0 737.8,530.9 738.8,529.7 739.8,528.6 740.8,527.4 741.8,526.3 742.8,525.1 743.8,524.0 744.8,522.8 745.8,521.7 746.8,520.5 747.8,519.4 748.8,518.2 749.8,517.1 750.8,515.9 751.8,514.8 752.8,513.7 753.8,512.6 754.8,511.5 755.8,510.4 756.8,509.3 757.8,508.3 758.8,507.3 759.8,506.3 760.8,505.3 761.8,504.4 762.8,503.5 763.8,502.6 764.8,501.8 765.8,501.0 766.8,500.3 767.8,499.6 768.8,499.0 769.8,498.5 770.8,498.0 771.8,497.6 772.8,497.3 773.8,497.1 774.8,497.0 775.8,496.9 776.8,497.0 777.8,497.2 778.8,497.6 779.8,498.0 780.8,498.6 781.8,499.4 782.8,500.3 783.8,501.4 784.8,502.7 785.8,504.2 786.3,505.0 786.8,505.9 787.3,506.8 787.8,507.8 788.3,508.8 788.8,509.9 789.3,511.1 789.8,512.3 790.3,513.5 790.8,514.9 791.3,516.3 791.8,517.7 792.1,518.8 792.5,519.8 792.8,520.9 793.1,522.0 793.5,523.1 793.8,524.3 794.1,525.5 794.5,526.7 794.8,528.0 795.1,529.3 795.5,530.6 795.8,531.9 796.1,533.3 796.5,534.8 796.8,536.2 797.0,537.3 797.3,538.5 797.5,539.6 797.8,540.8 798.0,542.0 798.3,543.2 798.5,544.5 798.8,545.7 799.0,547.0 799.3,548.3 799.5,549.6 799.8,550.9 800.0,552.3 800.3,553.7 800.5,555.0 800.8,556.5 801.0,557.9 801.3,559.3 801.5,560.8 801.8,562.3 802.0,563.5 802.2,564.7 802.4,566.0 802.6,567.2 802.8,568.5 803.0,569.7 803.2,571.0 803.4,572.3 803.6,573.6 803.8,574.9 804.0,576.3 804.2,577.6 804.4,579.0 804.6,580.3 804.8,581.7 805.0,583.1 805.2,584.5 805.4,585.9 805.6,587.3 805.8,588.8 806.0,590.2 806.2,591.7 806.4,593.2 806.6,594.6 806.8,596.1 807.0,597.4 807.1,598.7 807.3,599.9 807.5,601.2 807.6,602.5 807.8,603.8 808.0,605.1 808.1,606.4 808.3,607.7 808.5,609.0 808.6,610.3 808.8,611.7 809.0,613.0 809.1,614.4 809.3,615.7 809.5,617.1 809.6,618.4 809.8,619.8 810.0,621.2 810.1,622.6 810.3,624.0 810.5,625.4 810.6,626.8 810.8,628.2 811.0,629.6 811.1,631.0 811.3,632.4 811.5,633.9 811.6,635.3 811.8,636.8 812.0,638.2 812.1,639.7 812.3,641.1 812.5,642.6 812.6,644.0 812.8,645.5 813.0,647.0 813.1,648.5 813.3,649.9 813.5,651.4 813.6,652.9 813.8,654.4 813.9,655.7 814.1,657.0 814.2,658.3 814.4,659.6 814.5,660.9 814.7,662.1 814.8,663.4 814.9,664.7 815.1,666.0 815.2,667.3 815.4,668.7 815.5,670.0 815.7,671.3 815.8,672.6 815.9,673.9 816.1,675.2 816.2,676.5 816.4,677.8 816.5,679.1 816.7,680.5 816.8,681.8 816.9,683.1 817.1,684.4 817.2,685.7 817.4,687.1 817.5,688.4 817.7,689.7 817.8,691.0 817.9,692.3 818.1,693.7 818.2,695.0 818.4,696.3 818.5,697.6 818.7,699.0 818.8,700.3 818.9,701.6 819.1,702.9 819.2,704.2 819.4,705.6 819.5,706.9 819.7,708.2 819.8,709.5 819.9,710.8 820.1,712.1 820.2,713.4 820.4,714.8 820.5,716.1 820.7,717.4 820.8,718.7 820.9,720.0 821.1,721.3 821.2,722.6 821.4,723.9 821.5,725.2 821.7,726.5 821.8,727.8 822.0,729.3 822.1,730.8 822.3,732.3 822.5,733.8 822.6,735.3 822.8,736.8 823.0,738.3 823.1,739.7 823.3,741.2 823.5,742.7 823.6,744.2 823.8,745.6 824.0,747.1 824.1,748.5 824.3,750.0 824.5,751.4 824.6,752.9 824.8,754.3 825.0,755.7 825.1,757.2 825.3,758.6 825.5,760.0 825.6,761.4 825.8,762.8 826.0,764.2 826.1,765.6 826.3,767.0 826.5,768.4 826.6,769.7 826.8,771.1 827.0,772.5 827.1,773.8 827.3,775.2 827.5,776.5 827.6,777.8 827.8,779.2 828.0,780.5 828.1,781.8 828.3,783.1 828.5,784.4 828.6,785.7 828.8,787.0 829.0,788.2 829.1,789.5 829.3,790.8 829.5,792.0 829.6,793.3 829.8,794.5 830.0,796.0 830.2,797.5 830.4,798.9 830.6,800.3 830.8,801.8 831.0,803.2 831.2,804.6 831.4,806.0 831.6,807.4 831.8,808.7 832.0,810.1 832.2,811.4 832.4,812.8 832.6,814.1 832.8,815.4 833.0,816.7 833.2,818.0 833.4,819.3 833.6,820.5 833.8,821.8 834.0,823.0 834.2,824.2 834.4,825.4 834.6,826.6 834.8,827.8 835.0,829.3 835.3,830.7 835.5,832.1 835.8,833.6 836.0,834.9 836.3,836.3 836.5,837.6 836.8,839.0 837.0,840.3 837.3,841.6 837.5,842.8 837.8,844.1 838.0,845.3 838.3,846.5 838.5,847.7 838.8,848.9 839.1,850.4 839.5,851.9 839.8,853.3 840.1,854.8 840.5,856.2 840.8,857.5 841.1,858.8 841.5,860.1 841.8,861.4 842.1,862.6 842.5,863.8 842.8,865.0 843.1,866.1 843.5,867.2 843.8,868.3 844.1,869.3 844.5,870.3 844.8,871.3 845.3,872.7 845.8,874.1 846.3,875.4 846.8,876.6 847.3,877.8 847.8,878.9 848.3,879.9 848.8,880.9 849.3,881.9 849.8,882.7 850.3,883.6 850.8,884.4 851.8,885.8 852.8,887.0 853.8,888.0 854.8,888.9 855.8,889.6 856.8,890.2 857.8,890.6 858.8,890.9 859.8,891.0 860.8,891.1 861.8,891.0 862.8,890.9 863.8,890.6 864.8,890.3 865.8,889.8 866.8,889.3 867.8,888.8 868.8,888.1 869.8,887.4 870.8,886.7 871.8,885.9 872.8,885.1 873.8,884.2 874.8,883.3 875.8,882.4 876.8,881.4 877.8,880.4 878.8,879.3 879.8,878.3 880.8,877.2 881.8,876.1 882.8,875.0 883.8,873.9 884.8,872.8 885.8,871.7 886.8,870.5 887.8,869.4 888.8,868.2 889.8,867.1 890.8,865.9 891.8,864.8 892.8,863.6 893.8,862.5 894.8,861.3 895.8,860.2 896.8,859.0 897.8,857.9 898.8,856.7 899.8,855.6 900.8,854.5 901.8,853.3 902.8,852.2 903.8,851.1 904.8,850.0 905.8,848.9 906.8,847.8 907.8,846.7 908.8,845.7 909.8,844.6 910.8,843.6 911.8,842.5 912.8,841.5 913.8,840.4 914.8,839.4 915.8,838.4 916.8,837.4 917.8,836.4 918.8,835.4 919.8,834.5 920.8,833.5 921.8,832.5 922.8,831.6 923.8,830.7 924.8,829.7 925.8,828.8 926.8,827.9 927.8,827.0 928.8,826.1 929.8,825.2 930.8,824.4 931.8,823.5 932.8,822.6 933.8,821.8 934.8,821.0 935.8,820.1 936.8,819.3 937.8,818.5 938.8,817.7 939.8,816.9 940.8,816.1 941.8,815.3 942.8,814.6 943.8,813.8 944.8,813.1 945.8,812.3 946.8,811.6 947.8,810.9 948.8,810.1 949.8,809.4 950.8,808.7 951.8,808.0 952.8,807.3 953.8,806.6 954.8,806.0 955.8,805.3 956.8,804.6 957.8,804.0 958.8,803.3 959.8,802.7 960.8,802.0 961.8,801.4 962.8,800.8 963.8,800.2 964.8,799.6 965.8,798.9 966.8,798.4 967.8,797.8 968.8,797.2 969.8,796.6 970.8,796.0 971.8,795.4 972.8,794.9 973.8,794.3 974.8,793.8 975.8,793.2 976.8,792.7 977.8,792.2 978.8,791.6 979.8,791.1 980.8,790.6 981.8,790.1 982.8,789.6 983.8,789.0 984.8,788.5 985.8,788.1 986.8,787.6 987.8,787.1 988.8,786.6 989.8,786.1 990.8,785.6 991.8,785.2 992.8,784.7 993.8,784.3 994.8,783.8 995.8,783.4 996.8,782.9 997.8,782.5 998.8,782.0 999.8,781.6 1000.8,781.2 1001.8,780.7 1002.8,780.3 1003.8,779.9 1004.8,779.5 1005.8,779.1 1006.8,778.7 1007.8,778.3 1008.8,777.9 1009.8,777.5 1010.8,777.1 1011.8,776.7 1012.8,776.3 1013.8,775.9 1014.8,775.5 1015.8,775.2 1016.8,774.8 1017.8,774.4 1018.8,774.1 1019.8,773.7 1020.8,773.3 1021.8,773.0 1022.8,772.6 1023.8,772.3" stroke="#0000ff"/>
<path d="M590.8,620.8 591.8,620.5 592.8,620.2 593.8,619.9 594.8,619.5 595.8,619.2 596.8,618.9 597.8,618.6 598.8,618.3 599.8,618.0 600.8,617.6 601.8,617.3 602.8,617.0 603.8,616.6 604.8,616.3 605.8,616.0 606.8,615.6 607.8,615.3 608.8,614.9 609.8,614.6 610.8,614.2 611.8,613.9 612.8,613.5 613.8,613.2 614.8,612.8 615.8,612.4 616.8,612.0 617.8,611.7 618.8,611.3 619.8,610.9 620.8,610.5 621.8,610.1 622.8,609.7 623.8,609.4 624.8,609.0 625.8,608.6 626.8,608.1 627.8,607.7 628.8,607.3 629.8,606.9 630.8,606.5 631.8,606.1 632.8,605.6 633.8,605.2 634.8,604.8 635.8,604.3 636.8,603.9 637.8,603.4 638.8,603.0 639.8,602.5 640.8,602.1 641.8,601.6 642.8,601.1 643.8,600.6 644.8,600.2 645.8,599.7 646.8,599.2 647.8,598.7 648.8,598.2 649.8,597.7 650.8,597.2 651.8,596.7 652.8,596.1 653.8,595.6 654.8,595.1 655.8,594.6 656.8,594.0 657.8,593.5 658.8,592.9 659.8,592.4 660.8,591.8 661.8,591.2 662.8,590.7 663.8,590.1 664.8,589.5 665.8,588.9 666.8,588.3 667.8,587.7 668.8,587.1 669.8,586.5 670.8,585.9 671.8,585.2 672.8,584.6 673.8,584.0 674.8,583.3 675.8,582.7 676.8,582.0 677.8,581.3 678.8,580.7 679.8,580.0 680.8,579.3 681.8,578.6 682.8,577.9 683.8,577.2 684.8,576.5 685.8,575.7 686.8,575.0 687.8,574.2 688.8,573.5 689.8,572.7 690.8,572.0 691.8,571.2 692.8,570.4 693.8,569.6 694.8,568.8 695.8,568.0 696.8,567.2 697.8,566.4 698.8,565.5 699.8,564.7 700.8,563.8 701.8,563.0 702.8,562.1 703.8,561.2 704.8,560.3 705.8,559.4 706.8,558.5 707.8,557.6 708.8,556.7 709.8,555.7 710.8,554.8 711.8,553.8 712.8,552.9 713.8,551.9 714.8,550.9 715.8,549.9 716.8,548.9 717.8,547.9 718.8,546.9 719.8,545.8 720.8,544.8 721.8,543.7 722.8,542.7 723.8,541.6 724.8,540.5 725.8,539.4 726.8,538.3 727.8,537.2 728.8,536.1 729.8,535.0 730.8,533.9 731.8,532.7 732.8,531.6 733.8,530.4 734.8,529.3 735.8,528.1 736.8,526.9 737.8,525.8 738.8,524.6 739.8,523.4 740.8,522.2 741.8,521.0 742.8,519.8 743.8,518.6 744.8,517.5 745.8,516.3 746.8,515.1 747.8,513.9 748.8,512.7 749.8,511.6 750.8,510.4 751.8,509.3 752.8,508.1 753.8,507.0 754.8,505.9 755.8,504.8 756.8,503.7 757.8,502.7 758.8,501.7 759.8,500.7 760.8,499.8 761.8,498.8 762.8,498.0 763.8,497.1 764.8,496.4 765.8,495.6 766.8,495.0 767.8,494.4 768.8,493.8 769.8,493.4 770.8,493.0 771.8,492.7 772.8,492.5 773.8,492.5 774.8,492.5 775.8,492.6 776.8,492.9 777.8,493.3 778.8,493.8 779.8,494.5 780.8,495.4 781.8,496.4 782.8,497.7 783.8,499.1 784.3,499.9 784.8,500.7 785.3,501.6 785.8,502.5 786.3,503.5 786.8,504.6 787.3,505.7 787.8,506.9 788.3,508.2 788.8,509.5 789.3,510.9 789.8,512.3 790.1,513.3 790.5,514.3 790.8,515.4 791.1,516.5 791.5,517.6 791.8,518.8 792.1,520.0 792.5,521.2 792.8,522.4 793.1,523.7 793.5,525.0 793.8,526.4 794.1,527.8 794.5,529.2 794.8,530.7 795.0,531.8 795.3,532.9 795.5,534.1 795.8,535.3 796.0,536.4 796.3,537.7 796.5,538.9 796.8,540.2 797.0,541.4 797.3,542.7 797.5,544.0 797.8,545.4 798.0,546.7 798.3,548.1 798.5,549.5 798.8,550.9 799.0,552.4 799.3,553.8 799.5,555.3 799.8,556.8 800.0,558.0 800.2,559.3 800.4,560.5 800.6,561.8 800.8,563.0 801.0,564.3 801.2,565.6 801.4,566.9 801.6,568.2 801.8,569.6 802.0,570.9 802.2,572.3 802.4,573.6 802.6,575.0 802.8,576.4 803.0,577.8 803.2,579.3 803.4,580.7 803.6,582.1 803.8,583.6 804.0,585.1 804.2,586.5 804.4,588.0 804.6,589.5 804.8,591.1 805.0,592.3 805.1,593.6 805.3,594.9 805.5,596.2 805.6,597.5 805.8,598.8 806.0,600.1 806.1,601.5 806.3,602.8 806.5,604.2 806.6,605.5 806.8,606.9 807.0,608.2 807.1,609.6 807.3,611.0 807.5,612.4 807.6,613.8 807.8,615.2 808.0,616.6 808.1,618.0 808.3,619.4 808.5,620.8 808.6,622.2 808.8,623.7 809.0,625.1 809.1,626.6 809.3,628.0 809.5,629.5 809.6,631.0 809.8,632.4 810.0,633.9 810.1,635.4 810.3,636.9 810.5,638.4 810.6,639.9 810.8,641.4 810.9,642.7 811.1,644.0 811.2,645.3 811.4,646.6 811.5,647.9 811.7,649.2 811.8,650.5 811.9,651.8 812.1,653.1 812.2,654.4 812.4,655.8 812.5,657.1 812.7,658.4 812.8,659.7 812.9,661.1 813.1,662.4 813.2,663.8 813.4,665.1 813.5,666.4 813.7,667.8 813.8,669.1 813.9,670.5 814.1,671.8 814.2,673.2 814.4,674.5 814.5,675.9 814.7,677.2 814.8,678.6 814.9,679.9 815.1,681.3 815.2,682.6 815.4,684.0 815.5,685.3 815.7,686.7 815.8,688.1 815.9,689.4 816.1,690.8 816.2,692.1 816.4,693.5 816.5,694.9 816.7,696.2 816.8,697.6 816.9,698.9 817.1,700.3 817.2,701.7 817.4,703.0 817.5,704.4 817.7,705.7 817.8,707.1 817.9,708.4 818.1,709.8 818.2,711.1 818.4,712.5 818.5,713.8 818.7,715.2 818.8,716.5 818.9,717.9 819.1,719.2 819.2,720.6 819.4,721.9 819.5,723.2 819.7,724.6 819.8,725.9 819.9,727.2 820.1,728.6 820.2,729.9 820.4,731.2 820.5,732.6 820.7,733.9 820.8,735.2 820.9,736.5 821.1,737.8 821.2,739.1 821.4,740.4 821.5,741.7 821.7,743.0 821.8,744.3 822.0,745.8 822.1,747.3 822.3,748.8 822.5,750.3 822.6,751.8 822.8,753.3 823.0,754.8 823.1,756.3 823.3,757.7 823.5,759.2 823.6,760.6 823.8,762.1 824.0,763.5 824.1,765.0 824.3,766.4 824.5,767.8 824.6,769.2 824.8,770.7 825.0,772.1 825.1,773.5 825.3,774.9 825.5,776.2 825.6,777.6 825.8,779.0 826.0,780.4 826.1,781.7 826.3,783.1 826.5,784.4 826.6,785.7 826.8,787.1 827.0,788.4 827.1,789.7 827.3,791.0 827.5,792.3 827.6,793.6 827.8,794.9 828.0,796.1 828.1,797.4 828.3,798.7 828.5,799.9 828.6,801.2 828.8,802.4 829.0,803.9 829.2,805.3 829.4,806.8 829.6,808.2 829.8,809.6 830.0,811.0 830.2,812.4 830.4,813.8 830.6,815.2 830.8,816.5 831.0,817.9 831.2,819.2 831.4,820.5 831.6,821.8 831.8,823.1 832.0,824.4 832.2,825.6 832.4,826.9 832.6,828.1 832.8,829.4 833.0,830.9 833.3,832.4 833.5,833.9 833.8,835.3 834.0,836.7 834.3,838.2 834.5,839.5 834.8,840.9 835.0,842.3 835.3,843.6 835.5,844.9 835.8,846.2 836.0,847.5 836.3,848.7 836.5,849.9 836.8,851.2 837.0,852.3 837.3,853.5 837.5,854.7 837.8,855.8 838.1,857.3 838.5,858.7 838.8,860.1 839.1,861.5 839.5,862.8 839.8,864.1 840.1,865.4 840.5,866.6 840.8,867.8 841.1,869.0 841.5,870.1 841.8,871.3 842.1,872.3 842.5,873.4 842.8,874.4 843.3,875.9 843.8,877.3 844.3,878.6 844.8,879.9 845.3,881.1 845.8,882.2 846.3,883.3 846.8,884.3 847.3,885.3 847.8,886.2 848.3,887.1 848.8,887.9 849.8,889.3 850.8,890.6 851.8,891.6 852.8,892.5 853.8,893.2 854.8,893.8 855.8,894.2 856.8,894.5 857.8,894.7 858.8,894.7 859.8,894.7 860.8,894.5 861.8,894.2 862.8,893.9 863.8,893.4 864.8,892.9 865.8,892.3 866.8,891.6 867.8,890.9 868.8,890.2 869.8,889.3 870.8,888.5 871.8,887.6 872.8,886.6 873.8,885.6 874.8,884.6 875.8,883.6 876.8,882.5 877.8,881.5 878.8,880.4 879.8,879.2 880.8,878.1 881.8,877.0 882.8,875.8 883.8,874.6 884.8,873.5 885.8,872.3 886.8,871.1 887.8,869.9 888.8,868.7 889.8,867.5 890.8,866.3 891.8,865.2 892.8,864.0 893.8,862.8 894.8,861.6 895.8,860.4 896.8,859.3 897.8,858.1 898.8,856.9 899.8,855.8 900.8,854.6 901.8,853.5 902.8,852.4 903.8,851.2 904.8,850.1 905.8,849.0 906.8,847.9 907.8,846.8 908.8,845.7 909.8,844.7 910.8,843.6 911.8,842.6 912.8,841.5 913.8,840.5 914.8,839.5 915.8,838.4 916.8,837.4 917.8,836.4 918.8,835.4 919.8,834.5 920.8,833.5 921.8,832.5 922.8,831.6 923.8,830.7 924.8,829.7 925.8,828.8 926.8,827.9 927.8,827.0 928.8,826.1 929.8,825.2 930.8,824.4 931.8,823.5 932.8,822.6 933.8,821.8 934.8,821.0 935.8,820.1 936.8,819.3 937.8,818.5 938.8,817.7 939.8,816.9 940.8,816.1 941.8,815.3 942.8,814.6 943.8,813.8 944.8,813.1 945.8,812.3 946.8,811.6 947.8,810.8 948.8,810.1 949.8,809.4 950.8,808.7 951.8,808.0 952.8,807.3 953.8,806.6 954.8,806.0 955.8,805.3 956.8,804.6 957.8,804.0 958.8,803.3 959.8,802.7 960.8,802.0 961.8,801.4 962.8,800.8 963.8,800.2 964.8,799.6 965.8,799.0 966.8,798.4 967.8,797.8 968.8,797.2 969.8,796.6 970.8,796.0 971.8,795.5 972.8,794.9 973.8,794.3 974.8,793.8 975.8,793.2 976.8,792.7 977.8,792.2 978.8,791.6 979.8,791.1 980.8,790.6 981.8,790.1 982.8,789.6 983.8,789.1 984.8,788.6 985.8,788.1 986.8,787.6 987.8,787.1 988.8,786.6 989.8,786.1 990.8,785.7 991.8,785.2 992.8,784.7 993.8,784.3 994.8,783.8 995.8,783.4 996.8,782.9 997.8,782.5 998.8,782.1 999.8,781.6 1000.8,781.2 1001.8,780.8 1002.8,780.3 1003.8,779.9 1004.8,779.5 1005.8,779.1 1006.8,778.7 1007.8,778.3 1008.8,777.9 1009.8,777.5 1010.8,777.1 1011.8,776.7 1012.8,776.3 1013.8,775.9 1014.8,775.6 1015.8,775.2 1016.8,774.8 1017.8,774.4 1018.8,774.1 1019.8,773.7 1020.8,773.4 1021.8,773.0 1022.8,772.6 1023.8,772.3" stroke="#ff0000"/>
<path d="M590.8,683.3 591.8,683.2 592.8,683.2 593.8,683.1 594.8,683.1 595.8,683.0 596.8,683.0 597.8,682.9 598.8,682.9 599.8,682.8 600.8,682.8 601.8,682.7 602.8,682.7 603.8,682.6 604.8,682.6 605.8,682.5 606.8,682.5 607.8,682.4 608.8,682.4 609.8,682.3 610.8,682.3 611.8,682.2 612.8,682.2 613.8,682.1 614.8,682.1 615.8,682.0 616.8,681.9 617.8,681.9 618.8,681.8 619.8,681.8 620.8,681.7 621.8,681.7 622.8,681.6 623.8,681.5 624.8,681.5 625.8,681.4 626.8,681.4 627.8,681.3 628.8,681.2 629.8,681.2 630.8,681.1 631.8,681.1 632.8,681.0 633.8,680.9 634.8,680.9 635.8,680.8 636.8,680.7 637.8,680.7 638.8,680.6 639.8,680.5 640.8,680.4 641.8,680.4 642.8,680.3 643.8,680.2 644.8,680.2 645.8,680.1 646.8,680.0 647.8,679.9 648.8,679.9 649.8,679.8 650.8,679.7 651.8,679.6 652.8,679.6 653.8,679.5 654.8,679.4 655.8,679.3 656.8,679.2 657.8,679.2 658.8,679.1 659.8,679.0 660.8,678.9 661.8,678.8 662.8,678.7 663.8,678.6 664.8,678.6 665.8,678.5 666.8,678.4 667.8,678.3 668.8,678.2 669.8,678.1 670.8,678.0 671.8,677.9 672.8,677.8 673.8,677.7 674.8,677.6 675.8,677.5 676.8,677.4 677.8,677.3 678.8,677.2 679.8,677.1 680.8,677.0 681.8,676.9 682.8,676.8 683.8,676.7 684.8,676.6 685.8,676.5 686.8,676.4 687.8,676.2 688.8,676.1 689.8,676.0 690.8,675.9 691.8,675.8 692.8,675.7 693.8,675.5 694.8,675.4 695.8,675.3 696.8,675.2 697.8,675.1 698.8,674.9 699.8,674.8 700.8,674.7 701.8,674.5 702.8,674.4 703.8,674.3 704.8,674.1 705.8,674.0 706.8,673.9 707.8,673.7 708.8,673.6 709.8,673.5 710.8,673.3 711.8,673.2 712.8,673.0 713.8,672.9 714.8,672.7 715.8,672.6 716.8,672.4 717.8,672.3 718.8,672.1 719.8,672.0 720.8,671.8 721.8,671.7 722.8,671.5 723.8,671.3 724.8,671.2 725.8,671.0 726.8,670.9 727.8,670.7 728.8,670.5 729.8,670.4 730.8,670.2 731.8,670.0 732.8,669.9 733.8,669.7 734.8,669.5 735.8,669.4 736.8,669.2 737.8,669.0 738.8,668.9 739.8,668.7 740.8,668.5 741.8,668.4 742.8,668.2 743.8,668.0 744.8,667.9 745.8,667.7 746.8,667.6 747.8,667.4 748.8,667.2 749.8,667.1 750.8,666.9 751.8,666.8 752.8,666.7 753.8,666.5 754.8,666.4 755.8,666.3 756.8,666.2 757.8,666.0 758.8,665.9 759.8,665.8 760.8,665.7 761.8,665.7 762.8,665.6 763.8,665.5 764.8,665.5 765.8,665.5 766.8,665.4 767.8,665.4 768.8,665.5 769.8,665.5 770.8,665.5 771.8,665.6 772.8,665.7 773.8,665.8 774.8,665.9 775.8,666.1 776.8,666.3 777.8,666.5 778.8,666.7 779.8,667.0 780.8,667.3 781.8,667.7 782.8,668.0 783.8,668.5 784.8,668.9 785.8,669.4 786.8,669.9 787.8,670.5 788.8,671.1 789.8,671.8 790.8,672.5 791.8,673.3 792.8,674.1 793.8,674.9 794.8,675.8 795.8,676.8 796.8,677.7 797.8,678.8 798.8,679.8 799.8,681.0 800.8,682.1 801.8,683.3 802.8,684.5 803.8,685.7 804.8,687.0 805.8,688.3 806.8,689.6 807.8,690.9 808.8,692.3 809.8,693.6 810.8,694.9 811.8,696.3 812.8,697.6 813.8,698.9 814.8,700.2 815.8,701.5 816.8,702.8 817.8,704.0 818.8,705.2 819.8,706.3 820.8,707.5 821.8,708.5 822.8,709.6 823.8,710.6 824.8,711.5 825.8,712.5 826.8,713.3 827.8,714.1 828.8,714.9 829.8,715.6 830.8,716.3 831.8,717.0 832.8,717.6 833.8,718.1 834.8,718.6 835.8,719.1 836.8,719.5 837.8,719.9 838.8,720.3 839.8,720.6 840.8,720.9 841.8,721.1 842.8,721.4 843.8,721.5 844.8,721.7 845.8,721.9 846.8,722.0 847.8,722.1 848.8,722.2 849.8,722.2 850.8,722.2 851.8,722.3 852.8,722.3 853.8,722.2 854.8,722.2 855.8,722.2 856.8,722.1 857.8,722.1 858.8,722.0 859.8,721.9 860.8,721.8 861.8,721.7 862.8,721.6 863.8,721.5 864.8,721.4 865.8,721.2 866.8,721.1 867.8,721.0 868.8,720.8 869.8,720.7 870.8,720.5 871.8,720.4 872.8,720.2 873.8,720.0 874.8,719.9 875.8,719.7 876.8,719.6 877.8,719.4 878.8,719.2 879.8,719.1 880.8,718.9 881.8,718.7 882.8,718.6 883.8,718.4 884.8,718.2 885.8,718.1 886.8,717.9 887.8,717.7 888.8,717.6 889.8,717.4 890.8,717.2 891.8,717.1 892.8,716.9 893.8,716.7 894.8,716.6 895.8,716.4 896.8,716.3 897.8,716.1 898.8,715.9 899.8,715.8 900.8,715.6 901.8,715.5 902.8,715.3 903.8,715.2 904.8,715.0 905.8,714.9 906.8,714.7 907.8,714.6 908.8,714.4 909.8,714.3 910.8,714.2 911.8,714.0 912.8,713.9 913.8,713.7 914.8,713.6 915.8,713.5 916.8,713.3 917.8,713.2 918.8,713.1 919.8,712.9 920.8,712.8 921.8,712.7 922.8,712.6 923.8,712.4 924.8,712.3 925.8,712.2 926.8,712.1 927.8,712.0 928.8,711.8 929.8,711.7 930.8,711.6 931.8,711.5 932.8,711.4 933.8,711.3 934.8,711.2 935.8,711.1 936.8,710.9 937.8,710.8 938.8,710.7 939.8,710.6 940.8,710.5 941.8,710.4 942.8,710.3 943.8,710.2 944.8,710.1 945.8,710.0 946.8,709.9 947.8,709.8 948.8,709.7 949.8,709.6 950.8,709.5 951.8,709.4 952.8,709.4 953.8,709.3 954.8,709.2 955.8,709.1 956.8,709.0 957.8,708.9 958.8,708.8 959.8,708.7 960.8,708.7 961.8,708.6 962.8,708.5 963.8,708.4 964.8,708.3 965.8,708.3 966.8,708.2 967.8,708.1 968.8,708.0 969.8,707.9 970.8,707.9 971.8,707.8 972.8,707.7 973.8,707.6 974.8,707.6 975.8,707.5 976.8,707.4 977.8,707.3 978.8,707.3 979.8,707.2 980.8,707.1 981.8,707.1 982.8,707.0 983.8,706.9 984.8,706.9 985.8,706.8 986.8,706.7 987.8,706.7 988.8,706.6 989.8,706.5 990.8,706.5 991.8,706.4 992.8,706.4 993.8,706.3 994.8,706.2 995.8,706.2 996.8,706.1 997.8,706.1 998.8,706.0 999.8,705.9 1000.8,705.9 1001.8,705.8 1002.8,705.8 1003.8,705.7 1004.8,705.7 1005.8,705.6 1006.8,705.6 1007.8,705.5 1008.8,705.4 1009.8,705.4 1010.8,705.3 1011.8,705.3 1012.8,705.2 1013.8,705.2 1014.8,705.1 1015.8,705.1 1016.8,705.0 1017.8,705.0 1018.8,704.9 1019.8,704.9 1020.8,704.8 1021.8,704.8 1022.8,704.7 1023.8,704.7" stroke="#000000" stroke-dasharray="6.6,2.93" stroke-dashoffset="1.2"/>
</g>
<path d="M590.8,694.4H1024.0" stroke="#000" stroke-opacity="0.55" stroke-width="1"/>
<path d="M590.8,910.5V477.5H1024.0M1024.0,910.5H590.8" fill="none" stroke="#6e6e6e" stroke-width="1"/>
<path d="M1024.0,477.0V911.0" fill="none" stroke="#6a6a6a" stroke-width="1"/>
<path d="M590.80,910.5v-6.3M590.80,477.5v6.3M604.12,910.5v-3.7M604.12,477.5v3.7M617.44,910.5v-3.7M617.44,477.5v3.7M630.76,910.5v-3.7M630.76,477.5v3.7M644.08,910.5v-3.7M644.08,477.5v3.7M657.40,910.5v-6.3M657.40,477.5v6.3M670.72,910.5v-3.7M670.72,477.5v3.7M684.04,910.5v-3.7M684.04,477.5v3.7M697.36,910.5v-3.7M697.36,477.5v3.7M710.68,910.5v-3.7M710.68,477.5v3.7M724.00,910.5v-6.3M724.00,477.5v6.3M737.32,910.5v-3.7M737.32,477.5v3.7M750.64,910.5v-3.7M750.64,477.5v3.7M763.96,910.5v-3.7M763.96,477.5v3.7M777.28,910.5v-3.7M777.28,477.5v3.7M790.60,910.5v-6.3M790.60,477.5v6.3M803.92,910.5v-3.7M803.92,477.5v3.7M817.24,910.5v-3.7M817.24,477.5v3.7M830.56,910.5v-3.7M830.56,477.5v3.7M843.88,910.5v-3.7M843.88,477.5v3.7M857.20,910.5v-6.3M857.20,477.5v6.3M870.52,910.5v-3.7M870.52,477.5v3.7M883.84,910.5v-3.7M883.84,477.5v3.7M897.16,910.5v-3.7M897.16,477.5v3.7M910.48,910.5v-3.7M910.48,477.5v3.7M923.80,910.5v-6.3M923.80,477.5v6.3M937.12,910.5v-3.7M937.12,477.5v3.7M950.44,910.5v-3.7M950.44,477.5v3.7M963.76,910.5v-3.7M963.76,477.5v3.7M977.08,910.5v-3.7M977.08,477.5v3.7M990.40,910.5v-6.3M990.40,477.5v6.3M1003.72,910.5v-3.7M1003.72,477.5v3.7M1017.04,910.5v-3.7M1017.04,477.5v3.7M590.8,895.03h3.7M1024.0,895.03h-3.7M590.8,879.57h3.7M1024.0,879.57h-3.7M590.8,864.11h3.7M1024.0,864.11h-3.7M590.8,848.65h6.3M1024.0,848.65h-6.3M590.8,833.19h3.7M1024.0,833.19h-3.7M590.8,817.73h3.7M1024.0,817.73h-3.7M590.8,802.27h3.7M1024.0,802.27h-3.7M590.8,786.81h3.7M1024.0,786.81h-3.7M590.8,771.35h6.3M1024.0,771.35h-6.3M590.8,755.89h3.7M1024.0,755.89h-3.7M590.8,740.43h3.7M1024.0,740.43h-3.7M590.8,724.97h3.7M1024.0,724.97h-3.7M590.8,709.51h3.7M1024.0,709.51h-3.7M590.8,694.05h6.3M1024.0,694.05h-6.3M590.8,678.59h3.7M1024.0,678.59h-3.7M590.8,663.13h3.7M1024.0,663.13h-3.7M590.8,647.67h3.7M1024.0,647.67h-3.7M590.8,632.21h3.7M1024.0,632.21h-3.7M590.8,616.75h6.3M1024.0,616.75h-6.3M590.8,601.29h3.7M1024.0,601.29h-3.7M590.8,585.83h3.7M1024.0,585.83h-3.7M590.8,570.37h3.7M1024.0,570.37h-3.7M590.8,554.91h3.7M1024.0,554.91h-3.7M590.8,539.45h6.3M1024.0,539.45h-6.3M590.8,523.99h3.7M1024.0,523.99h-3.7M590.8,508.53h3.7M1024.0,508.53h-3.7M590.8,493.07h3.7M1024.0,493.07h-3.7" stroke="#444" stroke-width="1" fill="none"/>
<text transform="translate(590.80,946.5) scale(1,1.03)" text-anchor="middle">0</text><text transform="translate(657.40,946.5) scale(1,1.03)" text-anchor="middle">1</text><text transform="translate(724.00,946.5) scale(1,1.03)" text-anchor="middle">2</text><text transform="translate(790.60,946.5) scale(1,1.03)" text-anchor="middle">3</text><text transform="translate(857.20,946.5) scale(1,1.03)" text-anchor="middle">4</text><text transform="translate(923.80,946.5) scale(1,1.03)" text-anchor="middle">5</text><text transform="translate(990.40,946.5) scale(1,1.03)" text-anchor="middle">6</text><text transform="translate(584.80,860.2) scale(1,1.03)" text-anchor="end">2</text><path d="M545.8,851.2H563.0" stroke="#000" stroke-width="2.1"/><text transform="translate(584.80,782.9) scale(1,1.03)" text-anchor="end">1</text><path d="M545.8,773.9H563.0" stroke="#000" stroke-width="2.1"/><text transform="translate(584.80,705.6) scale(1,1.03)" text-anchor="end">0</text><text transform="translate(584.80,628.4) scale(1,1.03)" text-anchor="end">1</text><text transform="translate(584.80,551.0) scale(1,1.03)" text-anchor="end">2</text><text transform="translate(106.3,38.6) scale(1,1.03)">(a)</text><text transform="translate(602.6,39.8) scale(1,1.03)">(c)</text><text transform="translate(105.0,522.2) scale(1,1.03)">(b)</text><text transform="translate(605.0,519.8) scale(1,1.03)">(d)</text><text transform="translate(434.5,38.8) scale(1,1.03)">MoS<tspan font-size="23.5" dy="5.5">2</tspan></text><text transform="translate(916.4,39.8) scale(1,1.03)">MoSe<tspan font-size="23.5" dy="5.5">2</tspan></text><text transform="translate(442.0,522.4) scale(1,1.03)">WS<tspan font-size="23.5" dy="5.5">2</tspan></text><text transform="translate(931.3,520.4) scale(1,1.03)">WSe<tspan font-size="23.5" dy="5.5">2</tspan></text><path d="M317.3,78.2h34.7" stroke="#ff0000" stroke-width="2"/>
<text transform="translate(369.0,89.6) scale(1,1.03)" fill="#ff0000" style="stroke:#ff0000">OP<tspan dy="2.3" style="stroke-width:0.9px">−</tspan><tspan dx="2.1" dy="-2.3">AB</tspan></text>
<path d="M317.3,108.3h34.7" stroke="#00aaaa" stroke-width="2"/>
<text transform="translate(366.8,119.7) scale(1,1.03)" fill="#00aaaa" style="stroke:#00aaaa">OP<tspan dy="2.3" style="stroke-width:0.9px">−</tspan><tspan dx="2.2" dy="-2.3">EM</tspan></text>
<path d="M317.3,138.4h34.7" stroke="#0000ff" stroke-width="2"/>
<text transform="translate(368.0,149.8) scale(1,1.03)" fill="#0000ff" style="stroke:#0000ff">AC</text>
<path d="M317.3,168.5h34.7" stroke="#000000" stroke-width="2" stroke-dasharray="6.5,2.9"/>
<text transform="translate(369.0,179.9) scale(1,1.03)" fill="#000000" style="stroke:#000000">no phonon</text><path d="M816.5999999999999,77.0h34.7" stroke="#ff0000" stroke-width="2"/>
<text transform="translate(868.3,88.4) scale(1,1.03)" fill="#ff0000" style="stroke:#ff0000">OP<tspan dy="2.3" style="stroke-width:0.9px">−</tspan><tspan dx="2.1" dy="-2.3">AB</tspan></text>
<path d="M816.5999999999999,105.5h34.7" stroke="#00aaaa" stroke-width="2"/>
<text transform="translate(866.1,116.9) scale(1,1.03)" fill="#00aaaa" style="stroke:#00aaaa">OP<tspan dy="2.3" style="stroke-width:0.9px">−</tspan><tspan dx="2.2" dy="-2.3">EM</tspan></text>
<path d="M816.5999999999999,134.0h34.7" stroke="#0000ff" stroke-width="2"/>
<text transform="translate(867.3,145.4) scale(1,1.03)" fill="#0000ff" style="stroke:#0000ff">AC</text>
<path d="M816.5999999999999,162.5h34.7" stroke="#000000" stroke-width="2" stroke-dasharray="6.5,2.9"/>
<text transform="translate(868.3,173.9) scale(1,1.03)" fill="#000000" style="stroke:#000000">no phonon</text><g transform="translate(22.7,253.8) rotate(-90)"><text transform="translate(-1.29,0) scale(1,1.03)">Δn</text><path d="M38.4,5.2L48.3,-24.5" stroke="#000" stroke-width="1.7"/><text transform="translate(48.4,0) scale(1,1.03)" font-style="italic">n<tspan font-size="23.5" dy="6.0">r</tspan></text></g><g transform="translate(22.7,731.6) rotate(-90)"><text transform="translate(-1.29,0) scale(1,1.03)">Δn</text><path d="M38.4,5.2L48.3,-24.5" stroke="#000" stroke-width="1.7"/><text transform="translate(48.4,0) scale(1,1.03)" font-style="italic">n<tspan font-size="23.5" dy="6.0">r</tspan></text></g><text transform="translate(237.85,997.8) scale(1,0.98)"><tspan font-style="italic">h</tspan>Ω (meV)</text><path d="M239.50,983.7L252.20,978.6" stroke="#000" stroke-width="1.8"/><text transform="translate(737.75,997.8) scale(1,0.98)"><tspan font-style="italic">h</tspan>Ω (meV)</text><path d="M739.40,983.7L752.10,978.6" stroke="#000" stroke-width="1.8"/></svg>
</body></html>
